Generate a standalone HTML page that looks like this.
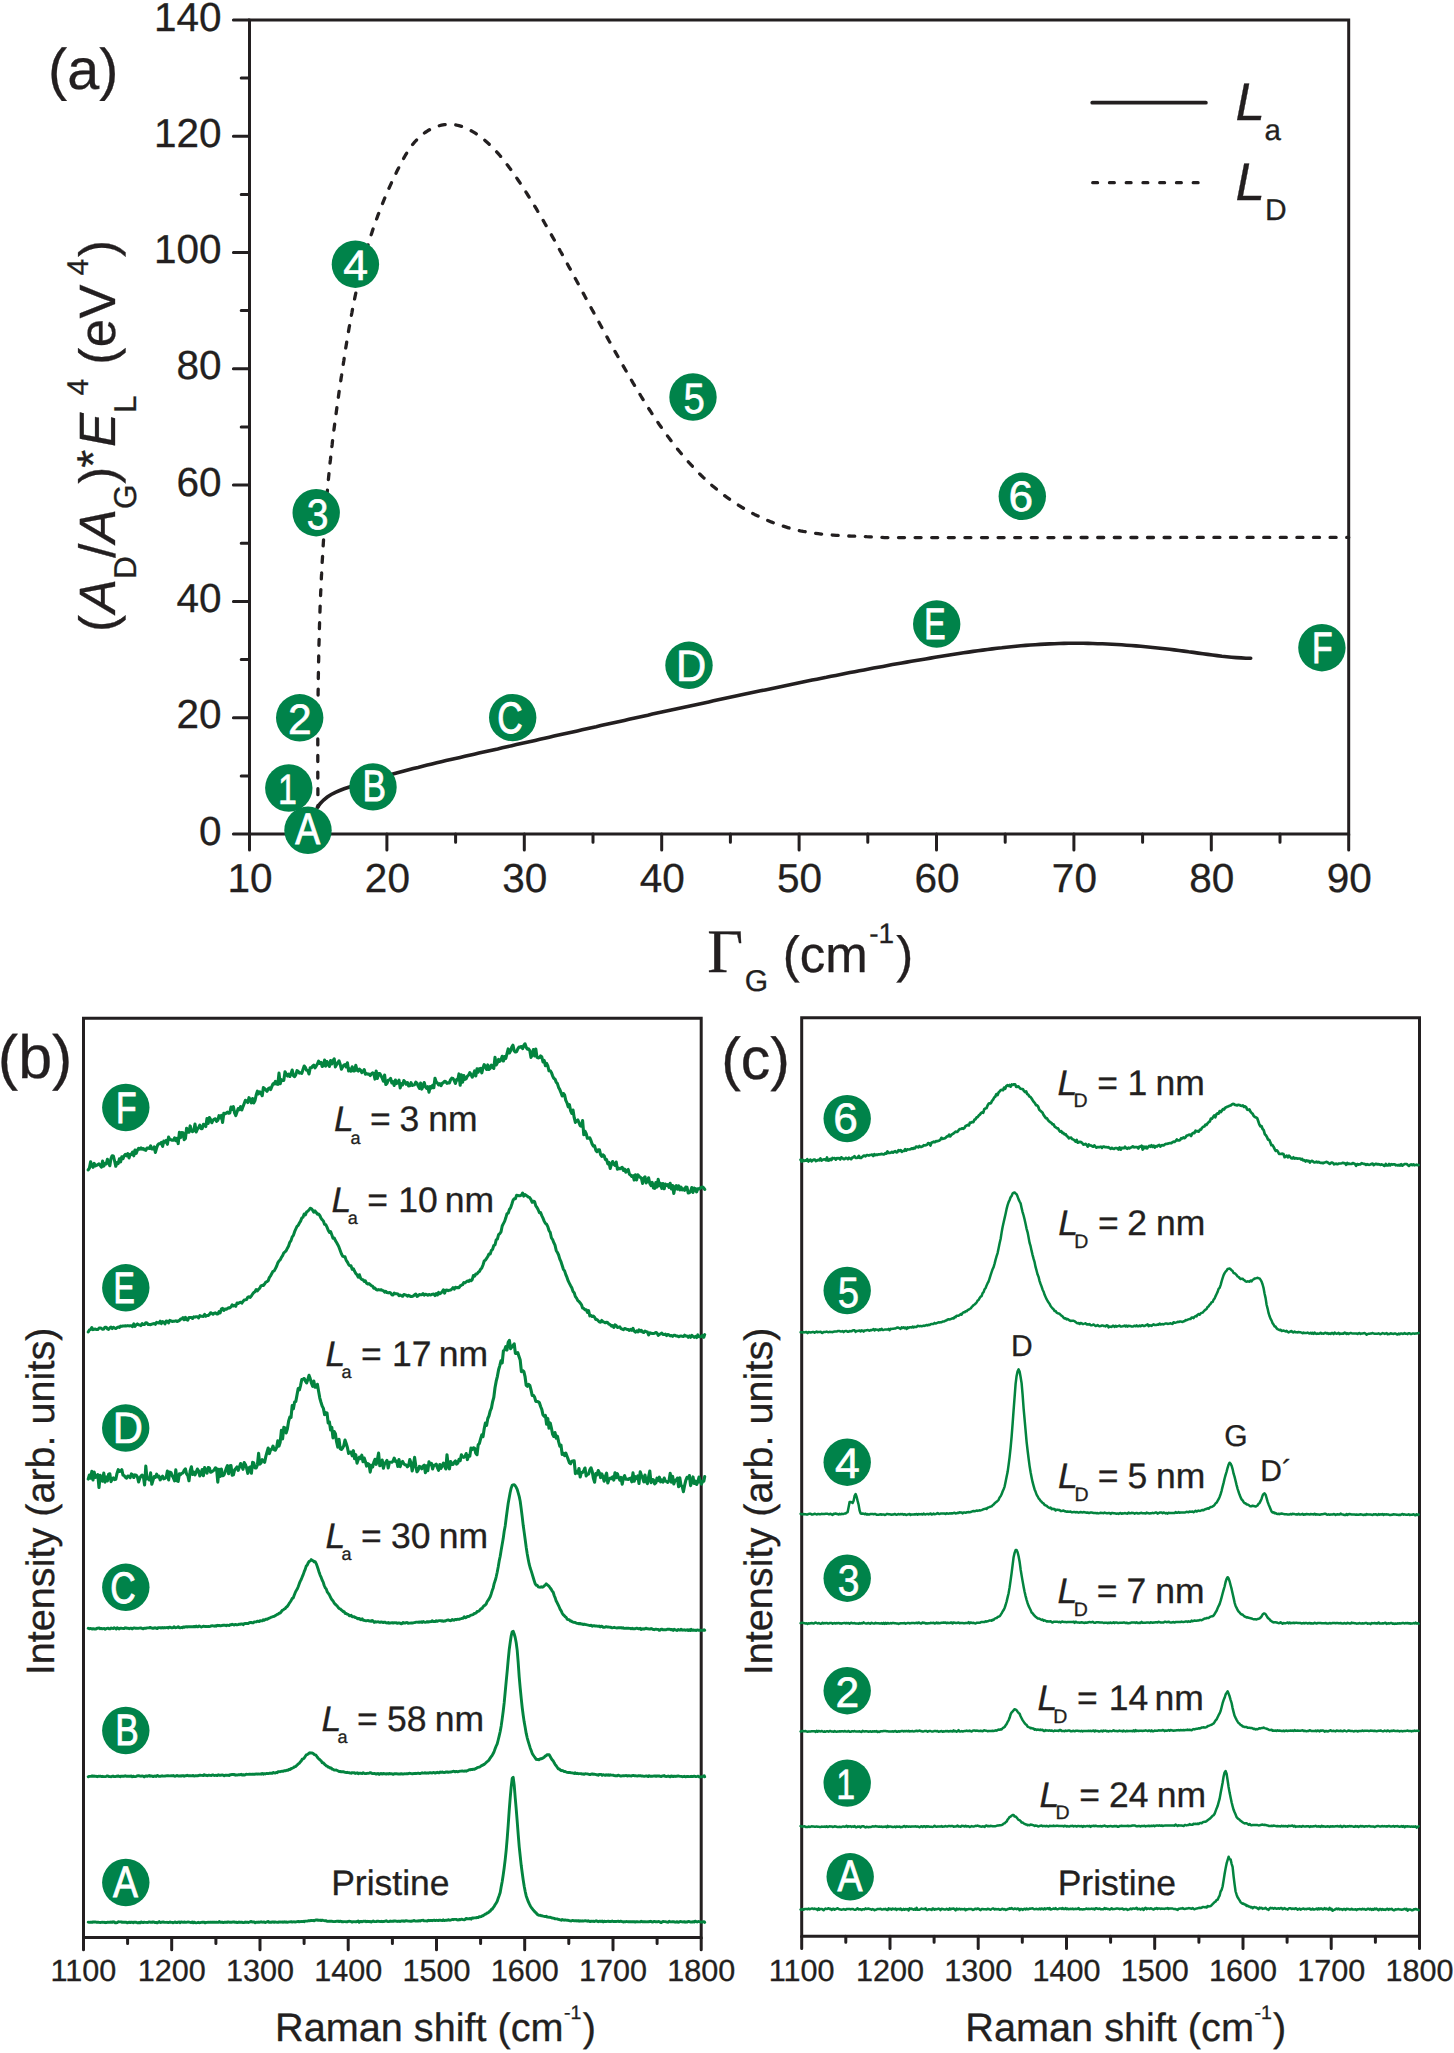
<!DOCTYPE html>
<html lang="en"><head><meta charset="utf-8"><title>Raman figure</title>
<style>html,body{margin:0;padding:0;background:#fff;width:1454px;height:2053px;overflow:hidden}svg{display:block}text{font-family:'Liberation Sans', Arial, sans-serif;fill:#231f20;text-rendering:geometricPrecision;stroke:#231f20;stroke-width:.3px}.ax{stroke:#231f20;stroke-width:3;fill:none;stroke-linecap:round}.sp{stroke:#03843f;fill:none;stroke-linejoin:round;stroke-linecap:round}.cl{fill:#fff;stroke:#fff;stroke-width:0.6px;vector-effect:non-scaling-stroke;stroke-linejoin:miter}.it{font-style:italic}</style></head><body>
<svg width="1454" height="2053" viewBox="0 0 1454 2053">
<rect width="1454" height="2053" fill="#fff"/>
<g id="panel-a">
<path class="ax" style="stroke-linecap:square" d="M249.5 19.9 H1348.7 V834 H249.5 Z"/>
<path class="ax" d="M249.5 834 h-16.1M249.5 775.9 h-8.3M249.5 717.7 h-16.1M249.5 659.5 h-8.3M249.5 601.4 h-16.1M249.5 543.2 h-8.3M249.5 485.1 h-16.1M249.5 426.9 h-8.3M249.5 368.8 h-16.1M249.5 310.6 h-8.3M249.5 252.5 h-16.1M249.5 194.4 h-8.3M249.5 136.2 h-16.1M249.5 78 h-8.3M249.5 19.9 h-16.1M249.5 834 v16M318.2 834 v8.3M386.9 834 v16M455.6 834 v8.3M524.3 834 v16M593 834 v8.3M661.7 834 v16M730.4 834 v8.3M799.1 834 v16M867.8 834 v8.3M936.5 834 v16M1005.2 834 v8.3M1073.9 834 v16M1142.6 834 v8.3M1211.3 834 v16M1280 834 v8.3M1348.7 834 v16"/>
<g font-size="40.5" text-anchor="end">
<text x="221.6" y="844.6">0</text>
<text x="221.6" y="728.3">20</text>
<text x="221.6" y="612">40</text>
<text x="221.6" y="495.7">60</text>
<text x="221.6" y="379.4">80</text>
<text x="221.6" y="263.1">100</text>
<text x="221.6" y="146.8">120</text>
<text x="221.6" y="30.5">140</text>
</g>
<g font-size="40.5" text-anchor="middle">
<text x="250" y="892.4">10</text>
<text x="387.4" y="892.4">20</text>
<text x="524.8" y="892.4">30</text>
<text x="662.2" y="892.4">40</text>
<text x="799.6" y="892.4">50</text>
<text x="937" y="892.4">60</text>
<text x="1074.4" y="892.4">70</text>
<text x="1211.8" y="892.4">80</text>
<text x="1349.2" y="892.4">90</text>
</g>
<path d="M1348.7 537.4 L884.6 537.6 L881.7 537.4 L878.7 537.3 L875.7 537.1 L872.6 536.9 L869.6 536.8 L866.6 536.7 L863.6 536.5 L860.6 536.4 L857.5 536.3 L854.5 536.2 L851.5 536.1 L848.4 536 L845.4 535.8 L842.4 535.7 L839.3 535.5 L836.3 535.3 L833.3 535.1 L830.2 534.9 L827.2 534.6 L824.2 534.4 L821.2 534.1 L818.2 533.7 L815.2 533.3 L812.2 532.9 L809.2 532.4 L806.2 531.9 L803.2 531.4 L800.3 530.8 L797.3 530.1 L794.3 529.4 L791.4 528.6 L788.5 527.8 L785.6 526.9 L782.7 526 L779.8 525.1 L776.9 524.1 L774.1 523 L771.2 521.9 L768.4 520.7 L765.6 519.6 L762.8 518.3 L760.1 517 L757.3 515.7 L754.6 514.4 L751.9 513 L749.2 511.5 L746.6 510 L744 508.5 L741.4 507 L738.8 505.4 L736.2 503.7 L733.7 502.1 L731.2 500.4 L728.8 498.7 L726.3 496.9 L723.9 495.1 L721.6 493.3 L719.2 491.4 L716.9 489.5 L714.6 487.6 L712.3 485.7 L710.1 483.7 L707.9 481.7 L705.7 479.6 L703.5 477.6 L701.3 475.5 L699.2 473.4 L697.1 471.3 L695 469.1 L693 466.9 L690.9 464.7 L688.9 462.5 L686.9 460.2 L684.9 458 L683 455.7 L681 453.3 L679.1 451 L677.2 448.7 L675.3 446.3 L673.5 443.9 L671.6 441.5 L669.8 439.1 L668 436.6 L666.2 434.2 L664.4 431.7 L662.6 429.2 L660.9 426.7 L659.1 424.2 L657.4 421.7 L655.7 419.2 L654 416.7 L652.3 414.1 L650.7 411.5 L649 409 L647.4 406.4 L645.7 403.8 L644.1 401.2 L642.5 398.6 L640.9 396 L639.3 393.4 L637.7 390.8 L636.2 388.1 L634.6 385.5 L633 382.9 L631.5 380.3 L630 377.6 L628.4 375 L626.9 372.4 L625.4 369.7 L623.9 367.1 L622.4 364.5 L620.9 361.8 L619.4 359.2 L617.9 356.5 L616.4 353.9 L614.9 351.3 L613.4 348.6 L612 346 L610.5 343.3 L609 340.7 L607.6 338.1 L606.1 335.4 L604.7 332.8 L603.2 330.1 L601.8 327.5 L600.3 324.8 L598.9 322.2 L597.5 319.5 L596 316.9 L594.6 314.3 L593.2 311.6 L591.7 309 L590.3 306.3 L588.9 303.7 L587.5 301 L586 298.4 L584.6 295.7 L583.2 293.1 L581.7 290.4 L580.3 287.8 L578.9 285.1 L577.5 282.5 L576 279.8 L574.6 277.2 L573.2 274.5 L571.7 271.9 L570.3 269.2 L568.8 266.6 L567.4 263.9 L566 261.3 L564.5 258.6 L563.1 256 L561.6 253.3 L560.1 250.7 L558.7 248 L557.2 245.3 L555.7 242.7 L554.3 240 L552.8 237.4 L551.3 234.7 L549.8 232.1 L548.3 229.4 L546.8 226.8 L545.3 224.2 L543.8 221.5 L542.3 218.9 L540.7 216.3 L539.2 213.6 L537.6 211 L536.1 208.4 L534.5 205.8 L532.9 203.2 L531.3 200.6 L529.7 198 L528.1 195.5 L526.5 192.9 L524.9 190.3 L523.2 187.8 L521.6 185.3 L519.9 182.7 L518.2 180.2 L516.5 177.7 L514.8 175.3 L513.1 172.8 L511.3 170.3 L509.6 167.9 L507.8 165.5 L505.9 163.1 L504.1 160.7 L502.2 158.4 L500.3 156 L498.3 153.7 L496.3 151.5 L494.2 149.3 L492.1 147.1 L489.9 144.9 L487.6 142.8 L485.3 140.7 L482.9 138.7 L480.4 136.8 L477.9 135 L475.3 133.2 L472.7 131.6 L470 130.1 L467.3 128.7 L464.6 127.5 L461.8 126.5 L458.9 125.7 L456.1 125 L453.2 124.6 L450.3 124.4 L447.3 124.4 L444.4 124.7 L441.5 125.2 L438.6 125.9 L435.8 126.8 L433 128 L430.3 129.3 L427.7 130.8 L425.1 132.5 L422.7 134.3 L420.4 136.2 L418.2 138.3 L416.1 140.5 L414.1 142.7 L412.2 145.1 L410.4 147.5 L408.7 150 L407 152.6 L405.4 155.2 L403.9 157.9 L402.4 160.6 L401 163.3 L399.5 166.1 L398.2 168.8 L396.8 171.6 L395.5 174.3 L394.1 177.1 L392.8 179.9 L391.5 182.7 L390.3 185.4 L389 188.2 L387.8 191 L386.6 193.8 L385.4 196.6 L384.2 199.3 L383.1 202.1 L382 204.9 L380.8 207.7 L379.8 210.6 L378.7 213.4 L377.6 216.2 L376.6 219 L375.6 221.8 L374.6 224.7 L373.6 227.5 L372.6 230.4 L371.7 233.2 L370.7 236.1 L369.8 238.9 L368.9 241.8 L368.1 244.7 L367.2 247.6 L366.4 250.5 L365.5 253.4 L364.7 256.3 L363.9 259.2 L363.2 262.1 L362.4 265 L361.6 267.9 L360.9 270.9 L360.2 273.8 L359.5 276.7 L358.8 279.7 L358.1 282.6 L357.5 285.6 L356.8 288.5 L356.2 291.5 L355.5 294.5 L354.9 297.4 L354.3 300.4 L353.7 303.4 L353.1 306.3 L352.5 309.3 L352 312.3 L351.4 315.3 L350.9 318.3 L350.3 321.3 L349.8 324.3 L349.2 327.3 L348.7 330.2 L348.2 333.2 L347.7 336.2 L347.2 339.2 L346.7 342.2 L346.2 345.2 L345.7 348.2 L345.3 351.2 L344.8 354.2 L344.3 357.3 L343.9 360.3 L343.4 363.3 L342.9 366.3 L342.5 369.3 L342 372.3 L341.6 375.3 L341.1 378.3 L340.7 381.3 L340.2 384.3 L339.8 387.3 L339.3 390.3 L338.9 393.2 L338.5 396.2 L338.1 399.2 L337.6 402.2 L337.2 405.2 L336.8 408.2 L336.4 411.2 L336 414.2 L335.6 417.2 L335.2 420.2 L334.8 423.2 L334.4 426.2 L334 429.2 L333.6 432.2 L333.3 435.2 L332.9 438.2 L332.5 441.2 L332.2 444.2 L331.8 447.2 L331.5 450.2 L331.1 453.2 L330.8 456.2 L330.5 459.2 L330.1 462.3 L329.8 465.3 L329.5 468.3 L329.2 471.3 L328.9 474.3 L328.6 477.3 L328.3 480.3 L328 483.3 L327.8 486.3 L327.5 489.3 L327.2 492.4 L326.9 495.4 L326.7 498.4 L326.4 501.4 L326.2 504.4 L325.9 507.4 L325.7 510.4 L325.4 513.5 L325.2 516.5 L325 519.5 L324.7 522.5 L324.5 525.5 L324.3 528.6 L324.1 531.6 L323.9 534.6 L323.7 537.6 L323.5 540.6 L323.3 543.7 L323.1 546.7 L322.9 549.7 L322.7 552.7 L322.6 555.7 L322.4 558.8 L322.2 561.8 L322.1 564.8 L321.9 567.8 L321.7 570.9 L321.6 573.9 L321.4 576.9 L321.3 579.9 L321.1 583 L321 586 L320.9 589 L320.7 592 L320.6 595.1 L320.5 598.1 L320.4 601.1 L320.2 604.1 L320.1 607.2 L320 610.2 L319.9 613.2 L319.8 616.3 L319.7 619.3 L319.6 622.3 L319.5 625.3 L319.4 628.4 L319.3 631.4 L319.2 634.4 L319.2 637.5 L319.1 640.5 L319 643.5 L318.9 646.5 L318.9 649.6 L318.8 652.6 L318.7 655.6 L318.7 658.7 L318.6 661.7 L318.5 664.7 L318.5 667.8 L318.4 670.8 L318.4 673.8 L318.3 676.8 L318.3 679.9 L318.2 682.9 L318.2 685.9 L318.2 689 L318.1 692 L318.1 695 L318.1 698 L318 701.1 L318 704.1 L318 707.1 L317.9 710.2 L317.9 713.2 L317.9 716.2 L317.9 719.2 L317.9 722.3 L317.9 725.3 L317.8 728.3 L317.8 731.4 L317.8 734.4 L317.8 737.4 L317.8 740.4 L317.8 743.5 L317.8 746.5 L317.8 749.5 L317.8 752.5 L317.8 755.6 L317.8 758.6 L317.8 761.6 L317.8 764.6 L317.8 767.7 L317.8 770.7 L317.8 773.7 L317.8 776.7 L317.8 779.8 L317.9 782.8 L317.9 785.8 L317.9 788.8 L317.9 791.8 L317.9 794.9 L317.9 797.9 L317.9 800.9 L318 803.9 L318 806.9" fill="none" stroke="#231f20" stroke-width="3.3" stroke-linecap="round" stroke-linejoin="round" stroke-dasharray="6 10.6" stroke-dashoffset="4.0"/>
<path d="M317.4 807.4 L320.3 803.4 L323.6 800 L327.3 797 L331.2 794.5 L335.4 792.3 L339.7 790.5 L344.1 788.8 L348.7 787.2 L353.2 785.7 L357.8 784.2 L362.4 782.8 L367 781.3 L371.6 780 L376.2 778.6 L380.8 777.3 L385.4 775.9 L390 774.7 L394.7 773.4 L399.3 772.2 L404 770.9 L408.6 769.7 L413.3 768.5 L418 767.4 L422.6 766.2 L427.3 765.1 L432 763.9 L436.7 762.8 L441.3 761.7 L446 760.6 L450.7 759.5 L455.4 758.5 L460.1 757.4 L464.8 756.3 L469.5 755.2 L474.2 754.2 L478.9 753.1 L483.6 752.1 L488.3 751 L493 749.9 L497.7 748.9 L502.3 747.8 L507 746.7 L511.7 745.7 L516.4 744.6 L521.1 743.5 L525.8 742.5 L530.5 741.4 L535.2 740.4 L539.9 739.3 L544.6 738.2 L549.3 737.2 L554 736.1 L558.6 735.1 L563.3 734 L568 733 L572.7 731.9 L577.4 730.9 L582.1 729.8 L586.8 728.8 L591.5 727.7 L596.2 726.7 L600.8 725.6 L605.5 724.6 L610.2 723.5 L614.9 722.5 L619.6 721.4 L624.3 720.4 L629 719.3 L633.7 718.3 L638.4 717.3 L643.1 716.2 L647.8 715.2 L652.4 714.1 L657.1 713.1 L661.8 712.1 L666.5 711.1 L671.2 710 L675.9 709 L680.6 708 L685.3 707 L690 705.9 L694.7 704.9 L699.4 703.9 L704.1 702.9 L708.8 701.9 L713.5 700.8 L718.2 699.8 L722.9 698.8 L727.6 697.8 L732.3 696.8 L737 695.8 L741.6 694.8 L746.3 693.8 L751.1 692.8 L755.8 691.8 L760.5 690.8 L765.2 689.9 L769.9 688.9 L774.6 687.9 L779.3 686.9 L784 685.9 L788.7 684.9 L793.4 684 L798.1 683 L802.8 682 L807.5 681.1 L812.2 680.1 L816.9 679.2 L821.6 678.2 L826.4 677.3 L831.1 676.3 L835.8 675.4 L840.5 674.5 L845.2 673.5 L849.9 672.6 L854.7 671.7 L859.4 670.8 L864.1 669.9 L868.8 669 L873.6 668.1 L878.3 667.2 L883 666.4 L887.7 665.5 L892.5 664.6 L897.2 663.8 L901.9 662.9 L906.7 662.1 L911.4 661.3 L916.1 660.5 L920.9 659.7 L925.6 658.9 L930.4 658.1 L935.1 657.3 L939.9 656.5 L944.6 655.8 L949.4 655 L954.1 654.3 L958.9 653.5 L963.6 652.8 L968.4 652.1 L973.1 651.4 L977.9 650.8 L982.7 650.1 L987.4 649.5 L992.2 648.9 L997 648.3 L1001.8 647.8 L1006.5 647.2 L1011.3 646.7 L1016.1 646.2 L1020.9 645.8 L1025.6 645.4 L1030.4 645 L1035.2 644.7 L1040 644.4 L1044.8 644.1 L1049.6 643.9 L1054.4 643.7 L1059.2 643.5 L1064 643.4 L1068.8 643.3 L1073.6 643.3 L1078.4 643.3 L1083.2 643.3 L1088 643.4 L1092.8 643.5 L1097.6 643.7 L1102.4 643.8 L1107.2 644 L1112 644.3 L1116.8 644.5 L1121.6 644.8 L1126.5 645.2 L1131.3 645.5 L1136 645.9 L1140.8 646.3 L1145.6 646.8 L1150.4 647.2 L1155.2 647.7 L1160 648.2 L1164.8 648.8 L1169.6 649.3 L1174.3 649.9 L1179.1 650.5 L1183.9 651.1 L1188.6 651.8 L1193.4 652.4 L1198.2 653.1 L1202.9 653.7 L1207.7 654.4 L1212.4 655 L1217.2 655.6 L1221.9 656.2 L1226.7 656.7 L1231.5 657.2 L1236.3 657.6 L1241.1 657.9 L1245.9 658.2 L1250.7 658.3" fill="none" stroke="#231f20" stroke-width="3.6" stroke-linecap="round"/>
<path d="M1092.2 102.7 H1205.9" stroke="#231f20" stroke-width="3.7" stroke-linecap="round"/>
<path d="M1092.7 182.7 H1199" stroke="#231f20" stroke-width="3.2" stroke-linecap="round" stroke-dasharray="4.9 11.85"/>
<text x="1235.6" y="119.9" font-size="53"><tspan class="it">L</tspan><tspan font-size="29.5" dy="20.3" dx="-0.5">a</tspan></text>
<text x="1235.6" y="200" font-size="53"><tspan class="it">L</tspan><tspan font-size="30" dy="19.7" dx="0">D</tspan></text>
<text x="48" y="89" font-size="57.5">(a)</text>
<text transform="translate(115.2 625) rotate(-90)"><tspan x="-7" y="0" font-size="51">(</tspan><tspan x="12" y="0" font-size="51" class="it">A</tspan><tspan x="46" y="20.5" font-size="31.5">D</tspan><tspan x="67.2" y="0" font-size="51">/</tspan><tspan x="81.9" y="0" font-size="51" class="it">A</tspan><tspan x="115.9" y="20.5" font-size="31.5">G</tspan><tspan x="141.2" y="0" font-size="51">)</tspan><tspan x="157.2" y="-6" font-size="46">*</tspan><tspan x="178" y="0" font-size="51" class="it">E</tspan><tspan x="212" y="20.5" font-size="31.5">L</tspan><tspan x="229.6" y="-27.6" font-size="30">4</tspan><tspan x="260.2" y="0" font-size="51">(</tspan><tspan x="277.8" y="0" font-size="51">e</tspan><tspan x="306.5" y="0" font-size="51">V</tspan><tspan x="349.5" y="-27.6" font-size="30">4</tspan><tspan x="368.1" y="0" font-size="51">)</tspan></text>
<text x="707.2" y="972.1" font-size="51"><tspan font-family="'Liberation Serif', 'Times New Roman', serif" font-size="62">Γ</tspan><tspan font-size="30" dy="18.8" dx="1.6">G</tspan><tspan dy="-18.8" dx="0.6"> (cm</tspan><tspan font-size="28" dy="-29.2" dx="1.5">-1</tspan><tspan dy="29.2" dx="2">)</tspan></text>
<circle cx="288.8" cy="788" r="23.7" fill="#00834a"/>
<text class="cl" transform="translate(277.89 803.62) scale(0.8 1)" font-size="42.5">1</text>
<circle cx="299.7" cy="717.8" r="23.7" fill="#00834a"/>
<text class="cl" transform="translate(287.88 733.93) scale(1.0 1)" font-size="42.5">2</text>
<circle cx="316.2" cy="512.7" r="23.7" fill="#00834a"/>
<text class="cl" transform="translate(306.65 529.02) scale(0.92 1)" font-size="42.5">3</text>
<circle cx="355.4" cy="264.2" r="23.7" fill="#00834a"/>
<text class="cl" transform="translate(343.13 280.02) scale(1.05 1)" font-size="42.5">4</text>
<circle cx="693" cy="397" r="23.7" fill="#00834a"/>
<text class="cl" transform="translate(683.50 413.01) scale(0.9 1)" font-size="42.5">5</text>
<circle cx="1022.3" cy="496.3" r="23.7" fill="#00834a"/>
<text class="cl" transform="translate(1008.46 510.62) scale(1.04 1)" font-size="42.5">6</text>
<circle cx="308" cy="830.3" r="23.7" fill="#00834a"/>
<text class="cl" transform="translate(295.28 844.34) scale(0.85 1)" font-size="44" style="stroke-width:0.84px">A</text>
<circle cx="373" cy="786.9" r="23.7" fill="#00834a"/>
<text class="cl" transform="translate(362.45 801.44) scale(0.8 1)" font-size="44" style="stroke-width:0.92px">B</text>
<circle cx="512.7" cy="717.6" r="23.7" fill="#00834a"/>
<text class="cl" transform="translate(497.16 732.94) scale(0.8 1)" font-size="44" style="stroke-width:0.92px">C</text>
<circle cx="689" cy="665.3" r="23.7" fill="#00834a"/>
<text class="cl" transform="translate(676.00 680.74) scale(0.95 1)" font-size="44" style="stroke-width:0.68px">D</text>
<circle cx="936.7" cy="624" r="23.7" fill="#00834a"/>
<text class="cl" transform="translate(924.34 639.24) scale(0.725 1)" font-size="44" style="stroke-width:1.04px">E</text>
<circle cx="1321.9" cy="647.7" r="23.7" fill="#00834a"/>
<text class="cl" transform="translate(1312.11 662.84) scale(0.765 1)" font-size="44" style="stroke-width:0.98px">F</text>
</g>
<g id="panel-b">
<path class="ax" style="stroke-linecap:square" d="M83.5 1018.2 H701.2 V1937.4 H83.5 Z"/>
<path class="sp" stroke-width="3.1" d="M88.2 1169.9 L89.4 1168.1 L90.6 1161.8 L91.8 1165.8 L93 1167.3 L94.2 1163.4 L95.4 1165.9 L96.6 1165.2 L97.8 1164.7 L99 1163.9 L100.2 1165.3 L101.4 1167.1 L102.6 1161 L103.8 1166.1 L105 1163.6 L106.2 1163.9 L107.4 1159.3 L108.6 1162.4 L109.8 1165.7 L111 1158.5 L112.2 1155.7 L113.4 1156 L114.6 1161 L115.8 1166.3 L117 1162.5 L118.2 1163.5 L119.4 1158.8 L120.6 1161.8 L121.8 1156.8 L123 1158.7 L124.2 1155.7 L125.4 1154.4 L126.6 1155.8 L127.8 1153.6 L129 1157.9 L130.2 1154.4 L131.4 1154.4 L132.6 1152 L133.8 1155.8 L135 1150 L136.2 1153.4 L137.4 1150.3 L138.6 1148.3 L139.8 1149.1 L141 1147.9 L142.2 1149.2 L143.4 1148.5 L144.6 1149.9 L145.8 1150.3 L147 1148 L148.2 1148 L149.4 1148.5 L150.6 1145.9 L151.8 1149 L153 1149 L154.2 1146.9 L155.4 1152.4 L156.6 1148 L157.8 1144.8 L159 1143.7 L160.2 1143.6 L161.4 1142.5 L162.6 1146.4 L163.8 1141 L165 1142.2 L166.2 1140.5 L167.4 1144.3 L168.6 1137.1 L169.8 1139.5 L171 1139.7 L172.2 1140.3 L173.4 1140.2 L174.6 1137.9 L175.8 1140.6 L177 1138.3 L178.2 1143.6 L179.4 1132.4 L180.6 1137.6 L181.8 1132.6 L183 1132.7 L184.2 1139.7 L185.4 1138.5 L186.6 1128.3 L187.8 1132.2 L189 1132.1 L190.2 1125.9 L191.4 1131 L192.6 1131.7 L193.8 1130.6 L195 1124.1 L196.2 1131.9 L197.4 1129.1 L198.6 1127.7 L199.8 1125.2 L201 1128.6 L202.2 1128.6 L203.4 1124.3 L204.6 1125.2 L205.8 1126.6 L207 1118.5 L208.2 1123.5 L209.4 1117.5 L210.6 1119.5 L211.8 1122.7 L213 1120.4 L214.2 1119.2 L215.4 1118.8 L216.6 1121.3 L217.8 1120.3 L219 1115.7 L220.2 1117.9 L221.4 1115.3 L222.6 1122.4 L223.8 1113.3 L225 1113.8 L226.2 1113.1 L227.4 1112.2 L228.6 1113.2 L229.8 1112.9 L231 1107.1 L232.2 1109.3 L233.4 1106.7 L234.6 1112.9 L235.8 1115.6 L237 1112 L238.2 1108.5 L239.4 1109.7 L240.6 1106.7 L241.8 1110 L243 1106.6 L244.2 1103.5 L245.4 1100.3 L246.6 1100.9 L247.8 1102.6 L249 1097.7 L250.2 1099.5 L251.4 1102.9 L252.6 1098.5 L253.8 1102.9 L255 1100.5 L256.2 1095 L257.4 1091.2 L258.6 1093.8 L259.8 1091.8 L261 1093.3 L262.2 1095.7 L263.4 1087.5 L264.6 1088.7 L265.8 1089.9 L267 1091.3 L268.2 1088.8 L269.4 1087.9 L270.6 1089.6 L271.8 1086.6 L273 1083.9 L274.2 1084 L275.4 1081.3 L276.6 1084 L277.8 1084.4 L279 1073.1 L280.2 1083.8 L281.4 1079.7 L282.6 1080.5 L283.8 1080.4 L285 1071.8 L286.2 1074.2 L287.4 1076 L288.6 1074.1 L289.8 1076.5 L291 1073.8 L292.2 1070 L293.4 1075.8 L294.6 1076.6 L295.8 1074.6 L297 1070.7 L298.2 1071.4 L299.4 1073.1 L300.6 1072.8 L301.8 1073.4 L303 1069.5 L304.2 1066 L305.4 1067.5 L306.6 1070.3 L307.8 1070.5 L309 1074 L310.2 1067.9 L311.4 1067.8 L312.6 1066.2 L313.8 1065.1 L315 1067.8 L316.2 1066.1 L317.4 1064 L318.6 1061.2 L319.8 1063.4 L321 1062.3 L322.2 1066.5 L323.4 1065.5 L324.6 1060.1 L325.8 1066.1 L327 1061.5 L328.2 1063.5 L329.4 1066.5 L330.6 1060.6 L331.8 1064 L333 1060.8 L334.2 1058.8 L335.4 1066.9 L336.6 1064.6 L337.8 1062.6 L339 1060.8 L340.2 1064.3 L341.4 1069.2 L342.6 1067 L343.8 1065.2 L345 1064.6 L346.2 1067 L347.4 1062.8 L348.6 1070.9 L349.8 1069 L351 1071.2 L352.2 1066.8 L353.4 1071 L354.6 1070.9 L355.8 1065.3 L357 1070.2 L358.2 1071.1 L359.4 1069.1 L360.6 1070.1 L361.8 1072.6 L363 1071.7 L364.2 1069.5 L365.4 1074.2 L366.6 1073.6 L367.8 1074.1 L369 1074.1 L370.2 1075.5 L371.4 1074 L372.6 1072.9 L373.8 1073.6 L375 1079.1 L376.2 1071.1 L377.4 1078.5 L378.6 1073.6 L379.8 1073.6 L381 1075.7 L382.2 1078.1 L383.4 1081.2 L384.6 1075 L385.8 1084.5 L387 1083.4 L388.2 1080.2 L389.4 1080 L390.6 1078.5 L391.8 1082.9 L393 1081.7 L394.2 1085.5 L395.4 1080.1 L396.6 1083.6 L397.8 1082.2 L399 1080.2 L400.2 1087.9 L401.4 1083.7 L402.6 1084.9 L403.8 1080.6 L405 1081.8 L406.2 1084.2 L407.4 1082.6 L408.6 1086 L409.8 1085.8 L411 1082.7 L412.2 1085.4 L413.4 1085.1 L414.6 1084.7 L415.8 1082.2 L417 1083.2 L418.2 1086.1 L419.4 1088.4 L420.6 1083.1 L421.8 1089.1 L423 1086.4 L424.2 1082.5 L425.4 1086.8 L426.6 1088.4 L427.8 1086.7 L429 1092.2 L430.2 1086.6 L431.4 1088 L432.6 1085.4 L433.8 1087.7 L435 1078.2 L436.2 1082 L437.4 1083 L438.6 1084.9 L439.8 1083.7 L441 1085.7 L442.2 1083.4 L443.4 1082.6 L444.6 1081.3 L445.8 1081.8 L447 1083.4 L448.2 1082.9 L449.4 1082.9 L450.6 1079.6 L451.8 1078.1 L453 1078.5 L454.2 1080.4 L455.4 1083.5 L456.6 1079.6 L457.8 1079.9 L459 1073.9 L460.2 1085.3 L461.4 1074.7 L462.6 1082.3 L463.8 1075.6 L465 1079.3 L466.2 1078.6 L467.4 1076.1 L468.6 1075.1 L469.8 1072.6 L471 1074.6 L472.2 1077.2 L473.4 1074.8 L474.6 1070.9 L475.8 1075.9 L477 1068.9 L478.2 1072.2 L479.4 1068.7 L480.6 1068.4 L481.8 1072.8 L483 1068.1 L484.2 1064.6 L485.4 1066.6 L486.6 1069.5 L487.8 1064.9 L489 1069.5 L490.2 1068.3 L491.4 1065.1 L492.6 1067.3 L493.8 1068.4 L495 1057.3 L496.2 1065 L497.4 1062.7 L498.6 1059.4 L499.8 1061.3 L501 1059.7 L502.2 1056.3 L503.4 1061 L504.6 1056.5 L505.8 1058.5 L507 1053.6 L508.2 1048.9 L509.4 1053 L510.6 1050.7 L511.8 1047.1 L513 1045.2 L514.2 1050.9 L515.4 1052 L516.6 1051.7 L517.8 1048.9 L519 1047 L520.2 1047.1 L521.4 1046.5 L522.6 1048.6 L523.8 1045.4 L525 1043.8 L526.2 1047.3 L527.4 1049.2 L528.6 1048.9 L529.8 1050.6 L531 1057.4 L532.2 1054.8 L533.4 1049.5 L534.6 1055.9 L535.8 1049 L537 1057.4 L538.2 1057.9 L539.4 1057.6 L540.6 1055.9 L541.8 1057 L543 1061.9 L544.2 1060.4 L545.4 1065.7 L546.6 1063.4 L547.8 1065.9 L549 1070.8 L550.2 1070.7 L551.4 1072.5 L552.6 1075.8 L553.8 1078.3 L555 1079.2 L556.2 1082.2 L557.4 1083.6 L558.6 1087.4 L559.8 1089.6 L561 1092.6 L562.2 1096 L563.4 1093.5 L564.6 1095 L565.8 1100.3 L567 1102.8 L568.2 1106.8 L569.4 1104.5 L570.6 1110.6 L571.8 1113.5 L573 1110 L574.2 1117.7 L575.4 1122.4 L576.6 1120.9 L577.8 1120 L579 1122.7 L580.2 1125.8 L581.4 1126.2 L582.6 1120.6 L583.8 1134.8 L585 1131.2 L586.2 1133.6 L587.4 1138.3 L588.6 1138.1 L589.8 1137.9 L591 1140.7 L592.2 1144.2 L593.4 1146.1 L594.6 1145.8 L595.8 1150.2 L597 1151.7 L598.2 1149.8 L599.4 1149.7 L600.6 1154.6 L601.8 1156.4 L603 1154.8 L604.2 1155.9 L605.4 1159.6 L606.6 1159.6 L607.8 1163.8 L609 1162.5 L610.2 1168.5 L611.4 1164.4 L612.6 1161.5 L613.8 1164.3 L615 1165.4 L616.2 1162 L617.4 1169.2 L618.6 1168.3 L619.8 1168.8 L621 1168.1 L622.2 1167.3 L623.4 1170.4 L624.6 1169.2 L625.8 1172.2 L627 1170.3 L628.2 1169.5 L629.4 1174.2 L630.6 1175 L631.8 1176.5 L633 1175.7 L634.2 1180 L635.4 1174.8 L636.6 1180 L637.8 1174.8 L639 1176.1 L640.2 1177.3 L641.4 1178.2 L642.6 1183.5 L643.8 1178.1 L645 1176.9 L646.2 1182.9 L647.4 1181.4 L648.6 1177.8 L649.8 1183.4 L651 1185.5 L652.2 1182.4 L653.4 1188 L654.6 1188.3 L655.8 1182.6 L657 1187.1 L658.2 1179.3 L659.4 1185.7 L660.6 1183.4 L661.8 1188.3 L663 1183.5 L664.2 1188.8 L665.4 1184.1 L666.6 1185.3 L667.8 1184.6 L669 1187.4 L670.2 1183.3 L671.4 1188.9 L672.6 1185.5 L673.8 1193.5 L675 1186.9 L676.2 1185.7 L677.4 1189.2 L678.6 1185.8 L679.8 1189.9 L681 1187.2 L682.2 1189.9 L683.4 1188.9 L684.6 1190.4 L685.8 1187.1 L687 1187.2 L688.2 1192.9 L689.4 1192.7 L690.6 1191.5 L691.8 1187.5 L693 1192.4 L694.2 1188.1 L695.4 1188.6 L696.6 1191.9 L697.8 1188.7 L699 1188.9 L700.2 1188.1 L701.4 1187.2 L702.6 1187.1 L703.8 1188 L704.7 1189.4"/>
<path class="sp" stroke-width="3.0" d="M88.2 1331.9 L89.4 1329.9 L90.6 1329.6 L91.8 1327.5 L93 1329.7 L94.2 1329.3 L95.4 1329 L96.6 1329.6 L97.8 1329.6 L99 1328.1 L100.2 1328.1 L101.4 1328.3 L102.6 1329.3 L103.8 1329 L105 1327.2 L106.2 1327.2 L107.4 1328.8 L108.6 1329.4 L109.8 1327.8 L111 1327.1 L112.2 1328.6 L113.4 1327.2 L114.6 1328 L115.8 1328.6 L117 1327.6 L118.2 1327 L119.4 1327.4 L120.6 1326.1 L121.8 1326.4 L123 1325.9 L124.2 1326.1 L125.4 1325.7 L126.6 1325.9 L127.8 1325.6 L129 1325.9 L130.2 1325.7 L131.4 1325.8 L132.6 1326.7 L133.8 1323.9 L135 1326.4 L136.2 1324.9 L137.4 1323.9 L138.6 1324.7 L139.8 1324.9 L141 1325.6 L142.2 1323.6 L143.4 1324.6 L144.6 1324.4 L145.8 1322.7 L147 1323 L148.2 1324.5 L149.4 1324.5 L150.6 1324.7 L151.8 1324.1 L153 1323.8 L154.2 1323.4 L155.4 1324.3 L156.6 1322.3 L157.8 1322.8 L159 1323.1 L160.2 1321.2 L161.4 1323.6 L162.6 1321.6 L163.8 1322.1 L165 1323.9 L166.2 1321.1 L167.4 1321.2 L168.6 1322.9 L169.8 1320.4 L171 1320.8 L172.2 1321.5 L173.4 1321.2 L174.6 1321.2 L175.8 1320.8 L177 1321.5 L178.2 1321 L179.4 1320.5 L180.6 1319.1 L181.8 1318.9 L183 1317.6 L184.2 1319.8 L185.4 1317.3 L186.6 1319.6 L187.8 1320.2 L189 1317.4 L190.2 1317.5 L191.4 1317.5 L192.6 1318.5 L193.8 1316.8 L195 1317.2 L196.2 1316.7 L197.4 1316.7 L198.6 1317.9 L199.8 1315.6 L201 1316.3 L202.2 1316.3 L203.4 1316.6 L204.6 1314.4 L205.8 1316.3 L207 1315.4 L208.2 1315.5 L209.4 1314.5 L210.6 1312.7 L211.8 1313.3 L213 1314.3 L214.2 1313.2 L215.4 1312.8 L216.6 1314 L217.8 1314 L219 1311.6 L220.2 1312.9 L221.4 1308.9 L222.6 1308.4 L223.8 1310.5 L225 1309 L226.2 1309.3 L227.4 1308.7 L228.6 1307.7 L229.8 1307.9 L231 1306.9 L232.2 1304.8 L233.4 1305.9 L234.6 1305.3 L235.8 1306.3 L237 1303 L238.2 1303.5 L239.4 1302.6 L240.6 1302.2 L241.8 1303.2 L243 1301.4 L244.2 1300 L245.4 1299.8 L246.6 1299.5 L247.8 1297.1 L249 1296.8 L250.2 1297.5 L251.4 1295.8 L252.6 1294 L253.8 1292.6 L255 1291.8 L256.2 1289.5 L257.4 1290.8 L258.6 1289.3 L259.8 1288.1 L261 1285.8 L262.2 1285.3 L263.4 1285.4 L264.6 1284 L265.8 1282.1 L267 1281.7 L268.2 1280.6 L269.4 1277.4 L270.6 1275.8 L271.8 1273.5 L273 1271.3 L274.2 1270.9 L275.4 1268.6 L276.6 1266.3 L277.8 1262.9 L279 1261 L280.2 1259.8 L281.4 1257.3 L282.6 1255.7 L283.8 1252.8 L285 1251.8 L286.2 1250.7 L287.4 1248.2 L288.6 1246 L289.8 1242.3 L291 1240.6 L292.2 1236.9 L293.4 1235.4 L294.6 1231.7 L295.8 1229 L297 1226.4 L298.2 1225.4 L299.4 1223 L300.6 1221.1 L301.8 1218 L303 1217.3 L304.2 1214 L305.4 1214.9 L306.6 1212 L307.8 1211.1 L309 1210 L310.2 1208.3 L311.4 1208.6 L312.6 1210.2 L313.8 1212.3 L315 1210.9 L316.2 1212.4 L317.4 1214.3 L318.6 1214.1 L319.8 1215.5 L321 1218.1 L322.2 1219.8 L323.4 1221 L324.6 1224.4 L325.8 1224.7 L327 1227.1 L328.2 1230.2 L329.4 1232.4 L330.6 1231.6 L331.8 1234.8 L333 1238.2 L334.2 1238 L335.4 1240.6 L336.6 1242.5 L337.8 1244.7 L339 1247.2 L340.2 1250.6 L341.4 1253.8 L342.6 1256.1 L343.8 1256.7 L345 1256.8 L346.2 1260.4 L347.4 1262 L348.6 1264.4 L349.8 1265.7 L351 1265.8 L352.2 1269.4 L353.4 1268.7 L354.6 1271.3 L355.8 1273.5 L357 1274.8 L358.2 1277.1 L359.4 1274.7 L360.6 1278.3 L361.8 1279.6 L363 1279.7 L364.2 1281.5 L365.4 1280.9 L366.6 1283.3 L367.8 1284.1 L369 1283.5 L370.2 1284.6 L371.4 1285.8 L372.6 1286.1 L373.8 1288.3 L375 1288.1 L376.2 1289.7 L377.4 1290.1 L378.6 1289.6 L379.8 1289.9 L381 1289.7 L382.2 1290.3 L383.4 1290.7 L384.6 1292.1 L385.8 1291.4 L387 1292.6 L388.2 1292.9 L389.4 1292.5 L390.6 1293 L391.8 1294.7 L393 1295 L394.2 1293 L395.4 1293.7 L396.6 1293.7 L397.8 1293.9 L399 1295.7 L400.2 1295 L401.4 1295.7 L402.6 1296.3 L403.8 1294.5 L405 1294.8 L406.2 1295.2 L407.4 1296.2 L408.6 1295.3 L409.8 1296 L411 1296.5 L412.2 1296.5 L413.4 1295.9 L414.6 1294.8 L415.8 1294 L417 1296.4 L418.2 1295.8 L419.4 1294.4 L420.6 1294.8 L421.8 1294.7 L423 1293.5 L424.2 1295.2 L425.4 1294.2 L426.6 1294.5 L427.8 1295.3 L429 1294.4 L430.2 1294.9 L431.4 1294.7 L432.6 1294.2 L433.8 1294.1 L435 1295.6 L436.2 1293.6 L437.4 1295 L438.6 1292.4 L439.8 1293.7 L441 1292.9 L442.2 1291.8 L443.4 1289.7 L444.6 1293.2 L445.8 1290.3 L447 1290.1 L448.2 1290.7 L449.4 1290.2 L450.6 1290 L451.8 1289.1 L453 1287.6 L454.2 1289.2 L455.4 1287.2 L456.6 1287.8 L457.8 1287.6 L459 1287.7 L460.2 1285.9 L461.4 1285.2 L462.6 1284.7 L463.8 1282.6 L465 1282.9 L466.2 1281.9 L467.4 1281 L468.6 1281.4 L469.8 1280 L471 1280.8 L472.2 1279.7 L473.4 1275.5 L474.6 1276.2 L475.8 1273.9 L477 1274 L478.2 1272.3 L479.4 1271.5 L480.6 1269.3 L481.8 1267.9 L483 1265 L484.2 1261 L485.4 1260.1 L486.6 1258.3 L487.8 1256.5 L489 1253.9 L490.2 1254.1 L491.4 1250.3 L492.6 1249.3 L493.8 1245.5 L495 1244.9 L496.2 1239.9 L497.4 1239 L498.6 1234.7 L499.8 1233.6 L501 1231.9 L502.2 1226 L503.4 1223.6 L504.6 1221.4 L505.8 1217.8 L507 1213.7 L508.2 1213.2 L509.4 1209.5 L510.6 1207.9 L511.8 1204.3 L513 1200.4 L514.2 1198.7 L515.4 1198.7 L516.6 1195.2 L517.8 1195.4 L519 1195.8 L520.2 1195.7 L521.4 1195.2 L522.6 1193 L523.8 1196.2 L525 1194.6 L526.2 1195.4 L527.4 1196.3 L528.6 1197.2 L529.8 1197.7 L531 1199.6 L532.2 1202.3 L533.4 1201.2 L534.6 1201.7 L535.8 1205.9 L537 1207.5 L538.2 1209.8 L539.4 1212.7 L540.6 1212.6 L541.8 1215.6 L543 1218.1 L544.2 1221.1 L545.4 1223.4 L546.6 1224.3 L547.8 1226.6 L549 1230.5 L550.2 1232.3 L551.4 1237.8 L552.6 1239.5 L553.8 1242.7 L555 1245.2 L556.2 1250.4 L557.4 1252.4 L558.6 1255 L559.8 1259.1 L561 1261.7 L562.2 1265.5 L563.4 1269.3 L564.6 1270.9 L565.8 1274.6 L567 1277.4 L568.2 1280.9 L569.4 1283.3 L570.6 1285.7 L571.8 1287.8 L573 1291.4 L574.2 1292.7 L575.4 1296.6 L576.6 1298.2 L577.8 1300.6 L579 1301.5 L580.2 1303 L581.4 1304.6 L582.6 1308.1 L583.8 1308.4 L585 1309.8 L586.2 1309.7 L587.4 1312.5 L588.6 1310.5 L589.8 1315.9 L591 1315.4 L592.2 1316.6 L593.4 1316.1 L594.6 1317.3 L595.8 1319.5 L597 1319.5 L598.2 1320.8 L599.4 1322.1 L600.6 1322.2 L601.8 1320.4 L603 1321.8 L604.2 1322.2 L605.4 1322.8 L606.6 1322.2 L607.8 1322.7 L609 1324.2 L610.2 1324.7 L611.4 1326.1 L612.6 1325.6 L613.8 1327.5 L615 1324.9 L616.2 1325.6 L617.4 1327.4 L618.6 1327.2 L619.8 1326.8 L621 1328.7 L622.2 1329.2 L623.4 1329.7 L624.6 1328.4 L625.8 1328.9 L627 1329.4 L628.2 1329.5 L629.4 1330.5 L630.6 1329.4 L631.8 1330.4 L633 1328.3 L634.2 1331.2 L635.4 1332.2 L636.6 1330.9 L637.8 1332 L639 1329.8 L640.2 1331.2 L641.4 1330.3 L642.6 1332.1 L643.8 1332.5 L645 1331 L646.2 1331.6 L647.4 1332 L648.6 1334.9 L649.8 1332.8 L651 1333.1 L652.2 1333.5 L653.4 1333.6 L654.6 1333.3 L655.8 1332.4 L657 1333.1 L658.2 1335.4 L659.4 1334.3 L660.6 1333.8 L661.8 1333.1 L663 1334.4 L664.2 1334.6 L665.4 1334.1 L666.6 1335.6 L667.8 1334.4 L669 1334.9 L670.2 1335.9 L671.4 1335.5 L672.6 1336.4 L673.8 1335.3 L675 1335.2 L676.2 1336 L677.4 1335.9 L678.6 1336.8 L679.8 1336.2 L681 1335.9 L682.2 1336.3 L683.4 1336.6 L684.6 1335.1 L685.8 1336 L687 1335.9 L688.2 1337.3 L689.4 1335.9 L690.6 1337.3 L691.8 1335.3 L693 1336.4 L694.2 1337.4 L695.4 1336.3 L696.6 1337.6 L697.8 1334.8 L699 1336.7 L700.2 1336.8 L701.4 1336.6 L702.6 1335.3 L703.8 1337.3 L704.7 1334.6"/>
<path class="sp" stroke-width="3.1" d="M88.2 1479.1 L89.4 1475 L90.6 1478.2 L91.8 1471.4 L93 1480 L94.2 1472 L95.4 1477.4 L96.6 1477 L97.8 1474.6 L99 1487.5 L100.2 1475.3 L101.4 1479.1 L102.6 1481.2 L103.8 1473.1 L105 1482.1 L106.2 1477 L107.4 1480.9 L108.6 1474.2 L109.8 1473.8 L111 1481.6 L112.2 1479.2 L113.4 1477.9 L114.6 1479.6 L115.8 1479.2 L117 1473.4 L118.2 1469.7 L119.4 1471.5 L120.6 1471.1 L121.8 1469.6 L123 1475.1 L124.2 1475.6 L125.4 1477.3 L126.6 1478.1 L127.8 1476 L129 1476.5 L130.2 1477.6 L131.4 1473.9 L132.6 1474.8 L133.8 1477.5 L135 1474.9 L136.2 1475.3 L137.4 1476.9 L138.6 1481.9 L139.8 1478.3 L141 1476 L142.2 1475.1 L143.4 1476.7 L144.6 1485 L145.8 1466.1 L147 1478.9 L148.2 1477.8 L149.4 1480 L150.6 1472.9 L151.8 1484.3 L153 1480.4 L154.2 1476.6 L155.4 1477.3 L156.6 1474.2 L157.8 1476.9 L159 1476.2 L160.2 1479.9 L161.4 1477.8 L162.6 1476.2 L163.8 1478.8 L165 1478.4 L166.2 1477.2 L167.4 1471 L168.6 1479.9 L169.8 1472.1 L171 1472.6 L172.2 1475.7 L173.4 1477.8 L174.6 1480.8 L175.8 1469.9 L177 1480.8 L178.2 1481.3 L179.4 1473.8 L180.6 1474.6 L181.8 1473.2 L183 1473 L184.2 1470.2 L185.4 1468.9 L186.6 1474 L187.8 1475.4 L189 1480.8 L190.2 1470.7 L191.4 1466.8 L192.6 1474.4 L193.8 1472.2 L195 1474.9 L196.2 1472.1 L197.4 1469 L198.6 1470.8 L199.8 1475.9 L201 1474 L202.2 1469.5 L203.4 1475.8 L204.6 1467.6 L205.8 1470.7 L207 1473.1 L208.2 1467.5 L209.4 1468 L210.6 1472.2 L211.8 1471.7 L213 1471 L214.2 1469.8 L215.4 1467.8 L216.6 1468.8 L217.8 1482.1 L219 1469.2 L220.2 1476.5 L221.4 1469.1 L222.6 1475.8 L223.8 1475.2 L225 1472.3 L226.2 1468.4 L227.4 1465.7 L228.6 1473.7 L229.8 1465.7 L231 1465.6 L232.2 1475.3 L233.4 1474.9 L234.6 1469.8 L235.8 1468.6 L237 1467 L238.2 1470.4 L239.4 1467.3 L240.6 1463.5 L241.8 1465.9 L243 1469.3 L244.2 1462.6 L245.4 1464.5 L246.6 1468.1 L247.8 1473.3 L249 1467.8 L250.2 1466.9 L251.4 1473.3 L252.6 1462.4 L253.8 1463 L255 1467.9 L256.2 1468 L257.4 1465 L258.6 1453.4 L259.8 1464.2 L261 1462.9 L262.2 1459.7 L263.4 1460.9 L264.6 1462.4 L265.8 1456.6 L267 1452.1 L268.2 1448 L269.4 1453.6 L270.6 1449.8 L271.8 1449.3 L273 1446.1 L274.2 1449.8 L275.4 1450.2 L276.6 1447.7 L277.8 1440.7 L279 1446.1 L280.2 1442.2 L281.4 1430.4 L282.6 1438.9 L283.8 1427.3 L285 1427.9 L286.2 1432.9 L287.4 1428.7 L288.6 1421.2 L289.8 1417.1 L291 1417.5 L292.2 1405.6 L293.4 1408.8 L294.6 1401.9 L295.8 1401.5 L297 1395 L298.2 1388.5 L299.4 1389.9 L300.6 1385.3 L301.8 1379.5 L303 1379.1 L304.2 1378.5 L305.4 1381.2 L306.6 1382.9 L307.8 1379.6 L309 1375.3 L310.2 1378.6 L311.4 1383 L312.6 1386.3 L313.8 1381.1 L315 1387.3 L316.2 1387.2 L317.4 1384.3 L318.6 1391.3 L319.8 1398.1 L321 1402.3 L322.2 1406.1 L323.4 1408.4 L324.6 1414.6 L325.8 1412.6 L327 1413 L328.2 1423 L329.4 1421.9 L330.6 1429.9 L331.8 1427.4 L333 1437.9 L334.2 1431.6 L335.4 1433.7 L336.6 1442 L337.8 1447.1 L339 1439.3 L340.2 1448.7 L341.4 1449.5 L342.6 1448 L343.8 1445.6 L345 1440 L346.2 1443.5 L347.4 1447.5 L348.6 1453.4 L349.8 1452.3 L351 1452 L352.2 1455.8 L353.4 1450.7 L354.6 1458.7 L355.8 1454.7 L357 1463.1 L358.2 1459.8 L359.4 1457.2 L360.6 1458.5 L361.8 1455.2 L363 1461.8 L364.2 1458 L365.4 1461.5 L366.6 1466.1 L367.8 1463.6 L369 1464.3 L370.2 1472.1 L371.4 1465.4 L372.6 1467.1 L373.8 1462.4 L375 1459.3 L376.2 1464.3 L377.4 1459.5 L378.6 1453.1 L379.8 1465.8 L381 1464.9 L382.2 1460 L383.4 1468.3 L384.6 1463.5 L385.8 1462.2 L387 1460.5 L388.2 1467.9 L389.4 1462.4 L390.6 1462.2 L391.8 1462.3 L393 1461.2 L394.2 1458.1 L395.4 1461.5 L396.6 1461 L397.8 1466.5 L399 1459.5 L400.2 1466.6 L401.4 1462.4 L402.6 1461.5 L403.8 1463.8 L405 1464.7 L406.2 1465 L407.4 1466.8 L408.6 1465.7 L409.8 1459.6 L411 1462.8 L412.2 1471 L413.4 1465 L414.6 1457.4 L415.8 1466.3 L417 1471.8 L418.2 1470.1 L419.4 1466.4 L420.6 1467.1 L421.8 1468.8 L423 1466.1 L424.2 1465.1 L425.4 1472.7 L426.6 1465.7 L427.8 1470.7 L429 1461.8 L430.2 1464.6 L431.4 1463.4 L432.6 1468.9 L433.8 1465.3 L435 1465.2 L436.2 1464.1 L437.4 1467.7 L438.6 1470.3 L439.8 1464.5 L441 1468.4 L442.2 1465.7 L443.4 1463.2 L444.6 1466.1 L445.8 1469 L447 1454.7 L448.2 1465.7 L449.4 1468.9 L450.6 1461.5 L451.8 1464.2 L453 1464.5 L454.2 1462.3 L455.4 1460.9 L456.6 1464.1 L457.8 1463.1 L459 1459.4 L460.2 1460.6 L461.4 1454.7 L462.6 1456.9 L463.8 1457.4 L465 1456.3 L466.2 1453.5 L467.4 1459.6 L468.6 1455.6 L469.8 1456.1 L471 1448 L472.2 1449.6 L473.4 1447.8 L474.6 1448.2 L475.8 1453.3 L477 1454.7 L478.2 1444.8 L479.4 1443.4 L480.6 1438.9 L481.8 1434.9 L483 1436.7 L484.2 1428.8 L485.4 1423.1 L486.6 1425.3 L487.8 1418.5 L489 1415.8 L490.2 1411 L491.4 1408.2 L492.6 1401.8 L493.8 1397.4 L495 1387.8 L496.2 1381.2 L497.4 1376.3 L498.6 1369.8 L499.8 1365.6 L501 1360.8 L502.2 1362.9 L503.4 1350.8 L504.6 1350 L505.8 1346.6 L507 1350.1 L508.2 1342.3 L509.4 1340.4 L510.6 1348.7 L511.8 1347 L513 1345.5 L514.2 1343.8 L515.4 1353.4 L516.6 1353.4 L517.8 1352.7 L519 1356.5 L520.2 1360.1 L521.4 1371.7 L522.6 1370.6 L523.8 1371.5 L525 1376.3 L526.2 1385.3 L527.4 1386.3 L528.6 1384.4 L529.8 1385.4 L531 1389.9 L532.2 1395.4 L533.4 1395.4 L534.6 1397.1 L535.8 1401.4 L537 1401.5 L538.2 1401.8 L539.4 1402.8 L540.6 1406.5 L541.8 1409.4 L543 1414.9 L544.2 1416.4 L545.4 1415.4 L546.6 1424.3 L547.8 1418.4 L549 1428.2 L550.2 1422.9 L551.4 1428 L552.6 1434.2 L553.8 1436.5 L555 1432.6 L556.2 1438.1 L557.4 1436.2 L558.6 1441.7 L559.8 1446.2 L561 1445.1 L562.2 1454.5 L563.4 1453.1 L564.6 1455.7 L565.8 1453.1 L567 1456.3 L568.2 1459.4 L569.4 1462.8 L570.6 1463.7 L571.8 1461.2 L573 1460.9 L574.2 1460.9 L575.4 1473.7 L576.6 1471.2 L577.8 1473.2 L579 1468.5 L580.2 1477 L581.4 1472.6 L582.6 1472.4 L583.8 1470.5 L585 1468 L586.2 1475.9 L587.4 1474.2 L588.6 1474.2 L589.8 1469.8 L591 1467.8 L592.2 1471.2 L593.4 1478.4 L594.6 1482.2 L595.8 1473.5 L597 1474.8 L598.2 1470.6 L599.4 1472.8 L600.6 1477.6 L601.8 1473.9 L603 1477.1 L604.2 1481.2 L605.4 1476.4 L606.6 1473.1 L607.8 1483 L609 1479.4 L610.2 1478.1 L611.4 1478.6 L612.6 1476.8 L613.8 1480.1 L615 1472.8 L616.2 1477.7 L617.4 1473.7 L618.6 1477.6 L619.8 1480.2 L621 1477.4 L622.2 1484.2 L623.4 1478 L624.6 1475.7 L625.8 1479.3 L627 1479.1 L628.2 1479.5 L629.4 1478.6 L630.6 1478.1 L631.8 1481.8 L633 1472.9 L634.2 1481.3 L635.4 1476.7 L636.6 1478.5 L637.8 1475.9 L639 1483.5 L640.2 1471.9 L641.4 1475 L642.6 1477.9 L643.8 1481.9 L645 1475 L646.2 1481.5 L647.4 1483.6 L648.6 1476.7 L649.8 1471 L651 1482.6 L652.2 1479.4 L653.4 1479.8 L654.6 1483.9 L655.8 1482.8 L657 1478.2 L658.2 1480.7 L659.4 1477.1 L660.6 1481.8 L661.8 1480 L663 1482.1 L664.2 1478.1 L665.4 1481.1 L666.6 1481.5 L667.8 1482.4 L669 1480.7 L670.2 1473.3 L671.4 1482.2 L672.6 1476.3 L673.8 1484 L675 1480.4 L676.2 1480.5 L677.4 1478.2 L678.6 1486.7 L679.8 1477.8 L681 1485.4 L682.2 1486.3 L683.4 1491.7 L684.6 1485.4 L685.8 1480.3 L687 1477.4 L688.2 1478.1 L689.4 1475.5 L690.6 1485.6 L691.8 1482 L693 1476.9 L694.2 1483.5 L695.4 1481.2 L696.6 1484.5 L697.8 1482.1 L699 1477.1 L700.2 1481.5 L701.4 1484.1 L702.6 1481.3 L703.8 1481.3 L704.7 1476.6"/>
<path class="sp" stroke-width="2.9" d="M88.2 1628.3 L89.2 1628.8 L90.2 1628.5 L91.2 1628.7 L92.2 1629 L93.2 1628.7 L94.2 1629 L95.2 1628.8 L96.2 1629 L97.2 1628.1 L98.2 1628.2 L99.2 1628 L100.2 1628.7 L101.2 1628.4 L102.2 1628.8 L103.2 1628.6 L104.2 1628.5 L105.2 1629.2 L106.2 1628.7 L107.2 1628.4 L108.2 1628.1 L109.2 1628.9 L110.2 1628.8 L111.2 1628 L112.2 1628.4 L113.2 1628.5 L114.2 1627.8 L115.2 1628.3 L116.2 1628.9 L117.2 1627.8 L118.2 1628.5 L119.2 1629 L120.2 1628.1 L121.2 1628.2 L122.2 1628.4 L123.2 1628.5 L124.2 1628.5 L125.2 1627.8 L126.2 1628 L127.2 1628.3 L128.2 1628.2 L129.2 1628.7 L130.2 1628.2 L131.2 1628.1 L132.2 1628.9 L133.2 1628.2 L134.2 1627.9 L135.2 1628.2 L136.2 1628.1 L137.2 1628.4 L138.2 1628.3 L139.2 1628.1 L140.2 1628 L141.2 1628 L142.2 1628.6 L143.2 1628.8 L144.2 1628.1 L145.2 1628.3 L146.2 1628.2 L147.2 1627.9 L148.2 1627.9 L149.2 1627.9 L150.2 1627.4 L151.2 1627.8 L152.2 1628.2 L153.2 1628.3 L154.2 1627.9 L155.2 1627.8 L156.2 1628.2 L157.2 1628.6 L158.2 1627.6 L159.2 1627.6 L160.2 1627.7 L161.2 1628 L162.2 1627.5 L163.2 1628 L164.2 1627.5 L165.2 1627.9 L166.2 1627.6 L167.2 1627.5 L168.2 1628 L169.2 1627.2 L170.2 1627.3 L171.2 1627.8 L172.2 1627.8 L173.2 1627.6 L174.2 1626.7 L175.2 1627.7 L176.2 1627.6 L177.2 1627.3 L178.2 1626.7 L179.2 1627.6 L180.2 1627.9 L181.2 1627.5 L182.2 1627.7 L183.2 1627 L184.2 1627.3 L185.2 1626.9 L186.2 1626.7 L187.2 1627 L188.2 1626.7 L189.2 1626.8 L190.2 1626.7 L191.2 1626.8 L192.2 1626.8 L193.2 1626.9 L194.2 1626.4 L195.2 1626.9 L196.2 1626.1 L197.2 1626.8 L198.2 1626.7 L199.2 1625.9 L200.2 1626.5 L201.2 1627 L202.2 1626.7 L203.2 1626.3 L204.2 1626.3 L205.2 1626.5 L206.2 1626.5 L207.2 1626.6 L208.2 1626.4 L209.2 1626.6 L210.2 1626.4 L211.2 1625.9 L212.2 1625.8 L213.2 1625.9 L214.2 1626.2 L215.2 1625.7 L216.2 1626.2 L217.2 1625.3 L218.2 1625.7 L219.2 1625.4 L220.2 1625.8 L221.2 1625.7 L222.2 1625.5 L223.2 1625.1 L224.2 1625.2 L225.2 1625.2 L226.2 1625.7 L227.2 1625.1 L228.2 1625.4 L229.2 1625.5 L230.2 1624.8 L231.2 1624.8 L232.2 1624.2 L233.2 1624.7 L234.2 1625 L235.2 1624.4 L236.2 1624.7 L237.2 1624.8 L238.2 1624.6 L239.2 1624.2 L240.2 1624.3 L241.2 1623.9 L242.2 1623.9 L243.2 1624.7 L244.2 1623.6 L245.2 1623.4 L246.2 1623.5 L247.2 1623.5 L248.2 1623.5 L249.2 1622.8 L250.2 1622.5 L251.2 1622.4 L252.2 1622.8 L253.2 1622.8 L254.2 1622 L255.2 1621.9 L256.2 1621.9 L257.2 1621.3 L258.2 1621.3 L259.2 1621.6 L260.2 1620.6 L261.2 1620.9 L262.2 1620.9 L263.2 1619.8 L264.2 1620.3 L265.2 1619.6 L266.2 1619.1 L267.2 1619.3 L268.2 1618.6 L269.2 1618.2 L270.2 1617.7 L271.2 1617.2 L272.2 1616.9 L273.2 1616.5 L274.2 1616.4 L275.2 1615.6 L276.2 1615.2 L277.2 1614.4 L278.2 1614.1 L279.2 1613.2 L280.2 1613 L281.2 1611.8 L282.2 1610.4 L283.2 1610 L284.2 1609 L285.2 1608.6 L286.2 1607.2 L287.2 1606.5 L288.2 1605.2 L289.2 1603.4 L290.2 1602 L291.2 1600.5 L292.2 1598.4 L293.2 1598.1 L294.2 1595.3 L295.2 1592.7 L296.2 1590.7 L297.2 1589.1 L298.2 1586.7 L299.2 1583.9 L300.2 1581.4 L301.2 1579.5 L302.2 1576.9 L303.2 1574.6 L304.2 1571.7 L305.2 1569.4 L306.2 1566.1 L307.2 1565.2 L308.2 1562.9 L309.2 1561.4 L310.2 1561 L311.2 1559.6 L312.2 1560.4 L313.2 1560.8 L314.2 1561.9 L315.2 1561.7 L316.2 1563.6 L317.2 1566.2 L318.2 1569.3 L319.2 1572.6 L320.2 1575.3 L321.2 1577.4 L322.2 1580.2 L323.2 1582.1 L324.2 1585.5 L325.2 1587.7 L326.2 1588.9 L327.2 1591.8 L328.2 1593.2 L329.2 1594.5 L330.2 1596.6 L331.2 1598.7 L332.2 1600.1 L333.2 1601.2 L334.2 1603.2 L335.2 1604.1 L336.2 1605.1 L337.2 1605.9 L338.2 1607.5 L339.2 1608.6 L340.2 1608.8 L341.2 1609.9 L342.2 1610.7 L343.2 1611.5 L344.2 1611.7 L345.2 1613.5 L346.2 1613.5 L347.2 1614.2 L348.2 1614.4 L349.2 1615.7 L350.2 1615.7 L351.2 1615.3 L352.2 1616.8 L353.2 1616.8 L354.2 1616.8 L355.2 1617.5 L356.2 1617.6 L357.2 1618.5 L358.2 1618.8 L359.2 1618.4 L360.2 1619.4 L361.2 1619.8 L362.2 1618.8 L363.2 1620.3 L364.2 1620.3 L365.2 1620.6 L366.2 1620.9 L367.2 1620.6 L368.2 1620.4 L369.2 1621 L370.2 1620.9 L371.2 1621.3 L372.2 1620.4 L373.2 1621.2 L374.2 1622.4 L375.2 1621.7 L376.2 1622.1 L377.2 1621.9 L378.2 1621.8 L379.2 1622.3 L380.2 1622.3 L381.2 1622 L382.2 1622.2 L383.2 1622.6 L384.2 1622.1 L385.2 1622.2 L386.2 1622.9 L387.2 1623 L388.2 1622.5 L389.2 1623.2 L390.2 1623 L391.2 1622.9 L392.2 1622.6 L393.2 1623.1 L394.2 1622.7 L395.2 1622.9 L396.2 1622.7 L397.2 1623.4 L398.2 1623 L399.2 1623 L400.2 1623.2 L401.2 1623.9 L402.2 1623.4 L403.2 1622.4 L404.2 1623 L405.2 1623 L406.2 1622.7 L407.2 1622.5 L408.2 1623.4 L409.2 1623.1 L410.2 1623.1 L411.2 1622.9 L412.2 1623 L413.2 1622.8 L414.2 1622.6 L415.2 1622.5 L416.2 1622.1 L417.2 1622.1 L418.2 1622.3 L419.2 1622 L420.2 1622.3 L421.2 1621.8 L422.2 1622.4 L423.2 1621.5 L424.2 1622.1 L425.2 1622.3 L426.2 1622.1 L427.2 1621.6 L428.2 1622.1 L429.2 1621.6 L430.2 1621.7 L431.2 1621.5 L432.2 1620.8 L433.2 1621.5 L434.2 1621.4 L435.2 1621.5 L436.2 1620.8 L437.2 1621.4 L438.2 1620.8 L439.2 1620.6 L440.2 1620.6 L441.2 1621 L442.2 1620.7 L443.2 1621.3 L444.2 1621 L445.2 1621.1 L446.2 1620.5 L447.2 1620.1 L448.2 1619.9 L449.2 1620.3 L450.2 1620.7 L451.2 1620.6 L452.2 1619.5 L453.2 1620.1 L454.2 1620.2 L455.2 1619.4 L456.2 1619.7 L457.2 1619.3 L458.2 1619.4 L459.2 1619.3 L460.2 1618.9 L461.2 1618.7 L462.2 1618.3 L463.2 1618.3 L464.2 1616.8 L465.2 1617.8 L466.2 1617.6 L467.2 1616.5 L468.2 1616.5 L469.2 1616.4 L470.2 1615.5 L471.2 1615.1 L472.2 1614.9 L473.2 1614.7 L474.2 1613.4 L475.2 1613.4 L476.2 1612.8 L477.2 1611.5 L478.2 1611.3 L479.2 1610.9 L480.2 1609.6 L481.2 1608.6 L482.2 1608.3 L483.2 1606.6 L484.2 1605.7 L485.2 1605 L486.2 1603.9 L487.2 1601.5 L488.2 1600.1 L489.2 1598.6 L490.2 1596.7 L491.2 1593.9 L492.2 1590.6 L493.2 1587.9 L494.2 1583.4 L495.2 1580.6 L496.2 1576.8 L497.2 1572.3 L498.2 1567 L499.2 1560.9 L500.2 1556.2 L501.2 1550.1 L502.2 1544.2 L503.2 1538.6 L504.2 1531.2 L505.2 1525.9 L506.2 1518 L507.2 1510.5 L508.2 1503.3 L509.2 1497.8 L510.2 1492.3 L511.2 1487.9 L512.2 1485.3 L513.2 1484.8 L514.2 1484.6 L515.2 1485.8 L516.2 1487.3 L517.2 1489.4 L518.2 1492.8 L519.2 1496.4 L520.2 1501.3 L521.2 1508.7 L522.2 1516.6 L523.2 1525.3 L524.2 1532.4 L525.2 1539.7 L526.2 1547.3 L527.2 1553.7 L528.2 1559.2 L529.2 1564.2 L530.2 1568 L531.2 1570.9 L532.2 1574.2 L533.2 1577.5 L534.2 1580.7 L535.2 1583.7 L536.2 1585.3 L537.2 1585.2 L538.2 1586.8 L539.2 1587.1 L540.2 1587.2 L541.2 1586.7 L542.2 1587.2 L543.2 1586.8 L544.2 1585.9 L545.2 1585.1 L546.2 1583.8 L547.2 1584.8 L548.2 1585.4 L549.2 1586.5 L550.2 1588 L551.2 1589.2 L552.2 1591.1 L553.2 1592.3 L554.2 1595.5 L555.2 1597.9 L556.2 1601.1 L557.2 1602.8 L558.2 1604.9 L559.2 1607 L560.2 1609.4 L561.2 1610.9 L562.2 1613.2 L563.2 1614.7 L564.2 1615.6 L565.2 1616.7 L566.2 1617.4 L567.2 1619.2 L568.2 1619.6 L569.2 1619.6 L570.2 1621 L571.2 1620.9 L572.2 1621.8 L573.2 1622.3 L574.2 1622.3 L575.2 1622.5 L576.2 1623.1 L577.2 1623.4 L578.2 1623.5 L579.2 1623.8 L580.2 1623.4 L581.2 1624.1 L582.2 1623.9 L583.2 1624.5 L584.2 1624.2 L585.2 1624.5 L586.2 1624.6 L587.2 1624.9 L588.2 1625.1 L589.2 1625.3 L590.2 1625.6 L591.2 1625.2 L592.2 1626.2 L593.2 1625.7 L594.2 1625.7 L595.2 1626.1 L596.2 1626 L597.2 1626.1 L598.2 1626.4 L599.2 1626 L600.2 1626.9 L601.2 1626.2 L602.2 1626.5 L603.2 1627.2 L604.2 1627.3 L605.2 1627.1 L606.2 1626.6 L607.2 1627 L608.2 1627 L609.2 1627.1 L610.2 1627.2 L611.2 1627.5 L612.2 1627.8 L613.2 1627.6 L614.2 1627.3 L615.2 1627.6 L616.2 1627.8 L617.2 1628 L618.2 1627.6 L619.2 1627.7 L620.2 1627.7 L621.2 1627.6 L622.2 1628.1 L623.2 1627.8 L624.2 1628.4 L625.2 1628.4 L626.2 1628.2 L627.2 1628.3 L628.2 1628.1 L629.2 1628.4 L630.2 1628.4 L631.2 1628.8 L632.2 1628.3 L633.2 1628.9 L634.2 1628.7 L635.2 1628.7 L636.2 1628.2 L637.2 1628.3 L638.2 1628.7 L639.2 1628.7 L640.2 1628.3 L641.2 1629.4 L642.2 1628.9 L643.2 1628.8 L644.2 1629.1 L645.2 1628.6 L646.2 1628.2 L647.2 1628.9 L648.2 1628.8 L649.2 1629 L650.2 1629.1 L651.2 1628.5 L652.2 1628.9 L653.2 1629.5 L654.2 1629.7 L655.2 1629.2 L656.2 1629.3 L657.2 1629.4 L658.2 1629.4 L659.2 1630.3 L660.2 1630 L661.2 1629.2 L662.2 1629.3 L663.2 1629.9 L664.2 1629.7 L665.2 1629.8 L666.2 1629.8 L667.2 1629.3 L668.2 1629.2 L669.2 1629.1 L670.2 1629.4 L671.2 1629.8 L672.2 1629.5 L673.2 1630.4 L674.2 1629.2 L675.2 1629.7 L676.2 1630.2 L677.2 1630.5 L678.2 1629.5 L679.2 1630 L680.2 1630.1 L681.2 1629.2 L682.2 1630.2 L683.2 1630 L684.2 1629.8 L685.2 1630.3 L686.2 1630 L687.2 1629.8 L688.2 1630.5 L689.2 1629.8 L690.2 1630.5 L691.2 1629.3 L692.2 1630.4 L693.2 1630 L694.2 1630.3 L695.2 1630.2 L696.2 1630.5 L697.2 1629.9 L698.2 1630.2 L699.2 1630.1 L700.2 1630.4 L701.2 1630.3 L702.2 1630.4 L703.2 1630.4 L704.2 1629.7 L704.7 1630.2"/>
<path class="sp" stroke-width="2.9" d="M88.2 1776.8 L89.2 1776.4 L90.2 1776.4 L91.2 1776.4 L92.2 1775.9 L93.2 1776.4 L94.2 1776 L95.2 1776.4 L96.2 1776.3 L97.2 1776.7 L98.2 1776.3 L99.2 1776.4 L100.2 1776.1 L101.2 1776.5 L102.2 1776.3 L103.2 1776.5 L104.2 1776.6 L105.2 1776.6 L106.2 1776.3 L107.2 1775.9 L108.2 1776.1 L109.2 1776.6 L110.2 1776.6 L111.2 1776.7 L112.2 1776.2 L113.2 1776.1 L114.2 1776.6 L115.2 1776.6 L116.2 1776.3 L117.2 1776.3 L118.2 1776 L119.2 1776.3 L120.2 1776.7 L121.2 1776.1 L122.2 1776.2 L123.2 1776.3 L124.2 1776.2 L125.2 1775.8 L126.2 1776.2 L127.2 1776.1 L128.2 1776.2 L129.2 1776.2 L130.2 1776.3 L131.2 1776 L132.2 1776.7 L133.2 1776.2 L134.2 1776.6 L135.2 1776.6 L136.2 1776.3 L137.2 1775.9 L138.2 1775.7 L139.2 1775.8 L140.2 1776.1 L141.2 1776.2 L142.2 1776 L143.2 1776.1 L144.2 1776.9 L145.2 1776.2 L146.2 1775.9 L147.2 1776.3 L148.2 1775.9 L149.2 1775.5 L150.2 1776.2 L151.2 1775.9 L152.2 1776.1 L153.2 1776.6 L154.2 1776.1 L155.2 1775.9 L156.2 1776.5 L157.2 1775.5 L158.2 1775.8 L159.2 1776.4 L160.2 1776.4 L161.2 1776 L162.2 1775.8 L163.2 1776.1 L164.2 1776.1 L165.2 1776 L166.2 1775.9 L167.2 1775.7 L168.2 1775.8 L169.2 1775.9 L170.2 1775.9 L171.2 1775.8 L172.2 1775.9 L173.2 1775.5 L174.2 1776.1 L175.2 1776.3 L176.2 1775.8 L177.2 1775.5 L178.2 1776 L179.2 1776 L180.2 1775.8 L181.2 1776.1 L182.2 1775.7 L183.2 1775.6 L184.2 1776.2 L185.2 1775.7 L186.2 1775.7 L187.2 1775.2 L188.2 1775.7 L189.2 1775.6 L190.2 1775.7 L191.2 1775.9 L192.2 1775.8 L193.2 1775.4 L194.2 1776 L195.2 1775.8 L196.2 1775.8 L197.2 1775.6 L198.2 1775.7 L199.2 1775.3 L200.2 1775.2 L201.2 1775.4 L202.2 1775.4 L203.2 1775.6 L204.2 1774.7 L205.2 1775.4 L206.2 1775.3 L207.2 1775.7 L208.2 1775.3 L209.2 1775.3 L210.2 1775.4 L211.2 1775.5 L212.2 1774.9 L213.2 1775 L214.2 1775.5 L215.2 1775.4 L216.2 1775.3 L217.2 1775.6 L218.2 1774.8 L219.2 1775.2 L220.2 1775.1 L221.2 1775.2 L222.2 1775 L223.2 1775.2 L224.2 1775.8 L225.2 1775.2 L226.2 1775.1 L227.2 1775.4 L228.2 1775.2 L229.2 1775.5 L230.2 1774.8 L231.2 1774.7 L232.2 1774.4 L233.2 1774.7 L234.2 1774.4 L235.2 1775.2 L236.2 1774.9 L237.2 1775 L238.2 1774.8 L239.2 1774.8 L240.2 1774.7 L241.2 1774.3 L242.2 1775.1 L243.2 1774.6 L244.2 1775.1 L245.2 1774.8 L246.2 1774.2 L247.2 1774.4 L248.2 1774.4 L249.2 1774.3 L250.2 1774.3 L251.2 1774.4 L252.2 1774.2 L253.2 1774.1 L254.2 1774.3 L255.2 1774.2 L256.2 1774 L257.2 1774.2 L258.2 1774 L259.2 1774.1 L260.2 1774 L261.2 1774.2 L262.2 1773.4 L263.2 1774.2 L264.2 1773.6 L265.2 1774 L266.2 1773.5 L267.2 1773.5 L268.2 1773.6 L269.2 1773.3 L270.2 1773.2 L271.2 1773.1 L272.2 1773.4 L273.2 1772.5 L274.2 1772.8 L275.2 1773 L276.2 1772.4 L277.2 1772.7 L278.2 1771.6 L279.2 1771.6 L280.2 1771.7 L281.2 1771.4 L282.2 1771.2 L283.2 1771.3 L284.2 1770.7 L285.2 1770.8 L286.2 1770.5 L287.2 1770.1 L288.2 1770.3 L289.2 1769.3 L290.2 1769.6 L291.2 1768.5 L292.2 1768.3 L293.2 1767.8 L294.2 1767 L295.2 1766.7 L296.2 1766 L297.2 1765 L298.2 1763.9 L299.2 1763.3 L300.2 1762.1 L301.2 1761 L302.2 1759.2 L303.2 1758.9 L304.2 1758.1 L305.2 1756.5 L306.2 1754.9 L307.2 1754.6 L308.2 1754 L309.2 1752.9 L310.2 1752.8 L311.2 1753 L312.2 1752.9 L313.2 1753.5 L314.2 1754.6 L315.2 1754.8 L316.2 1755.5 L317.2 1757 L318.2 1758.2 L319.2 1759.2 L320.2 1760.1 L321.2 1760.9 L322.2 1762.7 L323.2 1762.7 L324.2 1763.9 L325.2 1764.8 L326.2 1765.8 L327.2 1766.2 L328.2 1767 L329.2 1767.3 L330.2 1768 L331.2 1768 L332.2 1769.2 L333.2 1769.4 L334.2 1770 L335.2 1770.1 L336.2 1770 L337.2 1770.5 L338.2 1771 L339.2 1771.6 L340.2 1771.4 L341.2 1771.9 L342.2 1771.8 L343.2 1771.7 L344.2 1772 L345.2 1772.4 L346.2 1772.5 L347.2 1772.3 L348.2 1772.6 L349.2 1772.7 L350.2 1773 L351.2 1773.2 L352.2 1772.6 L353.2 1772.8 L354.2 1772.6 L355.2 1773.5 L356.2 1773.1 L357.2 1772.8 L358.2 1773.7 L359.2 1773.1 L360.2 1773.3 L361.2 1773.3 L362.2 1773.5 L363.2 1772.8 L364.2 1773.3 L365.2 1773.6 L366.2 1773.5 L367.2 1773.4 L368.2 1773.3 L369.2 1773.1 L370.2 1772.7 L371.2 1773 L372.2 1773.6 L373.2 1773.6 L374.2 1773.4 L375.2 1773.6 L376.2 1774.1 L377.2 1773.6 L378.2 1773.5 L379.2 1774.4 L380.2 1773.7 L381.2 1773.5 L382.2 1774.1 L383.2 1773.5 L384.2 1773.8 L385.2 1773.8 L386.2 1774.1 L387.2 1773.6 L388.2 1774 L389.2 1773.4 L390.2 1773.8 L391.2 1773.8 L392.2 1773.9 L393.2 1774.4 L394.2 1773.8 L395.2 1773.8 L396.2 1773.7 L397.2 1773.8 L398.2 1774 L399.2 1773.9 L400.2 1774.1 L401.2 1773.7 L402.2 1774 L403.2 1774 L404.2 1773.8 L405.2 1773.9 L406.2 1773.8 L407.2 1773.7 L408.2 1773.7 L409.2 1773.3 L410.2 1773.4 L411.2 1773.6 L412.2 1773.7 L413.2 1773.7 L414.2 1773.5 L415.2 1773.3 L416.2 1773.5 L417.2 1773.4 L418.2 1773.1 L419.2 1773.5 L420.2 1773.5 L421.2 1773.2 L422.2 1772.8 L423.2 1773.1 L424.2 1773.1 L425.2 1772.7 L426.2 1773.2 L427.2 1773 L428.2 1773.2 L429.2 1772.8 L430.2 1772.8 L431.2 1772.8 L432.2 1773 L433.2 1772.5 L434.2 1772.7 L435.2 1773.1 L436.2 1772.6 L437.2 1772.3 L438.2 1772.8 L439.2 1772.7 L440.2 1772 L441.2 1772.4 L442.2 1772 L443.2 1772.3 L444.2 1772.5 L445.2 1772.4 L446.2 1771.9 L447.2 1771.9 L448.2 1772.4 L449.2 1772.1 L450.2 1771.9 L451.2 1772 L452.2 1771.6 L453.2 1771.3 L454.2 1771.4 L455.2 1771.8 L456.2 1771.4 L457.2 1771.7 L458.2 1771.7 L459.2 1771.4 L460.2 1771.1 L461.2 1771.1 L462.2 1770.9 L463.2 1771.1 L464.2 1771.2 L465.2 1770.9 L466.2 1771.2 L467.2 1770.7 L468.2 1770.3 L469.2 1769.8 L470.2 1769.8 L471.2 1769.4 L472.2 1769.6 L473.2 1769.2 L474.2 1769.4 L475.2 1768.8 L476.2 1768.4 L477.2 1767.7 L478.2 1767.4 L479.2 1767.2 L480.2 1766.7 L481.2 1765.9 L482.2 1765.4 L483.2 1764.9 L484.2 1764.4 L485.2 1763.5 L486.2 1762.5 L487.2 1761.6 L488.2 1760.9 L489.2 1759.7 L490.2 1758.1 L491.2 1756.7 L492.2 1755.3 L493.2 1753.6 L494.2 1751.3 L495.2 1748.6 L496.2 1746 L497.2 1743.9 L498.2 1740 L499.2 1735.9 L500.2 1731.5 L501.2 1725.9 L502.2 1718.9 L503.2 1711.2 L504.2 1702.7 L505.2 1692 L506.2 1681.4 L507.2 1671.2 L508.2 1660 L509.2 1649.8 L510.2 1642.5 L511.2 1635.8 L512.2 1631.7 L513.2 1631.2 L514.2 1634 L515.2 1637.5 L516.2 1642.8 L517.2 1650.4 L518.2 1662.7 L519.2 1676.9 L520.2 1688 L521.2 1698.2 L522.2 1707.5 L523.2 1715.3 L524.2 1722.1 L525.2 1727.5 L526.2 1733.4 L527.2 1737.8 L528.2 1741.3 L529.2 1744.7 L530.2 1747.9 L531.2 1750.5 L532.2 1753.4 L533.2 1755 L534.2 1756.5 L535.2 1757.9 L536.2 1759.3 L537.2 1759.5 L538.2 1759.5 L539.2 1759.8 L540.2 1758.8 L541.2 1758.9 L542.2 1758.4 L543.2 1757.9 L544.2 1757.2 L545.2 1756.1 L546.2 1755.6 L547.2 1754.7 L548.2 1754.7 L549.2 1754.8 L550.2 1756.5 L551.2 1758.4 L552.2 1759.9 L553.2 1760.8 L554.2 1762.8 L555.2 1764.6 L556.2 1765.8 L557.2 1767.3 L558.2 1768.8 L559.2 1769 L560.2 1769.8 L561.2 1770.7 L562.2 1770.5 L563.2 1770.9 L564.2 1771.6 L565.2 1771.5 L566.2 1772 L567.2 1772.4 L568.2 1772.5 L569.2 1772.4 L570.2 1772.5 L571.2 1772.9 L572.2 1772.9 L573.2 1773.1 L574.2 1773.5 L575.2 1772.8 L576.2 1773.6 L577.2 1773.3 L578.2 1773.7 L579.2 1773.6 L580.2 1773.6 L581.2 1773.7 L582.2 1774.1 L583.2 1774 L584.2 1774.3 L585.2 1773.7 L586.2 1773.9 L587.2 1773.9 L588.2 1774.1 L589.2 1774.5 L590.2 1774.6 L591.2 1774.2 L592.2 1773.9 L593.2 1774.4 L594.2 1774.2 L595.2 1774.4 L596.2 1774.7 L597.2 1774.8 L598.2 1775.2 L599.2 1774.5 L600.2 1774.4 L601.2 1774.4 L602.2 1775.3 L603.2 1774.6 L604.2 1775 L605.2 1775.4 L606.2 1774.8 L607.2 1775.2 L608.2 1774.8 L609.2 1775.4 L610.2 1774.8 L611.2 1775.1 L612.2 1775.1 L613.2 1775.2 L614.2 1775.6 L615.2 1775.7 L616.2 1775.7 L617.2 1775.8 L618.2 1775.1 L619.2 1775.5 L620.2 1776 L621.2 1776 L622.2 1775.9 L623.2 1775.6 L624.2 1775.9 L625.2 1775.6 L626.2 1775.5 L627.2 1776 L628.2 1775.7 L629.2 1775.7 L630.2 1775.9 L631.2 1776 L632.2 1775.7 L633.2 1775.5 L634.2 1775.7 L635.2 1775.7 L636.2 1775.9 L637.2 1776 L638.2 1775.8 L639.2 1775.8 L640.2 1775.6 L641.2 1776 L642.2 1775.9 L643.2 1776.1 L644.2 1776.3 L645.2 1776.1 L646.2 1775.9 L647.2 1776.2 L648.2 1776.5 L649.2 1775.7 L650.2 1776.2 L651.2 1776.2 L652.2 1776.2 L653.2 1776.1 L654.2 1775.9 L655.2 1776 L656.2 1776.3 L657.2 1775.9 L658.2 1776 L659.2 1775.9 L660.2 1776.3 L661.2 1776.5 L662.2 1775.9 L663.2 1776 L664.2 1775.5 L665.2 1776.4 L666.2 1776.5 L667.2 1776.4 L668.2 1776 L669.2 1776.4 L670.2 1776.8 L671.2 1776 L672.2 1776.1 L673.2 1776.6 L674.2 1776.1 L675.2 1776.5 L676.2 1776.1 L677.2 1776.2 L678.2 1775.9 L679.2 1776.2 L680.2 1776.4 L681.2 1776.4 L682.2 1776.7 L683.2 1776.6 L684.2 1776.3 L685.2 1776.7 L686.2 1776.7 L687.2 1776.4 L688.2 1776.5 L689.2 1776.6 L690.2 1776.5 L691.2 1776.3 L692.2 1776.5 L693.2 1776.5 L694.2 1776.1 L695.2 1776.5 L696.2 1776.6 L697.2 1776.4 L698.2 1776.1 L699.2 1777 L700.2 1776.9 L701.2 1776.9 L702.2 1776.6 L703.2 1776.4 L704.2 1775.7 L704.7 1776.8"/>
<path class="sp" stroke-width="2.9" d="M88.2 1922.2 L89.2 1922.4 L90.2 1922.3 L91.2 1922.2 L92.2 1922.4 L93.2 1921.9 L94.2 1922 L95.2 1922 L96.2 1922.2 L97.2 1922.2 L98.2 1922.2 L99.2 1922.4 L100.2 1922.5 L101.2 1922.4 L102.2 1922.2 L103.2 1922.4 L104.2 1922.3 L105.2 1922.7 L106.2 1922.5 L107.2 1922.3 L108.2 1922.3 L109.2 1922.1 L110.2 1922.3 L111.2 1922 L112.2 1922.4 L113.2 1921.8 L114.2 1922 L115.2 1922.7 L116.2 1922.7 L117.2 1922.6 L118.2 1921.8 L119.2 1921.9 L120.2 1921.9 L121.2 1921.9 L122.2 1922.4 L123.2 1922.2 L124.2 1922.3 L125.2 1922.2 L126.2 1922.1 L127.2 1922.8 L128.2 1922.5 L129.2 1922.1 L130.2 1922.6 L131.2 1922.1 L132.2 1922.2 L133.2 1922.7 L134.2 1922.1 L135.2 1922.2 L136.2 1922.2 L137.2 1922.7 L138.2 1922.8 L139.2 1922.4 L140.2 1922.8 L141.2 1922 L142.2 1922.3 L143.2 1922.6 L144.2 1922.2 L145.2 1922.4 L146.2 1922.4 L147.2 1922.5 L148.2 1922.4 L149.2 1921.9 L150.2 1922.2 L151.2 1922.1 L152.2 1922.4 L153.2 1921.9 L154.2 1922.1 L155.2 1922.6 L156.2 1922.4 L157.2 1922.9 L158.2 1922.3 L159.2 1921.6 L160.2 1922.5 L161.2 1922.3 L162.2 1922.2 L163.2 1922 L164.2 1922.3 L165.2 1922.4 L166.2 1922.4 L167.2 1922.3 L168.2 1922.5 L169.2 1922.3 L170.2 1922 L171.2 1922.4 L172.2 1922.4 L173.2 1922.8 L174.2 1922.3 L175.2 1922 L176.2 1922.6 L177.2 1922.5 L178.2 1922.2 L179.2 1922 L180.2 1922.7 L181.2 1921.9 L182.2 1922.1 L183.2 1922.4 L184.2 1922 L185.2 1922.3 L186.2 1922.4 L187.2 1922.2 L188.2 1922 L189.2 1922.1 L190.2 1922.3 L191.2 1922.6 L192.2 1922 L193.2 1922.7 L194.2 1922.1 L195.2 1922.6 L196.2 1922.8 L197.2 1922.6 L198.2 1922.3 L199.2 1922.7 L200.2 1922.6 L201.2 1922.4 L202.2 1922.3 L203.2 1922.2 L204.2 1922.3 L205.2 1922.9 L206.2 1922.4 L207.2 1922.4 L208.2 1922.2 L209.2 1922.4 L210.2 1922.2 L211.2 1922.1 L212.2 1922.3 L213.2 1922.2 L214.2 1922.3 L215.2 1922.3 L216.2 1922.1 L217.2 1922.4 L218.2 1922.4 L219.2 1921.6 L220.2 1922.2 L221.2 1922.2 L222.2 1922.2 L223.2 1922.6 L224.2 1922.3 L225.2 1922.2 L226.2 1922.1 L227.2 1922.4 L228.2 1921.9 L229.2 1922.2 L230.2 1922.1 L231.2 1922.2 L232.2 1922.2 L233.2 1922 L234.2 1922 L235.2 1922.3 L236.2 1922.1 L237.2 1922.6 L238.2 1922.3 L239.2 1922 L240.2 1922.4 L241.2 1922.2 L242.2 1922.3 L243.2 1922.6 L244.2 1922.5 L245.2 1922 L246.2 1922.4 L247.2 1922.1 L248.2 1922.5 L249.2 1922.2 L250.2 1921.8 L251.2 1921.4 L252.2 1922 L253.2 1922 L254.2 1922 L255.2 1922.7 L256.2 1922.2 L257.2 1922.4 L258.2 1922 L259.2 1922.4 L260.2 1922 L261.2 1921.8 L262.2 1922.1 L263.2 1922.2 L264.2 1921.9 L265.2 1922.5 L266.2 1922.2 L267.2 1921.8 L268.2 1921.5 L269.2 1922.3 L270.2 1922.3 L271.2 1922.3 L272.2 1921.9 L273.2 1921.9 L274.2 1922.3 L275.2 1922 L276.2 1922.1 L277.2 1922.3 L278.2 1922.4 L279.2 1921.9 L280.2 1922 L281.2 1922.1 L282.2 1921.9 L283.2 1922.3 L284.2 1921.8 L285.2 1922.2 L286.2 1921.9 L287.2 1922.3 L288.2 1922.1 L289.2 1921.9 L290.2 1921.9 L291.2 1921.7 L292.2 1922.1 L293.2 1921.9 L294.2 1921.8 L295.2 1922 L296.2 1921.9 L297.2 1921.6 L298.2 1921.4 L299.2 1921.9 L300.2 1921.6 L301.2 1921.5 L302.2 1921.6 L303.2 1921.3 L304.2 1921.7 L305.2 1921.1 L306.2 1921.1 L307.2 1921.1 L308.2 1920.8 L309.2 1920.8 L310.2 1920.7 L311.2 1920.4 L312.2 1920.6 L313.2 1920.4 L314.2 1920.8 L315.2 1920.2 L316.2 1920 L317.2 1920 L318.2 1920.3 L319.2 1920.3 L320.2 1920.1 L321.2 1920.6 L322.2 1920.1 L323.2 1920.4 L324.2 1920.6 L325.2 1920.8 L326.2 1920.7 L327.2 1921.4 L328.2 1921.4 L329.2 1921.2 L330.2 1921.2 L331.2 1921.3 L332.2 1921.3 L333.2 1921.5 L334.2 1921.6 L335.2 1921.5 L336.2 1921.4 L337.2 1921.1 L338.2 1921.1 L339.2 1921.6 L340.2 1921.2 L341.2 1921.4 L342.2 1921.9 L343.2 1921.7 L344.2 1921.6 L345.2 1921.6 L346.2 1921.8 L347.2 1921.8 L348.2 1921.4 L349.2 1921.3 L350.2 1921.4 L351.2 1921.6 L352.2 1922.1 L353.2 1921.6 L354.2 1921.6 L355.2 1921.8 L356.2 1921.8 L357.2 1921.4 L358.2 1921 L359.2 1922.2 L360.2 1921.5 L361.2 1921.4 L362.2 1921.8 L363.2 1921.3 L364.2 1921.4 L365.2 1921.1 L366.2 1921.7 L367.2 1921.3 L368.2 1921.5 L369.2 1921.7 L370.2 1921.4 L371.2 1922 L372.2 1921.4 L373.2 1921 L374.2 1921.6 L375.2 1921.6 L376.2 1921.6 L377.2 1921.2 L378.2 1921.3 L379.2 1921.4 L380.2 1921.6 L381.2 1921.3 L382.2 1921.7 L383.2 1921.5 L384.2 1921.5 L385.2 1921.1 L386.2 1920.8 L387.2 1921.3 L388.2 1921.6 L389.2 1921.5 L390.2 1921 L391.2 1921.4 L392.2 1921.3 L393.2 1921.4 L394.2 1920.9 L395.2 1921 L396.2 1921.1 L397.2 1921.5 L398.2 1921.1 L399.2 1921.2 L400.2 1921.5 L401.2 1921 L402.2 1921 L403.2 1920.9 L404.2 1921.4 L405.2 1921 L406.2 1920.7 L407.2 1920.9 L408.2 1921.1 L409.2 1921.1 L410.2 1921.2 L411.2 1921.3 L412.2 1921 L413.2 1920.8 L414.2 1920.5 L415.2 1921 L416.2 1921.1 L417.2 1921 L418.2 1921 L419.2 1920.7 L420.2 1921 L421.2 1920.4 L422.2 1920.4 L423.2 1920.3 L424.2 1920.9 L425.2 1920.9 L426.2 1920.9 L427.2 1921.1 L428.2 1920.3 L429.2 1920.7 L430.2 1920.5 L431.2 1920.4 L432.2 1920.7 L433.2 1920.4 L434.2 1920.2 L435.2 1920.6 L436.2 1920.3 L437.2 1920.4 L438.2 1920.6 L439.2 1920.2 L440.2 1920.2 L441.2 1920.4 L442.2 1920.6 L443.2 1919.8 L444.2 1920.6 L445.2 1920.4 L446.2 1920.2 L447.2 1920.2 L448.2 1919.7 L449.2 1920.1 L450.2 1920.2 L451.2 1919.9 L452.2 1919.5 L453.2 1919.7 L454.2 1919.4 L455.2 1919.4 L456.2 1919.4 L457.2 1919.8 L458.2 1920 L459.2 1919.5 L460.2 1919.8 L461.2 1919.3 L462.2 1919.3 L463.2 1919.6 L464.2 1919.8 L465.2 1919.4 L466.2 1918.4 L467.2 1918.8 L468.2 1918.9 L469.2 1918.8 L470.2 1918.4 L471.2 1919.2 L472.2 1917.9 L473.2 1918.2 L474.2 1917.9 L475.2 1917.9 L476.2 1917.8 L477.2 1917.4 L478.2 1917.5 L479.2 1916.8 L480.2 1916.7 L481.2 1916.6 L482.2 1915.8 L483.2 1915.7 L484.2 1914.9 L485.2 1914.2 L486.2 1913.8 L487.2 1912.9 L488.2 1912.8 L489.2 1911.6 L490.2 1911.1 L491.2 1909.6 L492.2 1909.1 L493.2 1907.6 L494.2 1906.4 L495.2 1904.5 L496.2 1903.1 L497.2 1901.3 L498.2 1898.2 L499.2 1895.5 L500.2 1892.5 L501.2 1886.8 L502.2 1881.4 L503.2 1875.1 L504.2 1867.8 L505.2 1859.6 L506.2 1850.1 L507.2 1838.3 L508.2 1825.1 L509.2 1810.6 L510.2 1797.9 L511.2 1786.6 L512.2 1778.4 L513.2 1777.4 L514.2 1785.2 L515.2 1797.5 L516.2 1809 L517.2 1821.4 L518.2 1834.4 L519.2 1846.6 L520.2 1856 L521.2 1865.3 L522.2 1872.8 L523.2 1880 L524.2 1886.2 L525.2 1891.5 L526.2 1895.9 L527.2 1898.7 L528.2 1901.4 L529.2 1903.7 L530.2 1905.7 L531.2 1907.3 L532.2 1908.6 L533.2 1910 L534.2 1911 L535.2 1912.2 L536.2 1913 L537.2 1914.3 L538.2 1915 L539.2 1915.4 L540.2 1915.2 L541.2 1915.8 L542.2 1915.8 L543.2 1916.1 L544.2 1916.3 L545.2 1916.6 L546.2 1916.3 L547.2 1917 L548.2 1917.2 L549.2 1917.4 L550.2 1917.2 L551.2 1917.7 L552.2 1918 L553.2 1918.1 L554.2 1918.4 L555.2 1918.9 L556.2 1918.9 L557.2 1918.9 L558.2 1919.3 L559.2 1919.5 L560.2 1919.9 L561.2 1920.2 L562.2 1919.5 L563.2 1920 L564.2 1920.2 L565.2 1919.9 L566.2 1920.1 L567.2 1920.3 L568.2 1920.3 L569.2 1920.6 L570.2 1920.9 L571.2 1921 L572.2 1920.5 L573.2 1920.5 L574.2 1920.9 L575.2 1920.7 L576.2 1920.7 L577.2 1921 L578.2 1920.6 L579.2 1921.2 L580.2 1920.8 L581.2 1921 L582.2 1920.8 L583.2 1921.1 L584.2 1920.8 L585.2 1920.6 L586.2 1920.9 L587.2 1921.2 L588.2 1920.7 L589.2 1921.3 L590.2 1921.6 L591.2 1921.1 L592.2 1921.4 L593.2 1921.2 L594.2 1921.5 L595.2 1921.2 L596.2 1920.8 L597.2 1921.2 L598.2 1921.7 L599.2 1921.3 L600.2 1921.2 L601.2 1921.5 L602.2 1921 L603.2 1921.9 L604.2 1921.2 L605.2 1921.6 L606.2 1921.5 L607.2 1921.4 L608.2 1921.2 L609.2 1921.5 L610.2 1921.5 L611.2 1921.5 L612.2 1921 L613.2 1921.5 L614.2 1921.5 L615.2 1921.5 L616.2 1921.5 L617.2 1921.4 L618.2 1921.2 L619.2 1921.6 L620.2 1921.3 L621.2 1921.3 L622.2 1921.6 L623.2 1922 L624.2 1921.7 L625.2 1921.9 L626.2 1921.5 L627.2 1921.6 L628.2 1921.7 L629.2 1921.7 L630.2 1921.7 L631.2 1921.8 L632.2 1921.6 L633.2 1921.7 L634.2 1921.7 L635.2 1922.1 L636.2 1921.7 L637.2 1921.7 L638.2 1921.9 L639.2 1921.9 L640.2 1921.9 L641.2 1921.3 L642.2 1921.7 L643.2 1921.7 L644.2 1921.7 L645.2 1921.8 L646.2 1921.9 L647.2 1921.8 L648.2 1921.6 L649.2 1921.7 L650.2 1921.3 L651.2 1921.5 L652.2 1922.1 L653.2 1921.8 L654.2 1921.4 L655.2 1921.7 L656.2 1921.8 L657.2 1921.9 L658.2 1921.5 L659.2 1921.7 L660.2 1922.1 L661.2 1922.6 L662.2 1921.8 L663.2 1921.5 L664.2 1921.6 L665.2 1921.6 L666.2 1921.8 L667.2 1922.1 L668.2 1922.3 L669.2 1921.3 L670.2 1921.8 L671.2 1921.9 L672.2 1921.8 L673.2 1921.8 L674.2 1921.8 L675.2 1922.2 L676.2 1922 L677.2 1921.7 L678.2 1922.3 L679.2 1922.1 L680.2 1921.5 L681.2 1921.6 L682.2 1921.9 L683.2 1922 L684.2 1921.6 L685.2 1922.2 L686.2 1922 L687.2 1922.1 L688.2 1921.5 L689.2 1921.5 L690.2 1922 L691.2 1921.9 L692.2 1922.1 L693.2 1921.7 L694.2 1922 L695.2 1921.2 L696.2 1921.6 L697.2 1922 L698.2 1921.5 L699.2 1921.6 L700.2 1921.8 L701.2 1922 L702.2 1922.2 L703.2 1921.7 L704.2 1921.7 L704.7 1922.4"/>
<path class="ax" d="M83.5 1937.4 v12.3M127.6 1937.4 v6M171.7 1937.4 v12.3M215.9 1937.4 v6M260 1937.4 v12.3M304.1 1937.4 v6M348.2 1937.4 v12.3M392.4 1937.4 v6M436.5 1937.4 v12.3M480.6 1937.4 v6M524.7 1937.4 v12.3M568.8 1937.4 v6M613 1937.4 v12.3M657.1 1937.4 v6M701.2 1937.4 v12.3"/>
<g font-size="30.6" text-anchor="middle">
<text x="83.5" y="1981.1">1100</text>
<text x="171.7" y="1981.1">1200</text>
<text x="260" y="1981.1">1300</text>
<text x="348.2" y="1981.1">1400</text>
<text x="436.5" y="1981.1">1500</text>
<text x="524.7" y="1981.1">1600</text>
<text x="613" y="1981.1">1700</text>
<text x="701.2" y="1981.1">1800</text>
</g>
<circle cx="125.8" cy="1107.5" r="23.7" fill="#00834a"/>
<text class="cl" transform="translate(115.96 1122.64) scale(0.765 1)" font-size="44" style="stroke-width:0.98px">F</text>
<circle cx="125.8" cy="1287.8" r="23.7" fill="#00834a"/>
<text class="cl" transform="translate(113.39 1303.04) scale(0.725 1)" font-size="44" style="stroke-width:1.04px">E</text>
<circle cx="125.7" cy="1428" r="23.7" fill="#00834a"/>
<text class="cl" transform="translate(112.65 1443.44) scale(0.95 1)" font-size="44" style="stroke-width:0.68px">D</text>
<circle cx="125.8" cy="1587.3" r="23.7" fill="#00834a"/>
<text class="cl" transform="translate(110.21 1602.64) scale(0.8 1)" font-size="44" style="stroke-width:0.92px">C</text>
<circle cx="125.8" cy="1730.5" r="23.7" fill="#00834a"/>
<text class="cl" transform="translate(115.20 1745.04) scale(0.8 1)" font-size="44" style="stroke-width:0.92px">B</text>
<circle cx="125.8" cy="1882.5" r="23.7" fill="#00834a"/>
<text class="cl" transform="translate(113.03 1896.54) scale(0.85 1)" font-size="44" style="stroke-width:0.84px">A</text>
</g>
<g id="panel-c">
<path class="ax" style="stroke-linecap:square" d="M801.7 1017.8 H1419.5 V1936.3 H801.7 Z"/>
<path class="sp" stroke-width="2.7" d="M800.6 1159.7 L801.7 1161.6 L802.8 1159.9 L803.9 1160.9 L805 1160.4 L806.1 1160.7 L807.2 1159.2 L808.3 1161.5 L809.4 1160.5 L810.5 1159.6 L811.6 1161.4 L812.7 1160.3 L813.8 1159.7 L814.9 1159.6 L816 1161.1 L817.1 1160.6 L818.2 1159.8 L819.3 1160.3 L820.4 1158.4 L821.5 1160.5 L822.6 1159.8 L823.7 1159.4 L824.8 1159.4 L825.9 1160.3 L827 1157.5 L828.1 1160.6 L829.2 1160.4 L830.3 1158.9 L831.4 1160 L832.5 1158 L833.6 1158.4 L834.7 1158.2 L835.8 1159.6 L836.9 1158.2 L838 1158.4 L839.1 1158.2 L840.2 1159.5 L841.3 1157.3 L842.4 1158.1 L843.5 1159.1 L844.6 1159.1 L845.7 1157.9 L846.8 1158.2 L847.9 1159.1 L849 1157.7 L850.1 1158.6 L851.2 1159.2 L852.3 1157.5 L853.4 1157.3 L854.5 1156.2 L855.6 1157.8 L856.7 1157.9 L857.8 1157.7 L858.9 1155.8 L860 1157.8 L861.1 1158 L862.2 1156.9 L863.3 1155.9 L864.4 1155.6 L865.5 1156.3 L866.6 1155.1 L867.7 1155.2 L868.8 1155.6 L869.9 1155 L871 1154.9 L872.1 1154.6 L873.2 1156 L874.3 1154.2 L875.4 1155.1 L876.5 1154.6 L877.6 1154.9 L878.7 1154.3 L879.8 1154.3 L880.9 1154.1 L882 1153.9 L883.1 1154.3 L884.2 1154.5 L885.3 1153.2 L886.4 1153.7 L887.5 1151.4 L888.6 1153 L889.7 1152.8 L890.8 1152.6 L891.9 1151.9 L893 1152.7 L894.1 1151.7 L895.2 1151.1 L896.3 1152.3 L897.4 1152.1 L898.5 1150.2 L899.6 1150.9 L900.7 1150.1 L901.8 1151.8 L902.9 1151 L904 1150.9 L905.1 1149.2 L906.2 1150.6 L907.3 1149.3 L908.4 1149.5 L909.5 1149.4 L910.6 1149.1 L911.7 1148.3 L912.8 1148.9 L913.9 1147.9 L915 1148.4 L916.1 1146.5 L917.2 1146.8 L918.3 1147.4 L919.4 1146 L920.5 1147 L921.6 1146.8 L922.7 1146.3 L923.8 1145.2 L924.9 1145.5 L926 1145.1 L927.1 1144.8 L928.2 1143.1 L929.3 1143.3 L930.4 1145.5 L931.5 1142.8 L932.6 1142.2 L933.7 1141.7 L934.8 1142.2 L935.9 1141.1 L937 1141.3 L938.1 1140.9 L939.2 1140.6 L940.3 1139.9 L941.4 1137.8 L942.5 1138.9 L943.6 1138.5 L944.7 1138.3 L945.8 1137.6 L946.9 1136.3 L948 1136.3 L949.1 1134.7 L950.2 1136.4 L951.3 1134.9 L952.4 1134.1 L953.5 1133.5 L954.6 1132.5 L955.7 1131.7 L956.8 1132 L957.9 1131.3 L959 1129.7 L960.1 1129 L961.2 1128.8 L962.3 1128.3 L963.4 1128.8 L964.5 1127.9 L965.6 1126 L966.7 1125.5 L967.8 1124.9 L968.9 1125.4 L970 1122.6 L971.1 1122.7 L972.2 1122 L973.3 1122.2 L974.4 1119.8 L975.5 1119.2 L976.6 1117.4 L977.7 1117.1 L978.8 1115.4 L979.9 1114.6 L981 1113.1 L982.1 1112.3 L983.2 1112.8 L984.3 1109.1 L985.4 1108.5 L986.5 1108.1 L987.6 1105.5 L988.7 1103.6 L989.8 1103.3 L990.9 1103.3 L992 1100.9 L993.1 1099.7 L994.2 1097.5 L995.3 1096.6 L996.4 1094.1 L997.5 1095.1 L998.6 1092.5 L999.7 1091.4 L1000.8 1090 L1001.9 1089.8 L1003 1090.2 L1004.1 1087.6 L1005.2 1088.8 L1006.3 1086.1 L1007.4 1085.2 L1008.5 1085.9 L1009.6 1085 L1010.7 1086.7 L1011.8 1084.5 L1012.9 1084.9 L1014 1084.3 L1015.1 1084.3 L1016.2 1086.9 L1017.3 1086.8 L1018.4 1086.3 L1019.5 1087.6 L1020.6 1088.7 L1021.7 1089 L1022.8 1089 L1023.9 1090.9 L1025 1092 L1026.1 1091.3 L1027.2 1094 L1028.3 1094.6 L1029.4 1096.5 L1030.5 1096.9 L1031.6 1098.5 L1032.7 1100.3 L1033.8 1101.9 L1034.9 1103.1 L1036 1105.2 L1037.1 1105.4 L1038.2 1106.7 L1039.3 1109.8 L1040.4 1110.7 L1041.5 1111.7 L1042.6 1112.7 L1043.7 1115.2 L1044.8 1116.6 L1045.9 1118.1 L1047 1118.4 L1048.1 1120.3 L1049.2 1121.4 L1050.3 1122.3 L1051.4 1122.9 L1052.5 1124.3 L1053.6 1124.4 L1054.7 1126.6 L1055.8 1127.3 L1056.9 1128.2 L1058 1128.4 L1059.1 1130.3 L1060.2 1131.7 L1061.3 1131.2 L1062.4 1133.1 L1063.5 1132.9 L1064.6 1134.5 L1065.7 1134.2 L1066.8 1136 L1067.9 1136.9 L1069 1138.3 L1070.1 1137.8 L1071.2 1137.7 L1072.3 1139.2 L1073.4 1139.5 L1074.5 1140.3 L1075.6 1141.6 L1076.7 1139.9 L1077.8 1142.7 L1078.9 1142.1 L1080 1141.9 L1081.1 1142.1 L1082.2 1143 L1083.3 1144.6 L1084.4 1144.5 L1085.5 1143.8 L1086.6 1144.7 L1087.7 1146.7 L1088.8 1144.5 L1089.9 1145.4 L1091 1145.5 L1092.1 1146.2 L1093.2 1146.7 L1094.3 1145.4 L1095.4 1146.7 L1096.5 1147.7 L1097.6 1147 L1098.7 1147.2 L1099.8 1147.1 L1100.9 1146.7 L1102 1147.9 L1103.1 1146.5 L1104.2 1146.7 L1105.3 1147.2 L1106.4 1147.2 L1107.5 1147.3 L1108.6 1147.2 L1109.7 1148.1 L1110.8 1148.8 L1111.9 1147.8 L1113 1148.6 L1114.1 1148.8 L1115.2 1148 L1116.3 1148.2 L1117.4 1148.4 L1118.5 1149.5 L1119.6 1147.4 L1120.7 1149.7 L1121.8 1147.9 L1122.9 1148.1 L1124 1148.1 L1125.1 1146.7 L1126.2 1148.3 L1127.3 1148.8 L1128.4 1147.7 L1129.5 1148.3 L1130.6 1147.5 L1131.7 1147.3 L1132.8 1146.3 L1133.9 1147.4 L1135 1147 L1136.1 1147.2 L1137.2 1147.2 L1138.3 1148.5 L1139.4 1146.5 L1140.5 1146.7 L1141.6 1145.6 L1142.7 1149.6 L1143.8 1146.6 L1144.9 1148.2 L1146 1146.7 L1147.1 1148.4 L1148.2 1146.7 L1149.3 1145.8 L1150.4 1146.7 L1151.5 1145.3 L1152.6 1146.9 L1153.7 1145.6 L1154.8 1147.5 L1155.9 1146.1 L1157 1146.6 L1158.1 1145.5 L1159.2 1145 L1160.3 1146.6 L1161.4 1145.3 L1162.5 1145.2 L1163.6 1145.5 L1164.7 1144.5 L1165.8 1143.9 L1166.9 1144 L1168 1143.6 L1169.1 1143.3 L1170.2 1143 L1171.3 1143.2 L1172.4 1142.2 L1173.5 1141.7 L1174.6 1141.8 L1175.7 1141 L1176.8 1139.4 L1177.9 1140.4 L1179 1140.4 L1180.1 1139.9 L1181.2 1138.2 L1182.3 1138.5 L1183.4 1137.4 L1184.5 1138.2 L1185.6 1137.3 L1186.7 1135.5 L1187.8 1135.4 L1188.9 1134.8 L1190 1134.6 L1191.1 1136 L1192.2 1133.6 L1193.3 1132.9 L1194.4 1133.1 L1195.5 1130.7 L1196.6 1131.4 L1197.7 1131.2 L1198.8 1131.7 L1199.9 1129.7 L1201 1129.7 L1202.1 1127.7 L1203.2 1126.8 L1204.3 1126.5 L1205.4 1124.7 L1206.5 1125 L1207.6 1123.3 L1208.7 1122.1 L1209.8 1121.6 L1210.9 1118.5 L1212 1118.7 L1213.1 1117.1 L1214.2 1115.4 L1215.3 1117.3 L1216.4 1114.2 L1217.5 1113.3 L1218.6 1113.6 L1219.7 1111.1 L1220.8 1112.1 L1221.9 1110.6 L1223 1109.1 L1224.1 1109.4 L1225.2 1107.8 L1226.3 1107.3 L1227.4 1106.5 L1228.5 1106.4 L1229.6 1105.7 L1230.7 1105.4 L1231.8 1104.4 L1232.9 1103.9 L1234 1104 L1235.1 1105 L1236.2 1105.1 L1237.3 1105.4 L1238.4 1104.8 L1239.5 1105 L1240.6 1105.7 L1241.7 1105.8 L1242.8 1105.4 L1243.9 1106.9 L1245 1106.4 L1246.1 1107.1 L1247.2 1109.6 L1248.3 1110 L1249.4 1109.4 L1250.5 1111.6 L1251.6 1113 L1252.7 1113.9 L1253.8 1116.1 L1254.9 1116.9 L1256 1117.4 L1257.1 1118.1 L1258.2 1121 L1259.3 1124.4 L1260.4 1126.4 L1261.5 1126.1 L1262.6 1129 L1263.7 1130.2 L1264.8 1134.2 L1265.9 1135.2 L1267 1137.1 L1268.1 1139.7 L1269.2 1139.8 L1270.3 1142.3 L1271.4 1145.2 L1272.5 1145.1 L1273.6 1146.9 L1274.7 1149.2 L1275.8 1150.9 L1276.9 1150.3 L1278 1151.8 L1279.1 1153.8 L1280.2 1154 L1281.3 1153.8 L1282.4 1153.7 L1283.5 1154.1 L1284.6 1157.2 L1285.7 1156.6 L1286.8 1155.6 L1287.9 1157.4 L1289 1155.6 L1290.1 1156.7 L1291.2 1158.2 L1292.3 1158.5 L1293.4 1157.3 L1294.5 1158.6 L1295.6 1158.2 L1296.7 1158.4 L1297.8 1158.6 L1298.9 1158.5 L1300 1158.5 L1301.1 1159.5 L1302.2 1158.9 L1303.3 1160.5 L1304.4 1160.2 L1305.5 1161.5 L1306.6 1160.4 L1307.7 1161.1 L1308.8 1160.8 L1309.9 1162.5 L1311 1161.2 L1312.1 1160.8 L1313.2 1161.6 L1314.3 1162.5 L1315.4 1162.2 L1316.5 1161.7 L1317.6 1162.5 L1318.7 1161.9 L1319.8 1162.6 L1320.9 1162.8 L1322 1162.9 L1323.1 1163.2 L1324.2 1162.6 L1325.3 1162.3 L1326.4 1161.9 L1327.5 1162.2 L1328.6 1163.1 L1329.7 1163.9 L1330.8 1163.1 L1331.9 1162.6 L1333 1163 L1334.1 1164.3 L1335.2 1163.8 L1336.3 1163.7 L1337.4 1164.2 L1338.5 1163.7 L1339.6 1163.5 L1340.7 1163.5 L1341.8 1163.2 L1342.9 1162.8 L1344 1163.2 L1345.1 1163.4 L1346.2 1164.8 L1347.3 1163 L1348.4 1163.9 L1349.5 1163.7 L1350.6 1164 L1351.7 1163.9 L1352.8 1163 L1353.9 1163.5 L1355 1164 L1356.1 1165.8 L1357.2 1164.1 L1358.3 1164.6 L1359.4 1164.3 L1360.5 1164.3 L1361.6 1163.2 L1362.7 1163.6 L1363.8 1163.8 L1364.9 1164.1 L1366 1164.9 L1367.1 1164.2 L1368.2 1164.7 L1369.3 1164.8 L1370.4 1164.5 L1371.5 1163.8 L1372.6 1163.7 L1373.7 1165.1 L1374.8 1164.4 L1375.9 1163.8 L1377 1164.3 L1378.1 1164.2 L1379.2 1164.3 L1380.3 1164.9 L1381.4 1164.4 L1382.5 1164.7 L1383.6 1165.4 L1384.7 1165.9 L1385.8 1163.9 L1386.9 1165.5 L1388 1165.5 L1389.1 1164 L1390.2 1165.4 L1391.3 1164.2 L1392.4 1164.6 L1393.5 1164.3 L1394.6 1164.3 L1395.7 1165.3 L1396.8 1165 L1397.9 1165.5 L1399 1164.8 L1400.1 1165.5 L1401.2 1164.2 L1402.3 1165.6 L1403.4 1164.8 L1404.5 1164.1 L1405.6 1164 L1406.7 1164 L1407.8 1165 L1408.9 1165.9 L1410 1165 L1411.1 1164.4 L1412.2 1165.1 L1413.3 1164.3 L1414.4 1165.3 L1415.5 1165 L1416.6 1164.7 L1417.7 1165.2 L1418.6 1165"/>
<path class="sp" stroke-width="2.5" d="M800.6 1332.3 L801.6 1332.3 L802.6 1332.5 L803.6 1332.1 L804.6 1332.4 L805.6 1332.1 L806.6 1332.1 L807.6 1333.2 L808.6 1332.1 L809.6 1332.3 L810.6 1332.5 L811.6 1332.3 L812.6 1331.9 L813.6 1331.9 L814.6 1332.8 L815.6 1332.1 L816.6 1331.5 L817.6 1332.2 L818.6 1331.9 L819.6 1331.9 L820.6 1331.7 L821.6 1332.7 L822.6 1332.9 L823.6 1331.9 L824.6 1332 L825.6 1331.9 L826.6 1331.6 L827.6 1332 L828.6 1332.2 L829.6 1331.8 L830.6 1332.1 L831.6 1332.1 L832.6 1332.2 L833.6 1331.7 L834.6 1331.5 L835.6 1331.6 L836.6 1331.6 L837.6 1331.1 L838.6 1331.1 L839.6 1331.1 L840.6 1331.5 L841.6 1331.4 L842.6 1331.1 L843.6 1332.1 L844.6 1331.2 L845.6 1331.1 L846.6 1331 L847.6 1331.8 L848.6 1331.8 L849.6 1330.9 L850.6 1331.3 L851.6 1331.3 L852.6 1330.4 L853.6 1330.2 L854.6 1330.3 L855.6 1331.9 L856.6 1331 L857.6 1330.9 L858.6 1330.7 L859.6 1330.5 L860.6 1331.5 L861.6 1330.3 L862.6 1330.7 L863.6 1331.6 L864.6 1330.4 L865.6 1330.4 L866.6 1330.3 L867.6 1329.9 L868.6 1330.3 L869.6 1330.8 L870.6 1330.1 L871.6 1330.2 L872.6 1329.6 L873.6 1329.1 L874.6 1330.5 L875.6 1329.3 L876.6 1329.7 L877.6 1329.7 L878.6 1330.4 L879.6 1329.2 L880.6 1330 L881.6 1328.8 L882.6 1329.9 L883.6 1330 L884.6 1329.5 L885.6 1329.5 L886.6 1329.4 L887.6 1329.6 L888.6 1328.9 L889.6 1330.2 L890.6 1328.8 L891.6 1328.9 L892.6 1328.8 L893.6 1328.8 L894.6 1328.4 L895.6 1328.5 L896.6 1327.8 L897.6 1327.5 L898.6 1327.8 L899.6 1328.4 L900.6 1328.9 L901.6 1327.4 L902.6 1328 L903.6 1327.3 L904.6 1328.2 L905.6 1327.6 L906.6 1329 L907.6 1327.3 L908.6 1328 L909.6 1327.3 L910.6 1327.2 L911.6 1327.5 L912.6 1326.6 L913.6 1327.4 L914.6 1326.7 L915.6 1327.1 L916.6 1327 L917.6 1325.7 L918.6 1326.1 L919.6 1326.3 L920.6 1325.9 L921.6 1326.2 L922.6 1326 L923.6 1325.6 L924.6 1325.9 L925.6 1325.4 L926.6 1325 L927.6 1325.4 L928.6 1324.8 L929.6 1325.1 L930.6 1324.3 L931.6 1324.1 L932.6 1323.9 L933.6 1323.9 L934.6 1322.9 L935.6 1323.6 L936.6 1323.1 L937.6 1322.8 L938.6 1322.2 L939.6 1322.5 L940.6 1322.3 L941.6 1322.3 L942.6 1321.6 L943.6 1321.6 L944.6 1321.3 L945.6 1320.6 L946.6 1320.5 L947.6 1319.4 L948.6 1319.3 L949.6 1319.6 L950.6 1319.2 L951.6 1318.6 L952.6 1318.3 L953.6 1318.5 L954.6 1317 L955.6 1317.2 L956.6 1315.8 L957.6 1315.8 L958.6 1315.8 L959.6 1315.1 L960.6 1314.1 L961.6 1314.7 L962.6 1312.9 L963.6 1312.2 L964.6 1312.3 L965.6 1311.2 L966.6 1311.3 L967.6 1310.2 L968.6 1309.7 L969.6 1309 L970.6 1308.5 L971.6 1307.2 L972.6 1306.2 L973.6 1305.1 L974.6 1304.4 L975.6 1303.6 L976.6 1302.5 L977.6 1300.6 L978.6 1300 L979.6 1298.1 L980.6 1296.7 L981.6 1296.2 L982.6 1293.1 L983.6 1292.1 L984.6 1289.2 L985.6 1288 L986.6 1285.4 L987.6 1283.2 L988.6 1281.5 L989.6 1278.3 L990.6 1275.2 L991.6 1272.2 L992.6 1269.2 L993.6 1267.1 L994.6 1263.6 L995.6 1259.6 L996.6 1256.2 L997.6 1253.1 L998.6 1248.2 L999.6 1243.3 L1000.6 1239 L1001.6 1232.6 L1002.6 1227 L1003.6 1222.5 L1004.6 1218.1 L1005.6 1213.7 L1006.6 1208.9 L1007.6 1205.2 L1008.6 1202.1 L1009.6 1200 L1010.6 1197.3 L1011.6 1195.9 L1012.6 1193.5 L1013.6 1192.7 L1014.6 1192.5 L1015.6 1193.5 L1016.6 1194.2 L1017.6 1196.6 L1018.6 1199.4 L1019.6 1201.5 L1020.6 1203.3 L1021.6 1207.9 L1022.6 1212.1 L1023.6 1215.5 L1024.6 1219.5 L1025.6 1224 L1026.6 1228.8 L1027.6 1232.3 L1028.6 1237.6 L1029.6 1242.9 L1030.6 1246.2 L1031.6 1250.9 L1032.6 1255.1 L1033.6 1258.9 L1034.6 1262.2 L1035.6 1267.2 L1036.6 1270.7 L1037.6 1274.6 L1038.6 1277 L1039.6 1281.1 L1040.6 1284 L1041.6 1286.6 L1042.6 1289.7 L1043.6 1291.7 L1044.6 1294.8 L1045.6 1297 L1046.6 1299.2 L1047.6 1301 L1048.6 1302.6 L1049.6 1303.9 L1050.6 1306 L1051.6 1307.3 L1052.6 1308.5 L1053.6 1309.3 L1054.6 1311 L1055.6 1310.9 L1056.6 1312.6 L1057.6 1313.1 L1058.6 1313.6 L1059.6 1313.8 L1060.6 1314.8 L1061.6 1315.8 L1062.6 1316.4 L1063.6 1317.7 L1064.6 1318.6 L1065.6 1318.2 L1066.6 1319.4 L1067.6 1318.9 L1068.6 1319.7 L1069.6 1320.5 L1070.6 1320.9 L1071.6 1320.7 L1072.6 1320.7 L1073.6 1320.8 L1074.6 1321.2 L1075.6 1322 L1076.6 1322.8 L1077.6 1323.3 L1078.6 1323.1 L1079.6 1324 L1080.6 1323 L1081.6 1323.3 L1082.6 1324.1 L1083.6 1323.9 L1084.6 1323.6 L1085.6 1323.2 L1086.6 1324.4 L1087.6 1324.3 L1088.6 1324.6 L1089.6 1324.1 L1090.6 1325.3 L1091.6 1325.2 L1092.6 1325 L1093.6 1324.4 L1094.6 1325.2 L1095.6 1326 L1096.6 1325.8 L1097.6 1325.1 L1098.6 1325.8 L1099.6 1326.3 L1100.6 1326.1 L1101.6 1325.6 L1102.6 1325.4 L1103.6 1326 L1104.6 1325.9 L1105.6 1326.5 L1106.6 1325.3 L1107.6 1325.4 L1108.6 1327.4 L1109.6 1326.5 L1110.6 1326.8 L1111.6 1326.9 L1112.6 1325.8 L1113.6 1325.7 L1114.6 1326.9 L1115.6 1325.7 L1116.6 1326.7 L1117.6 1326.2 L1118.6 1325.9 L1119.6 1325.5 L1120.6 1326.6 L1121.6 1326.4 L1122.6 1326.3 L1123.6 1326 L1124.6 1325.5 L1125.6 1326.5 L1126.6 1325.6 L1127.6 1326.6 L1128.6 1325.7 L1129.6 1326 L1130.6 1326.1 L1131.6 1326.5 L1132.6 1326.5 L1133.6 1326.2 L1134.6 1325.7 L1135.6 1326.3 L1136.6 1325.4 L1137.6 1326.3 L1138.6 1326.3 L1139.6 1325.5 L1140.6 1326.3 L1141.6 1325.5 L1142.6 1325.2 L1143.6 1326 L1144.6 1326.1 L1145.6 1325.3 L1146.6 1324.8 L1147.6 1324.4 L1148.6 1326.2 L1149.6 1325.3 L1150.6 1325.5 L1151.6 1325.9 L1152.6 1324.8 L1153.6 1324.3 L1154.6 1325 L1155.6 1324.9 L1156.6 1324.9 L1157.6 1324.5 L1158.6 1324.7 L1159.6 1323.6 L1160.6 1324.4 L1161.6 1324.2 L1162.6 1324.1 L1163.6 1324.4 L1164.6 1323.8 L1165.6 1323.4 L1166.6 1323.5 L1167.6 1323.9 L1168.6 1323.7 L1169.6 1323.5 L1170.6 1323.2 L1171.6 1323.8 L1172.6 1323.9 L1173.6 1322.2 L1174.6 1322.7 L1175.6 1322.7 L1176.6 1322.3 L1177.6 1321.8 L1178.6 1322.1 L1179.6 1321.6 L1180.6 1321.4 L1181.6 1321.8 L1182.6 1321.9 L1183.6 1321.2 L1184.6 1321.2 L1185.6 1320.1 L1186.6 1320.3 L1187.6 1319.7 L1188.6 1319.3 L1189.6 1318.9 L1190.6 1319 L1191.6 1317.6 L1192.6 1317.6 L1193.6 1318.1 L1194.6 1316.7 L1195.6 1316 L1196.6 1316.4 L1197.6 1314.7 L1198.6 1314.1 L1199.6 1314.7 L1200.6 1313.4 L1201.6 1312.9 L1202.6 1312.6 L1203.6 1311.5 L1204.6 1310.4 L1205.6 1309.6 L1206.6 1309 L1207.6 1306.9 L1208.6 1306.5 L1209.6 1304.7 L1210.6 1303.9 L1211.6 1302.2 L1212.6 1302.1 L1213.6 1299.6 L1214.6 1298.5 L1215.6 1296.1 L1216.6 1294 L1217.6 1291.9 L1218.6 1288.9 L1219.6 1287.9 L1220.6 1285.1 L1221.6 1281.4 L1222.6 1278.1 L1223.6 1275.1 L1224.6 1273.2 L1225.6 1271.6 L1226.6 1270.6 L1227.6 1269 L1228.6 1268.8 L1229.6 1268.4 L1230.6 1269.3 L1231.6 1270.2 L1232.6 1271 L1233.6 1273 L1234.6 1273.2 L1235.6 1274 L1236.6 1275.1 L1237.6 1276.5 L1238.6 1277 L1239.6 1278 L1240.6 1279.1 L1241.6 1278.7 L1242.6 1278.7 L1243.6 1279.8 L1244.6 1280.4 L1245.6 1281.4 L1246.6 1281.7 L1247.6 1281.3 L1248.6 1281.4 L1249.6 1281.7 L1250.6 1280.5 L1251.6 1281.4 L1252.6 1279.8 L1253.6 1279.4 L1254.6 1278.5 L1255.6 1278.4 L1256.6 1278.1 L1257.6 1277.8 L1258.6 1278.2 L1259.6 1278.4 L1260.6 1279.9 L1261.6 1281.6 L1262.6 1284.5 L1263.6 1288.2 L1264.6 1293.7 L1265.6 1298.1 L1266.6 1304.7 L1267.6 1308.6 L1268.6 1313.2 L1269.6 1316.3 L1270.6 1318.9 L1271.6 1320.6 L1272.6 1323.2 L1273.6 1324.6 L1274.6 1326.5 L1275.6 1326.6 L1276.6 1328.3 L1277.6 1329.2 L1278.6 1329.7 L1279.6 1330.2 L1280.6 1329.7 L1281.6 1331.1 L1282.6 1330.8 L1283.6 1330.6 L1284.6 1331 L1285.6 1331.5 L1286.6 1330.8 L1287.6 1331.9 L1288.6 1332.4 L1289.6 1331.8 L1290.6 1331.3 L1291.6 1331.1 L1292.6 1332.3 L1293.6 1332.4 L1294.6 1331.5 L1295.6 1332.2 L1296.6 1332.3 L1297.6 1332.4 L1298.6 1331.9 L1299.6 1332.3 L1300.6 1332.3 L1301.6 1332.7 L1302.6 1333.3 L1303.6 1332.5 L1304.6 1333.1 L1305.6 1332.9 L1306.6 1333 L1307.6 1332.5 L1308.6 1333.2 L1309.6 1333.4 L1310.6 1332.7 L1311.6 1333.7 L1312.6 1332.8 L1313.6 1333.9 L1314.6 1332.6 L1315.6 1333.5 L1316.6 1333.9 L1317.6 1333.4 L1318.6 1333.8 L1319.6 1333.5 L1320.6 1332.7 L1321.6 1333.7 L1322.6 1333.4 L1323.6 1333.8 L1324.6 1333 L1325.6 1332.8 L1326.6 1333.6 L1327.6 1333.1 L1328.6 1333.9 L1329.6 1333.4 L1330.6 1333.9 L1331.6 1333.1 L1332.6 1333.1 L1333.6 1334.1 L1334.6 1332.6 L1335.6 1333.4 L1336.6 1333.8 L1337.6 1333.4 L1338.6 1332.9 L1339.6 1334.1 L1340.6 1333.6 L1341.6 1333.7 L1342.6 1333.5 L1343.6 1333.8 L1344.6 1332.6 L1345.6 1333 L1346.6 1334 L1347.6 1333.2 L1348.6 1334 L1349.6 1333.3 L1350.6 1332.9 L1351.6 1333.2 L1352.6 1333.4 L1353.6 1333.6 L1354.6 1333.5 L1355.6 1333.4 L1356.6 1333.6 L1357.6 1334 L1358.6 1333.2 L1359.6 1333.1 L1360.6 1334 L1361.6 1333.5 L1362.6 1333.6 L1363.6 1333.2 L1364.6 1333.1 L1365.6 1333.6 L1366.6 1334.8 L1367.6 1334.1 L1368.6 1333.7 L1369.6 1333.8 L1370.6 1333.6 L1371.6 1333.4 L1372.6 1333 L1373.6 1333.5 L1374.6 1333.7 L1375.6 1333.7 L1376.6 1333.7 L1377.6 1333.7 L1378.6 1333.3 L1379.6 1334 L1380.6 1334.2 L1381.6 1333.7 L1382.6 1333.1 L1383.6 1333.4 L1384.6 1333.9 L1385.6 1333.5 L1386.6 1333 L1387.6 1334.3 L1388.6 1333.9 L1389.6 1333.9 L1390.6 1333.2 L1391.6 1333.7 L1392.6 1333.7 L1393.6 1333.9 L1394.6 1333.5 L1395.6 1333.5 L1396.6 1334.2 L1397.6 1334.5 L1398.6 1333.6 L1399.6 1334.3 L1400.6 1333.4 L1401.6 1333.5 L1402.6 1333.9 L1403.6 1333.8 L1404.6 1333 L1405.6 1333.7 L1406.6 1333.7 L1407.6 1334.2 L1408.6 1333.2 L1409.6 1333.3 L1410.6 1334.1 L1411.6 1333.9 L1412.6 1333.5 L1413.6 1333.4 L1414.6 1333.7 L1415.6 1333.5 L1416.6 1333.6 L1417.6 1333.3 L1418.6 1333.1"/>
<path class="sp" stroke-width="2.5" d="M800.6 1513.9 L801.6 1514.3 L802.6 1514.2 L803.6 1514 L804.6 1514.2 L805.6 1514.2 L806.6 1514.4 L807.6 1514.5 L808.6 1513.9 L809.6 1513.8 L810.6 1513.8 L811.6 1514.6 L812.6 1514.5 L813.6 1514.1 L814.6 1513.8 L815.6 1514 L816.6 1514.5 L817.6 1514.1 L818.6 1514 L819.6 1514.3 L820.6 1514.2 L821.6 1513.8 L822.6 1514.1 L823.6 1513.9 L824.6 1514 L825.6 1513.8 L826.6 1513.8 L827.6 1513.7 L828.6 1514.3 L829.6 1514.2 L830.6 1513.7 L831.6 1514.4 L832.6 1515 L833.6 1513.8 L834.6 1513.9 L835.6 1513.4 L836.6 1514 L837.6 1514.1 L838.6 1514.5 L839.6 1513.8 L840.6 1514.3 L841.6 1513.8 L842.6 1513.9 L843.6 1514 L844.6 1513.5 L845.6 1513.5 L846.6 1512.6 L847.6 1512.3 L848.6 1507.3 L849.6 1501.9 L850.6 1502.1 L851.6 1502.3 L852.6 1503 L853.6 1500.8 L854.6 1495.9 L855.6 1494 L856.6 1496.7 L857.6 1500.9 L858.6 1504.7 L859.6 1510.5 L860.6 1513.3 L861.6 1513.8 L862.6 1513.5 L863.6 1513.7 L864.6 1514.2 L865.6 1513.6 L866.6 1514.6 L867.6 1514.1 L868.6 1514.5 L869.6 1514.4 L870.6 1513.9 L871.6 1514 L872.6 1513.9 L873.6 1514.3 L874.6 1514.1 L875.6 1514.1 L876.6 1514.7 L877.6 1514.7 L878.6 1514.8 L879.6 1514.4 L880.6 1514.2 L881.6 1514.7 L882.6 1514.4 L883.6 1514.4 L884.6 1514.9 L885.6 1514.7 L886.6 1514.1 L887.6 1513.9 L888.6 1514.3 L889.6 1514.3 L890.6 1514.5 L891.6 1514.8 L892.6 1514.5 L893.6 1514.4 L894.6 1514 L895.6 1514.3 L896.6 1514.8 L897.6 1514.4 L898.6 1514 L899.6 1514.5 L900.6 1514 L901.6 1514.2 L902.6 1514.1 L903.6 1514.7 L904.6 1514.2 L905.6 1514.7 L906.6 1514.9 L907.6 1514.4 L908.6 1514.3 L909.6 1514 L910.6 1515 L911.6 1514.4 L912.6 1514.5 L913.6 1514.4 L914.6 1514.2 L915.6 1514.4 L916.6 1513.9 L917.6 1514.8 L918.6 1514.1 L919.6 1514.2 L920.6 1514.2 L921.6 1514.1 L922.6 1514.6 L923.6 1513.6 L924.6 1514.2 L925.6 1514.5 L926.6 1514 L927.6 1513.9 L928.6 1514.4 L929.6 1513.9 L930.6 1513.5 L931.6 1514.5 L932.6 1514.3 L933.6 1513.6 L934.6 1514.2 L935.6 1514 L936.6 1513.6 L937.6 1513 L938.6 1513.8 L939.6 1514.1 L940.6 1513.4 L941.6 1513.4 L942.6 1513.5 L943.6 1513.4 L944.6 1513.6 L945.6 1514 L946.6 1513.2 L947.6 1513.5 L948.6 1513.7 L949.6 1513.3 L950.6 1513.6 L951.6 1513.2 L952.6 1513.4 L953.6 1513 L954.6 1512.8 L955.6 1513.4 L956.6 1513.3 L957.6 1512.8 L958.6 1513 L959.6 1512.2 L960.6 1512.6 L961.6 1512.5 L962.6 1513.4 L963.6 1512.4 L964.6 1512.6 L965.6 1512.8 L966.6 1512.3 L967.6 1512.2 L968.6 1512.1 L969.6 1512.2 L970.6 1512 L971.6 1511.6 L972.6 1511.3 L973.6 1511.1 L974.6 1511.2 L975.6 1511 L976.6 1510.5 L977.6 1510.9 L978.6 1510.6 L979.6 1510.3 L980.6 1510.4 L981.6 1510.1 L982.6 1509.7 L983.6 1509.2 L984.6 1508.9 L985.6 1508.6 L986.6 1509 L987.6 1507.7 L988.6 1507.5 L989.6 1507 L990.6 1506.6 L991.6 1506.3 L992.6 1505.3 L993.6 1504.6 L994.6 1503.4 L995.6 1502.5 L996.6 1501.8 L997.6 1500.8 L998.6 1499.8 L999.6 1497.5 L1000.6 1496.3 L1001.6 1494.3 L1002.6 1491.5 L1003.6 1489.2 L1004.6 1486.6 L1005.6 1481.8 L1006.6 1476.8 L1007.6 1472.1 L1008.6 1464.8 L1009.6 1457.1 L1010.6 1447.8 L1011.6 1436.8 L1012.6 1423.8 L1013.6 1410.2 L1014.6 1397.1 L1015.6 1383.9 L1016.6 1375.9 L1017.6 1371.3 L1018.6 1369.4 L1019.6 1371.6 L1020.6 1377 L1021.6 1383.1 L1022.6 1394.6 L1023.6 1408.4 L1024.6 1419.4 L1025.6 1430.6 L1026.6 1441.8 L1027.6 1450.5 L1028.6 1458.5 L1029.6 1466.1 L1030.6 1472.3 L1031.6 1477.5 L1032.6 1482.2 L1033.6 1485.9 L1034.6 1489.4 L1035.6 1491.8 L1036.6 1494.6 L1037.6 1496.3 L1038.6 1498.3 L1039.6 1499.3 L1040.6 1500.9 L1041.6 1501.7 L1042.6 1503 L1043.6 1503.4 L1044.6 1505 L1045.6 1505.3 L1046.6 1505.8 L1047.6 1506.7 L1048.6 1507.4 L1049.6 1508.1 L1050.6 1507.6 L1051.6 1509.2 L1052.6 1508.7 L1053.6 1509.2 L1054.6 1509.1 L1055.6 1510.5 L1056.6 1509.8 L1057.6 1509.8 L1058.6 1510 L1059.6 1510.1 L1060.6 1510.9 L1061.6 1511.1 L1062.6 1510.7 L1063.6 1510.5 L1064.6 1511.2 L1065.6 1511.3 L1066.6 1511.8 L1067.6 1511.5 L1068.6 1511.7 L1069.6 1511.8 L1070.6 1511.6 L1071.6 1512.2 L1072.6 1512.2 L1073.6 1512.1 L1074.6 1512 L1075.6 1512.4 L1076.6 1512.1 L1077.6 1512.3 L1078.6 1512.7 L1079.6 1512.3 L1080.6 1512.1 L1081.6 1512.3 L1082.6 1512.5 L1083.6 1512 L1084.6 1512.2 L1085.6 1512.4 L1086.6 1512.7 L1087.6 1512.4 L1088.6 1513 L1089.6 1512.9 L1090.6 1512.4 L1091.6 1512.6 L1092.6 1512.8 L1093.6 1513 L1094.6 1513 L1095.6 1513.1 L1096.6 1513.3 L1097.6 1513.1 L1098.6 1513.4 L1099.6 1513.1 L1100.6 1512.7 L1101.6 1513 L1102.6 1513.1 L1103.6 1513.2 L1104.6 1512.5 L1105.6 1513 L1106.6 1513.2 L1107.6 1513.2 L1108.6 1513 L1109.6 1513 L1110.6 1513.9 L1111.6 1513.1 L1112.6 1513.1 L1113.6 1513.3 L1114.6 1513.3 L1115.6 1513.5 L1116.6 1513.7 L1117.6 1513.4 L1118.6 1513.9 L1119.6 1513.3 L1120.6 1513.1 L1121.6 1513.8 L1122.6 1513.3 L1123.6 1513.4 L1124.6 1513.1 L1125.6 1513.3 L1126.6 1513.6 L1127.6 1513.7 L1128.6 1512.6 L1129.6 1513.3 L1130.6 1513.3 L1131.6 1512.8 L1132.6 1513.1 L1133.6 1513 L1134.6 1513.7 L1135.6 1513.2 L1136.6 1512.9 L1137.6 1513.4 L1138.6 1513.5 L1139.6 1513.2 L1140.6 1513 L1141.6 1512.8 L1142.6 1513.3 L1143.6 1513.3 L1144.6 1513.3 L1145.6 1513.6 L1146.6 1512.6 L1147.6 1513.1 L1148.6 1513.3 L1149.6 1513.6 L1150.6 1513.3 L1151.6 1513.2 L1152.6 1512.8 L1153.6 1513.2 L1154.6 1512.9 L1155.6 1512.5 L1156.6 1512.5 L1157.6 1513.6 L1158.6 1513.1 L1159.6 1512.6 L1160.6 1512.5 L1161.6 1512.5 L1162.6 1513.2 L1163.6 1512.5 L1164.6 1512.9 L1165.6 1513.4 L1166.6 1513 L1167.6 1513.6 L1168.6 1512.7 L1169.6 1513.1 L1170.6 1513 L1171.6 1513 L1172.6 1512.9 L1173.6 1513.1 L1174.6 1513 L1175.6 1512.1 L1176.6 1512.8 L1177.6 1512.7 L1178.6 1512.1 L1179.6 1512.7 L1180.6 1512.5 L1181.6 1512.5 L1182.6 1512.5 L1183.6 1512.4 L1184.6 1512.5 L1185.6 1512.2 L1186.6 1511.8 L1187.6 1512.1 L1188.6 1512.3 L1189.6 1511.6 L1190.6 1511.7 L1191.6 1511.8 L1192.6 1511.5 L1193.6 1512.2 L1194.6 1511.5 L1195.6 1510.8 L1196.6 1511.6 L1197.6 1511 L1198.6 1510.6 L1199.6 1510.9 L1200.6 1510.7 L1201.6 1510.3 L1202.6 1510 L1203.6 1510.2 L1204.6 1509.5 L1205.6 1509.1 L1206.6 1508.9 L1207.6 1508.3 L1208.6 1508.7 L1209.6 1507.8 L1210.6 1507 L1211.6 1507.1 L1212.6 1506.4 L1213.6 1505.9 L1214.6 1504.9 L1215.6 1503.3 L1216.6 1502.7 L1217.6 1500.9 L1218.6 1499.2 L1219.6 1496.9 L1220.6 1494.2 L1221.6 1490.8 L1222.6 1486.6 L1223.6 1482.9 L1224.6 1478.5 L1225.6 1474.8 L1226.6 1471.6 L1227.6 1467.8 L1228.6 1464.5 L1229.6 1462.7 L1230.6 1463.6 L1231.6 1465.7 L1232.6 1469.1 L1233.6 1473.7 L1234.6 1476.9 L1235.6 1481 L1236.6 1485.1 L1237.6 1488.8 L1238.6 1492 L1239.6 1494.8 L1240.6 1497.4 L1241.6 1499.3 L1242.6 1500.4 L1243.6 1502 L1244.6 1503.3 L1245.6 1503.3 L1246.6 1504.4 L1247.6 1504.4 L1248.6 1505.1 L1249.6 1505.8 L1250.6 1506.3 L1251.6 1506.2 L1252.6 1505.7 L1253.6 1505.9 L1254.6 1506.2 L1255.6 1506.6 L1256.6 1506 L1257.6 1505.4 L1258.6 1503.7 L1259.6 1502.9 L1260.6 1500.9 L1261.6 1498.7 L1262.6 1495.5 L1263.6 1493.9 L1264.6 1493.4 L1265.6 1494.7 L1266.6 1498.1 L1267.6 1501.7 L1268.6 1504.4 L1269.6 1506.8 L1270.6 1509.2 L1271.6 1511.6 L1272.6 1512.4 L1273.6 1512.3 L1274.6 1513.2 L1275.6 1512.9 L1276.6 1513.7 L1277.6 1513.9 L1278.6 1513.7 L1279.6 1514.2 L1280.6 1513.7 L1281.6 1513.5 L1282.6 1513.8 L1283.6 1513.9 L1284.6 1514.3 L1285.6 1514.3 L1286.6 1514.3 L1287.6 1514.4 L1288.6 1514.4 L1289.6 1514.4 L1290.6 1514 L1291.6 1514.4 L1292.6 1513.8 L1293.6 1514.1 L1294.6 1514.1 L1295.6 1514.4 L1296.6 1514.3 L1297.6 1514.4 L1298.6 1513.7 L1299.6 1514.4 L1300.6 1514.4 L1301.6 1514.3 L1302.6 1513.8 L1303.6 1514.8 L1304.6 1514.3 L1305.6 1514.5 L1306.6 1513.9 L1307.6 1514.2 L1308.6 1514.3 L1309.6 1514.6 L1310.6 1514 L1311.6 1514.3 L1312.6 1514.3 L1313.6 1514.5 L1314.6 1513.7 L1315.6 1514.7 L1316.6 1514.2 L1317.6 1514.4 L1318.6 1514.4 L1319.6 1514.8 L1320.6 1514.5 L1321.6 1514.2 L1322.6 1514.2 L1323.6 1514.1 L1324.6 1513.8 L1325.6 1513.7 L1326.6 1514.5 L1327.6 1514.7 L1328.6 1514.3 L1329.6 1514.8 L1330.6 1514.5 L1331.6 1514.6 L1332.6 1514.5 L1333.6 1514.1 L1334.6 1514.2 L1335.6 1515 L1336.6 1514.4 L1337.6 1514.2 L1338.6 1514.4 L1339.6 1514.5 L1340.6 1513.6 L1341.6 1514.3 L1342.6 1514.4 L1343.6 1514.7 L1344.6 1515 L1345.6 1514.9 L1346.6 1514.1 L1347.6 1514.9 L1348.6 1514.3 L1349.6 1514 L1350.6 1514.2 L1351.6 1514.4 L1352.6 1514.4 L1353.6 1514.6 L1354.6 1514.5 L1355.6 1514.7 L1356.6 1514.5 L1357.6 1514.7 L1358.6 1514.8 L1359.6 1514.5 L1360.6 1514.3 L1361.6 1514.4 L1362.6 1514.8 L1363.6 1515.1 L1364.6 1514.6 L1365.6 1514.9 L1366.6 1514.1 L1367.6 1514.5 L1368.6 1514.6 L1369.6 1514.4 L1370.6 1514.5 L1371.6 1514.8 L1372.6 1514.9 L1373.6 1514.2 L1374.6 1514.4 L1375.6 1514.2 L1376.6 1514.7 L1377.6 1515 L1378.6 1514.1 L1379.6 1514.7 L1380.6 1514.3 L1381.6 1514.6 L1382.6 1514.1 L1383.6 1514.9 L1384.6 1514.3 L1385.6 1514.4 L1386.6 1514.3 L1387.6 1514.4 L1388.6 1514.6 L1389.6 1515 L1390.6 1515 L1391.6 1514.7 L1392.6 1514.7 L1393.6 1514.2 L1394.6 1514.5 L1395.6 1514.4 L1396.6 1514.8 L1397.6 1514.8 L1398.6 1515 L1399.6 1514.7 L1400.6 1514.9 L1401.6 1514.4 L1402.6 1513.9 L1403.6 1514.7 L1404.6 1514.3 L1405.6 1514.7 L1406.6 1514.8 L1407.6 1514.8 L1408.6 1514.2 L1409.6 1515 L1410.6 1514.7 L1411.6 1514.7 L1412.6 1514.7 L1413.6 1514.2 L1414.6 1515 L1415.6 1515.3 L1416.6 1514.2 L1417.6 1514.9 L1418.6 1514.5"/>
<path class="sp" stroke-width="2.5" d="M800.6 1623.2 L801.6 1622.8 L802.6 1622.8 L803.6 1623.1 L804.6 1623.2 L805.6 1623.4 L806.6 1623.3 L807.6 1623.9 L808.6 1623.3 L809.6 1623.4 L810.6 1623.2 L811.6 1623.1 L812.6 1623.3 L813.6 1623.6 L814.6 1623 L815.6 1622.6 L816.6 1623 L817.6 1623.5 L818.6 1623 L819.6 1623.4 L820.6 1623.8 L821.6 1623.5 L822.6 1622.7 L823.6 1623.4 L824.6 1623.1 L825.6 1623.2 L826.6 1622.9 L827.6 1623.4 L828.6 1623.5 L829.6 1623.1 L830.6 1622.9 L831.6 1622.9 L832.6 1623.8 L833.6 1623.2 L834.6 1623.1 L835.6 1623.5 L836.6 1623.1 L837.6 1623.2 L838.6 1622.9 L839.6 1623.4 L840.6 1623.3 L841.6 1623.7 L842.6 1623.2 L843.6 1623.1 L844.6 1622.9 L845.6 1623.4 L846.6 1623 L847.6 1623.2 L848.6 1623.1 L849.6 1623.7 L850.6 1623 L851.6 1622.8 L852.6 1623.3 L853.6 1623.2 L854.6 1623.1 L855.6 1623.5 L856.6 1623.5 L857.6 1623.4 L858.6 1623.8 L859.6 1623.1 L860.6 1623.6 L861.6 1623.1 L862.6 1623.4 L863.6 1622.4 L864.6 1623.1 L865.6 1623.4 L866.6 1623.5 L867.6 1623.2 L868.6 1622.9 L869.6 1623.6 L870.6 1623.7 L871.6 1622.7 L872.6 1623.3 L873.6 1623.4 L874.6 1623.4 L875.6 1622.8 L876.6 1623.3 L877.6 1623.3 L878.6 1623.2 L879.6 1623.5 L880.6 1623.5 L881.6 1623.1 L882.6 1623.7 L883.6 1622.9 L884.6 1623.9 L885.6 1622.9 L886.6 1623.7 L887.6 1622.9 L888.6 1623.4 L889.6 1623.5 L890.6 1623 L891.6 1623.5 L892.6 1622.9 L893.6 1623.1 L894.6 1623.3 L895.6 1623.3 L896.6 1623.4 L897.6 1623.4 L898.6 1624 L899.6 1623.5 L900.6 1623.2 L901.6 1623.2 L902.6 1623.2 L903.6 1623.3 L904.6 1623 L905.6 1623.7 L906.6 1623.3 L907.6 1622.9 L908.6 1622.9 L909.6 1623.4 L910.6 1623.3 L911.6 1623 L912.6 1622.9 L913.6 1622.9 L914.6 1623.3 L915.6 1623.1 L916.6 1622.7 L917.6 1623.3 L918.6 1622.4 L919.6 1622.9 L920.6 1623.6 L921.6 1623.4 L922.6 1622.5 L923.6 1622.9 L924.6 1622.8 L925.6 1623.4 L926.6 1623.2 L927.6 1623.5 L928.6 1623.3 L929.6 1623.3 L930.6 1622.8 L931.6 1622.9 L932.6 1622.9 L933.6 1622.7 L934.6 1623.5 L935.6 1623.2 L936.6 1622.5 L937.6 1623.3 L938.6 1622.8 L939.6 1623.3 L940.6 1622.9 L941.6 1622.7 L942.6 1622.7 L943.6 1622.5 L944.6 1622.8 L945.6 1622.5 L946.6 1623.2 L947.6 1622.7 L948.6 1622.9 L949.6 1623.1 L950.6 1622.6 L951.6 1622.5 L952.6 1623.5 L953.6 1622.4 L954.6 1622.7 L955.6 1623.1 L956.6 1623.1 L957.6 1622.8 L958.6 1622.6 L959.6 1623.3 L960.6 1623.1 L961.6 1622.9 L962.6 1622.9 L963.6 1623.2 L964.6 1623.3 L965.6 1623 L966.6 1622.9 L967.6 1623.1 L968.6 1622.2 L969.6 1623.4 L970.6 1622.5 L971.6 1622.8 L972.6 1623.1 L973.6 1622.8 L974.6 1623.2 L975.6 1623.4 L976.6 1622.7 L977.6 1622.8 L978.6 1622.7 L979.6 1622.8 L980.6 1622.3 L981.6 1622.1 L982.6 1622 L983.6 1621.9 L984.6 1622.1 L985.6 1621.3 L986.6 1621.7 L987.6 1621.2 L988.6 1621 L989.6 1620.4 L990.6 1620.4 L991.6 1620.7 L992.6 1619.8 L993.6 1620 L994.6 1618.8 L995.6 1618.2 L996.6 1618.1 L997.6 1617 L998.6 1616.8 L999.6 1616.2 L1000.6 1614.9 L1001.6 1613.4 L1002.6 1611.5 L1003.6 1610.1 L1004.6 1608 L1005.6 1605 L1006.6 1601.6 L1007.6 1597.4 L1008.6 1593.2 L1009.6 1587.4 L1010.6 1580.3 L1011.6 1573.2 L1012.6 1565.2 L1013.6 1557.2 L1014.6 1552.9 L1015.6 1550.1 L1016.6 1550.1 L1017.6 1552.3 L1018.6 1556.2 L1019.6 1561.7 L1020.6 1569.2 L1021.6 1575.4 L1022.6 1581.1 L1023.6 1586.7 L1024.6 1591.8 L1025.6 1596.1 L1026.6 1599.8 L1027.6 1603.2 L1028.6 1605.9 L1029.6 1608 L1030.6 1610 L1031.6 1612.4 L1032.6 1613.2 L1033.6 1614.7 L1034.6 1615.8 L1035.6 1616.7 L1036.6 1617.5 L1037.6 1618.4 L1038.6 1618.5 L1039.6 1618.8 L1040.6 1619.4 L1041.6 1619.9 L1042.6 1619.5 L1043.6 1620.8 L1044.6 1620.2 L1045.6 1620.8 L1046.6 1621.4 L1047.6 1621.3 L1048.6 1621.5 L1049.6 1621.5 L1050.6 1621.2 L1051.6 1622.1 L1052.6 1622.6 L1053.6 1621.8 L1054.6 1621.8 L1055.6 1621.8 L1056.6 1621.8 L1057.6 1621.8 L1058.6 1622.2 L1059.6 1621.8 L1060.6 1622.5 L1061.6 1621.8 L1062.6 1621.6 L1063.6 1621.9 L1064.6 1622.1 L1065.6 1622 L1066.6 1622.2 L1067.6 1622 L1068.6 1622 L1069.6 1622.1 L1070.6 1621.9 L1071.6 1622 L1072.6 1622.1 L1073.6 1621.7 L1074.6 1622.8 L1075.6 1621.7 L1076.6 1622.2 L1077.6 1622.5 L1078.6 1622.4 L1079.6 1622.7 L1080.6 1622.5 L1081.6 1622.3 L1082.6 1622.5 L1083.6 1622.7 L1084.6 1622.9 L1085.6 1622.4 L1086.6 1622.8 L1087.6 1622.5 L1088.6 1622.2 L1089.6 1621.9 L1090.6 1622.3 L1091.6 1622.2 L1092.6 1621.8 L1093.6 1622.6 L1094.6 1622.8 L1095.6 1622.7 L1096.6 1622.2 L1097.6 1622.3 L1098.6 1622.2 L1099.6 1622.5 L1100.6 1622.5 L1101.6 1622.6 L1102.6 1622.5 L1103.6 1623 L1104.6 1622.7 L1105.6 1622.7 L1106.6 1622.7 L1107.6 1623.2 L1108.6 1622.7 L1109.6 1622.9 L1110.6 1622.5 L1111.6 1623.1 L1112.6 1622.8 L1113.6 1622.3 L1114.6 1623.1 L1115.6 1622.4 L1116.6 1622.5 L1117.6 1622.9 L1118.6 1623 L1119.6 1622.8 L1120.6 1622.8 L1121.6 1622.7 L1122.6 1622.8 L1123.6 1622.6 L1124.6 1622.5 L1125.6 1623.1 L1126.6 1622.7 L1127.6 1623.2 L1128.6 1623.3 L1129.6 1623 L1130.6 1622.9 L1131.6 1622.4 L1132.6 1622.5 L1133.6 1622.5 L1134.6 1622.5 L1135.6 1622.9 L1136.6 1622.3 L1137.6 1622.9 L1138.6 1623 L1139.6 1622.8 L1140.6 1623 L1141.6 1621.9 L1142.6 1622.7 L1143.6 1622.8 L1144.6 1622.7 L1145.6 1622.7 L1146.6 1622.6 L1147.6 1622.5 L1148.6 1622.6 L1149.6 1622.9 L1150.6 1622.2 L1151.6 1622.4 L1152.6 1622.8 L1153.6 1622.5 L1154.6 1622.5 L1155.6 1622.2 L1156.6 1622.2 L1157.6 1622.5 L1158.6 1621.8 L1159.6 1622.1 L1160.6 1622.5 L1161.6 1622.5 L1162.6 1622.5 L1163.6 1622.5 L1164.6 1621.8 L1165.6 1621.8 L1166.6 1622.2 L1167.6 1621.9 L1168.6 1621.7 L1169.6 1622.2 L1170.6 1622.4 L1171.6 1622.4 L1172.6 1622.2 L1173.6 1622 L1174.6 1622.6 L1175.6 1622 L1176.6 1621.9 L1177.6 1621.9 L1178.6 1621.9 L1179.6 1621.9 L1180.6 1622 L1181.6 1621.6 L1182.6 1621.9 L1183.6 1621.9 L1184.6 1621.8 L1185.6 1621.6 L1186.6 1621.4 L1187.6 1621.9 L1188.6 1621.3 L1189.6 1621.7 L1190.6 1621.7 L1191.6 1620.5 L1192.6 1621.2 L1193.6 1620.9 L1194.6 1620.4 L1195.6 1620.8 L1196.6 1620.7 L1197.6 1620.5 L1198.6 1620.5 L1199.6 1620.1 L1200.6 1619.9 L1201.6 1620.3 L1202.6 1619.7 L1203.6 1619.1 L1204.6 1618.5 L1205.6 1618.6 L1206.6 1618.1 L1207.6 1617.9 L1208.6 1617.9 L1209.6 1617.2 L1210.6 1616.7 L1211.6 1616.3 L1212.6 1616.3 L1213.6 1615.5 L1214.6 1614 L1215.6 1612.3 L1216.6 1610.8 L1217.6 1608.3 L1218.6 1606.1 L1219.6 1604.1 L1220.6 1600.9 L1221.6 1597.3 L1222.6 1593.5 L1223.6 1589.9 L1224.6 1586.5 L1225.6 1582 L1226.6 1578.9 L1227.6 1577.2 L1228.6 1578.3 L1229.6 1581.3 L1230.6 1585.2 L1231.6 1588.9 L1232.6 1593.6 L1233.6 1597.9 L1234.6 1602.6 L1235.6 1606 L1236.6 1607.9 L1237.6 1610 L1238.6 1611.6 L1239.6 1612.4 L1240.6 1613.7 L1241.6 1614.5 L1242.6 1614.6 L1243.6 1615.6 L1244.6 1616.5 L1245.6 1616.9 L1246.6 1617.5 L1247.6 1617.3 L1248.6 1617.8 L1249.6 1617.9 L1250.6 1618.3 L1251.6 1618.5 L1252.6 1618.9 L1253.6 1619.2 L1254.6 1619.3 L1255.6 1619.2 L1256.6 1619.5 L1257.6 1619 L1258.6 1618.8 L1259.6 1618.4 L1260.6 1617.6 L1261.6 1616.4 L1262.6 1614.5 L1263.6 1613.6 L1264.6 1613.5 L1265.6 1614.2 L1266.6 1615.8 L1267.6 1617.5 L1268.6 1618.5 L1269.6 1619.4 L1270.6 1620.6 L1271.6 1621.2 L1272.6 1622 L1273.6 1622.4 L1274.6 1622.3 L1275.6 1622.3 L1276.6 1622.5 L1277.6 1622.8 L1278.6 1623.2 L1279.6 1623.1 L1280.6 1622.3 L1281.6 1622.9 L1282.6 1623.7 L1283.6 1623.1 L1284.6 1623.2 L1285.6 1623.2 L1286.6 1622.9 L1287.6 1622.5 L1288.6 1623.4 L1289.6 1622.5 L1290.6 1623.3 L1291.6 1623.1 L1292.6 1623.1 L1293.6 1622.7 L1294.6 1623.2 L1295.6 1622.8 L1296.6 1622.8 L1297.6 1622.9 L1298.6 1623 L1299.6 1622.9 L1300.6 1623.1 L1301.6 1623.5 L1302.6 1623.3 L1303.6 1622.9 L1304.6 1623.4 L1305.6 1623 L1306.6 1622.9 L1307.6 1623.6 L1308.6 1623.2 L1309.6 1622.9 L1310.6 1623.5 L1311.6 1623.3 L1312.6 1623.4 L1313.6 1623.4 L1314.6 1622.8 L1315.6 1623.1 L1316.6 1623.6 L1317.6 1623 L1318.6 1623.1 L1319.6 1623 L1320.6 1623 L1321.6 1623.3 L1322.6 1623.3 L1323.6 1623.2 L1324.6 1623.2 L1325.6 1623 L1326.6 1623.4 L1327.6 1623.6 L1328.6 1623.5 L1329.6 1623 L1330.6 1623.4 L1331.6 1623.3 L1332.6 1623.1 L1333.6 1622.9 L1334.6 1623.1 L1335.6 1623.3 L1336.6 1623.1 L1337.6 1623 L1338.6 1623.2 L1339.6 1623.2 L1340.6 1623 L1341.6 1623.4 L1342.6 1623.4 L1343.6 1623.4 L1344.6 1622.9 L1345.6 1623.6 L1346.6 1623.6 L1347.6 1622.8 L1348.6 1623.2 L1349.6 1623.6 L1350.6 1623.6 L1351.6 1622.6 L1352.6 1623.1 L1353.6 1623 L1354.6 1623.2 L1355.6 1623.3 L1356.6 1623.7 L1357.6 1623.4 L1358.6 1623.4 L1359.6 1623 L1360.6 1623.5 L1361.6 1623.4 L1362.6 1623.2 L1363.6 1623.4 L1364.6 1623.2 L1365.6 1622.9 L1366.6 1623 L1367.6 1623.7 L1368.6 1623.4 L1369.6 1623.4 L1370.6 1624.1 L1371.6 1623.1 L1372.6 1623.2 L1373.6 1623.2 L1374.6 1623 L1375.6 1623.4 L1376.6 1623.2 L1377.6 1623.4 L1378.6 1622.5 L1379.6 1623.5 L1380.6 1623.5 L1381.6 1623.6 L1382.6 1623.2 L1383.6 1623.4 L1384.6 1623 L1385.6 1622.7 L1386.6 1623.9 L1387.6 1623.4 L1388.6 1623.3 L1389.6 1623.6 L1390.6 1622.9 L1391.6 1623.1 L1392.6 1623.8 L1393.6 1623.5 L1394.6 1623.9 L1395.6 1623.4 L1396.6 1623.8 L1397.6 1623.3 L1398.6 1623.4 L1399.6 1623.2 L1400.6 1623.5 L1401.6 1623.3 L1402.6 1623 L1403.6 1623.1 L1404.6 1623.5 L1405.6 1623 L1406.6 1623.2 L1407.6 1623 L1408.6 1623.4 L1409.6 1623.2 L1410.6 1623.7 L1411.6 1623.4 L1412.6 1623.5 L1413.6 1623 L1414.6 1623.5 L1415.6 1622.6 L1416.6 1623.6 L1417.6 1623.3 L1418.6 1623.6"/>
<path class="sp" stroke-width="2.5" d="M800.6 1731.5 L801.6 1731.2 L802.6 1730.9 L803.6 1731.3 L804.6 1731.3 L805.6 1731 L806.6 1731.5 L807.6 1731.7 L808.6 1731.5 L809.6 1731.5 L810.6 1731.6 L811.6 1731.2 L812.6 1731.2 L813.6 1731.3 L814.6 1731.3 L815.6 1731.9 L816.6 1730.8 L817.6 1731.7 L818.6 1731 L819.6 1731.3 L820.6 1731.4 L821.6 1731 L822.6 1731.4 L823.6 1731.8 L824.6 1731.3 L825.6 1731.8 L826.6 1731.2 L827.6 1731.3 L828.6 1731.7 L829.6 1731.1 L830.6 1731 L831.6 1731.6 L832.6 1731.4 L833.6 1731.8 L834.6 1731.1 L835.6 1731.5 L836.6 1731.7 L837.6 1731.5 L838.6 1731.6 L839.6 1731.2 L840.6 1731.5 L841.6 1731.2 L842.6 1731.2 L843.6 1731.6 L844.6 1731 L845.6 1731.4 L846.6 1731.4 L847.6 1731.5 L848.6 1730.9 L849.6 1731.7 L850.6 1731.8 L851.6 1731.3 L852.6 1731.3 L853.6 1731.4 L854.6 1731 L855.6 1731.5 L856.6 1731.5 L857.6 1731.4 L858.6 1731.5 L859.6 1731.2 L860.6 1731.8 L861.6 1731.9 L862.6 1730.8 L863.6 1731.3 L864.6 1731.6 L865.6 1731.3 L866.6 1731.2 L867.6 1731.4 L868.6 1731.8 L869.6 1731.4 L870.6 1731.3 L871.6 1731.8 L872.6 1731.3 L873.6 1731.6 L874.6 1731.3 L875.6 1731.5 L876.6 1731.1 L877.6 1732 L878.6 1731.6 L879.6 1731.9 L880.6 1731.3 L881.6 1731.2 L882.6 1731.3 L883.6 1731.1 L884.6 1731.1 L885.6 1731.1 L886.6 1731.3 L887.6 1731.3 L888.6 1731.4 L889.6 1731.4 L890.6 1731.5 L891.6 1731.5 L892.6 1731.3 L893.6 1731.7 L894.6 1731.2 L895.6 1730.9 L896.6 1731.8 L897.6 1731.7 L898.6 1731.2 L899.6 1731.7 L900.6 1731.3 L901.6 1731.1 L902.6 1730.9 L903.6 1731.5 L904.6 1731 L905.6 1731.3 L906.6 1730.9 L907.6 1731.3 L908.6 1730.8 L909.6 1731.4 L910.6 1731.3 L911.6 1731.3 L912.6 1731 L913.6 1731.5 L914.6 1731.3 L915.6 1731 L916.6 1730.7 L917.6 1731.2 L918.6 1730.9 L919.6 1730.5 L920.6 1731.1 L921.6 1731.3 L922.6 1731.5 L923.6 1731.4 L924.6 1731.1 L925.6 1730.9 L926.6 1731.1 L927.6 1731.8 L928.6 1731.2 L929.6 1731 L930.6 1731 L931.6 1731.5 L932.6 1731.4 L933.6 1731.2 L934.6 1730.9 L935.6 1731.1 L936.6 1731.3 L937.6 1731.1 L938.6 1731.7 L939.6 1731.5 L940.6 1731.2 L941.6 1731.1 L942.6 1731.8 L943.6 1731.3 L944.6 1731.5 L945.6 1731 L946.6 1731.3 L947.6 1731.1 L948.6 1731.6 L949.6 1731.3 L950.6 1731 L951.6 1731.3 L952.6 1731.6 L953.6 1730.4 L954.6 1731.3 L955.6 1731.1 L956.6 1731.8 L957.6 1731.2 L958.6 1730.2 L959.6 1731.5 L960.6 1731.4 L961.6 1731.1 L962.6 1731.5 L963.6 1731.2 L964.6 1731.1 L965.6 1731 L966.6 1730.6 L967.6 1731 L968.6 1731 L969.6 1730.6 L970.6 1731.1 L971.6 1731.5 L972.6 1730.7 L973.6 1730.6 L974.6 1730.5 L975.6 1730.9 L976.6 1730.6 L977.6 1730.7 L978.6 1730.9 L979.6 1731.1 L980.6 1730.7 L981.6 1731 L982.6 1731.2 L983.6 1730.4 L984.6 1730.3 L985.6 1730.7 L986.6 1730.7 L987.6 1731.3 L988.6 1731 L989.6 1731.1 L990.6 1731.1 L991.6 1731.1 L992.6 1730.7 L993.6 1730.9 L994.6 1730.8 L995.6 1730.3 L996.6 1730.7 L997.6 1730 L998.6 1729.6 L999.6 1729.8 L1000.6 1729.3 L1001.6 1729.5 L1002.6 1728.3 L1003.6 1727.6 L1004.6 1727 L1005.6 1725.3 L1006.6 1724.1 L1007.6 1721.9 L1008.6 1720.3 L1009.6 1717.8 L1010.6 1714.4 L1011.6 1712.4 L1012.6 1711.6 L1013.6 1710.3 L1014.6 1709.2 L1015.6 1709.6 L1016.6 1710.3 L1017.6 1711.7 L1018.6 1712.9 L1019.6 1713.7 L1020.6 1716.2 L1021.6 1718.2 L1022.6 1720.1 L1023.6 1721.6 L1024.6 1723.1 L1025.6 1724.3 L1026.6 1724.8 L1027.6 1726.6 L1028.6 1727.1 L1029.6 1727.4 L1030.6 1728.3 L1031.6 1728.1 L1032.6 1728.5 L1033.6 1728.4 L1034.6 1729.7 L1035.6 1729.2 L1036.6 1730 L1037.6 1729.5 L1038.6 1729.8 L1039.6 1730.1 L1040.6 1729.6 L1041.6 1730.1 L1042.6 1729.7 L1043.6 1730.9 L1044.6 1730.9 L1045.6 1730.1 L1046.6 1730.6 L1047.6 1730.4 L1048.6 1730.7 L1049.6 1730.3 L1050.6 1730.8 L1051.6 1730.5 L1052.6 1730.9 L1053.6 1731.2 L1054.6 1730.6 L1055.6 1730.8 L1056.6 1730.7 L1057.6 1730.7 L1058.6 1730.9 L1059.6 1730.1 L1060.6 1730 L1061.6 1731 L1062.6 1730.9 L1063.6 1730.9 L1064.6 1731.2 L1065.6 1730.6 L1066.6 1730.9 L1067.6 1730.7 L1068.6 1730.6 L1069.6 1730.5 L1070.6 1731.3 L1071.6 1731.3 L1072.6 1731 L1073.6 1730.7 L1074.6 1731.3 L1075.6 1730.8 L1076.6 1730.7 L1077.6 1730.8 L1078.6 1731 L1079.6 1730.9 L1080.6 1731.3 L1081.6 1730.7 L1082.6 1731.4 L1083.6 1730.9 L1084.6 1730.9 L1085.6 1730.9 L1086.6 1731 L1087.6 1731 L1088.6 1730.8 L1089.6 1731 L1090.6 1730.8 L1091.6 1731.2 L1092.6 1730.8 L1093.6 1730.6 L1094.6 1731.5 L1095.6 1730.5 L1096.6 1731 L1097.6 1730.9 L1098.6 1731.4 L1099.6 1731.4 L1100.6 1731 L1101.6 1730.7 L1102.6 1731.4 L1103.6 1730.6 L1104.6 1730.9 L1105.6 1730.6 L1106.6 1731.2 L1107.6 1731.1 L1108.6 1731.5 L1109.6 1730.9 L1110.6 1731.1 L1111.6 1731.2 L1112.6 1730.9 L1113.6 1730.3 L1114.6 1730.9 L1115.6 1731.1 L1116.6 1731 L1117.6 1731.3 L1118.6 1731.1 L1119.6 1730.5 L1120.6 1731 L1121.6 1730.9 L1122.6 1731.4 L1123.6 1730.6 L1124.6 1731.1 L1125.6 1731.4 L1126.6 1730.7 L1127.6 1731.2 L1128.6 1731.1 L1129.6 1731 L1130.6 1730.9 L1131.6 1731.1 L1132.6 1731.3 L1133.6 1730.3 L1134.6 1731.4 L1135.6 1730.1 L1136.6 1731.1 L1137.6 1730.7 L1138.6 1731.1 L1139.6 1730.8 L1140.6 1730.8 L1141.6 1730.8 L1142.6 1731.1 L1143.6 1730.7 L1144.6 1730.7 L1145.6 1730.3 L1146.6 1730.7 L1147.6 1731.1 L1148.6 1730.6 L1149.6 1730.5 L1150.6 1731.2 L1151.6 1730.4 L1152.6 1731.3 L1153.6 1731.2 L1154.6 1730.6 L1155.6 1730.7 L1156.6 1730.8 L1157.6 1730.7 L1158.6 1730.3 L1159.6 1730.5 L1160.6 1730.6 L1161.6 1730.6 L1162.6 1730 L1163.6 1730.2 L1164.6 1731.1 L1165.6 1730.4 L1166.6 1730.8 L1167.6 1730.5 L1168.6 1730 L1169.6 1730.7 L1170.6 1729.9 L1171.6 1730.3 L1172.6 1730.5 L1173.6 1730.8 L1174.6 1730.5 L1175.6 1730.5 L1176.6 1730.3 L1177.6 1730.2 L1178.6 1730.1 L1179.6 1730.4 L1180.6 1730 L1181.6 1730.3 L1182.6 1730.3 L1183.6 1730 L1184.6 1730.2 L1185.6 1730.1 L1186.6 1730 L1187.6 1729.6 L1188.6 1730.1 L1189.6 1729.7 L1190.6 1730 L1191.6 1730.2 L1192.6 1729.4 L1193.6 1729.1 L1194.6 1729.4 L1195.6 1728.9 L1196.6 1728.7 L1197.6 1728.8 L1198.6 1728.2 L1199.6 1728.6 L1200.6 1728.2 L1201.6 1727.4 L1202.6 1727.6 L1203.6 1727.3 L1204.6 1727.5 L1205.6 1727.4 L1206.6 1727.1 L1207.6 1726.1 L1208.6 1726 L1209.6 1725.5 L1210.6 1725 L1211.6 1724.8 L1212.6 1724.1 L1213.6 1723.4 L1214.6 1722 L1215.6 1720.4 L1216.6 1719.4 L1217.6 1717.3 L1218.6 1715.2 L1219.6 1713.4 L1220.6 1711 L1221.6 1707.2 L1222.6 1703.2 L1223.6 1700.1 L1224.6 1697.8 L1225.6 1694.5 L1226.6 1692.9 L1227.6 1691.3 L1228.6 1693.6 L1229.6 1696.3 L1230.6 1699.8 L1231.6 1703 L1232.6 1708.1 L1233.6 1712.1 L1234.6 1715.8 L1235.6 1717.9 L1236.6 1719.8 L1237.6 1721.6 L1238.6 1723.1 L1239.6 1723.8 L1240.6 1725 L1241.6 1725.2 L1242.6 1726.4 L1243.6 1726.5 L1244.6 1727.1 L1245.6 1726.9 L1246.6 1727 L1247.6 1727.8 L1248.6 1727.8 L1249.6 1727.8 L1250.6 1728 L1251.6 1728 L1252.6 1728.4 L1253.6 1729 L1254.6 1728.7 L1255.6 1729.4 L1256.6 1729.1 L1257.6 1729.3 L1258.6 1728.7 L1259.6 1728.2 L1260.6 1728.4 L1261.6 1728.1 L1262.6 1728.1 L1263.6 1727.5 L1264.6 1728.1 L1265.6 1728.4 L1266.6 1728.7 L1267.6 1729 L1268.6 1729.6 L1269.6 1730.1 L1270.6 1730 L1271.6 1729.8 L1272.6 1730.7 L1273.6 1730.5 L1274.6 1730.8 L1275.6 1730.4 L1276.6 1730.9 L1277.6 1730.2 L1278.6 1730.8 L1279.6 1730.6 L1280.6 1730.7 L1281.6 1730.9 L1282.6 1731 L1283.6 1730.6 L1284.6 1731.2 L1285.6 1730.7 L1286.6 1730.5 L1287.6 1731.1 L1288.6 1730.7 L1289.6 1730.7 L1290.6 1730.5 L1291.6 1730.7 L1292.6 1730.5 L1293.6 1731 L1294.6 1730.1 L1295.6 1730.8 L1296.6 1730.7 L1297.6 1730.5 L1298.6 1730.8 L1299.6 1730.8 L1300.6 1730.7 L1301.6 1730.6 L1302.6 1730.3 L1303.6 1731 L1304.6 1730.7 L1305.6 1731 L1306.6 1731.2 L1307.6 1730.9 L1308.6 1731.1 L1309.6 1730.3 L1310.6 1730.5 L1311.6 1731.1 L1312.6 1731.1 L1313.6 1731.1 L1314.6 1731.1 L1315.6 1730.6 L1316.6 1731.3 L1317.6 1730.6 L1318.6 1730.7 L1319.6 1731.4 L1320.6 1730.4 L1321.6 1730.7 L1322.6 1730.4 L1323.6 1730.7 L1324.6 1731.7 L1325.6 1731.1 L1326.6 1731 L1327.6 1731.4 L1328.6 1731.3 L1329.6 1730.6 L1330.6 1730.3 L1331.6 1731.1 L1332.6 1731 L1333.6 1730.8 L1334.6 1731.1 L1335.6 1731.4 L1336.6 1730.5 L1337.6 1730.7 L1338.6 1731 L1339.6 1731 L1340.6 1730.6 L1341.6 1731.1 L1342.6 1731.3 L1343.6 1730.8 L1344.6 1730.5 L1345.6 1731 L1346.6 1731.5 L1347.6 1731 L1348.6 1730.4 L1349.6 1730.7 L1350.6 1731 L1351.6 1731 L1352.6 1731 L1353.6 1731.5 L1354.6 1731.1 L1355.6 1730.9 L1356.6 1730.9 L1357.6 1731.5 L1358.6 1731.1 L1359.6 1730.9 L1360.6 1730.9 L1361.6 1730.9 L1362.6 1730.5 L1363.6 1731.1 L1364.6 1730.7 L1365.6 1730.7 L1366.6 1730.8 L1367.6 1730.7 L1368.6 1731.1 L1369.6 1731 L1370.6 1730.5 L1371.6 1730.7 L1372.6 1730.8 L1373.6 1731 L1374.6 1730.7 L1375.6 1731.1 L1376.6 1731.2 L1377.6 1731.1 L1378.6 1730.7 L1379.6 1730.7 L1380.6 1730.5 L1381.6 1730.9 L1382.6 1731.2 L1383.6 1731.2 L1384.6 1730.6 L1385.6 1730.9 L1386.6 1731.2 L1387.6 1730.4 L1388.6 1730.8 L1389.6 1731.4 L1390.6 1731 L1391.6 1730.8 L1392.6 1730.9 L1393.6 1730.5 L1394.6 1730.9 L1395.6 1730.9 L1396.6 1730.9 L1397.6 1730.8 L1398.6 1730.9 L1399.6 1731.5 L1400.6 1731 L1401.6 1731 L1402.6 1731.4 L1403.6 1731.1 L1404.6 1731 L1405.6 1730.9 L1406.6 1730.8 L1407.6 1730.6 L1408.6 1731 L1409.6 1730.9 L1410.6 1730.9 L1411.6 1731.4 L1412.6 1730.9 L1413.6 1731 L1414.6 1730.6 L1415.6 1730.9 L1416.6 1730.8 L1417.6 1730.8 L1418.6 1730.9"/>
<path class="sp" stroke-width="2.5" d="M800.6 1826.1 L801.6 1826.6 L802.6 1826.5 L803.6 1826.4 L804.6 1826.3 L805.6 1826.9 L806.6 1827 L807.6 1827.1 L808.6 1826.5 L809.6 1826.9 L810.6 1826.7 L811.6 1826.3 L812.6 1826.5 L813.6 1826.6 L814.6 1826.8 L815.6 1826.8 L816.6 1826.4 L817.6 1826.7 L818.6 1826.7 L819.6 1827.1 L820.6 1827 L821.6 1826.6 L822.6 1826.7 L823.6 1826.8 L824.6 1826.6 L825.6 1826.9 L826.6 1826.3 L827.6 1827 L828.6 1826.8 L829.6 1826.2 L830.6 1826.6 L831.6 1826.4 L832.6 1827 L833.6 1826.8 L834.6 1826.3 L835.6 1826.5 L836.6 1826.8 L837.6 1827.1 L838.6 1826.9 L839.6 1826.7 L840.6 1827.1 L841.6 1827 L842.6 1826.5 L843.6 1826.6 L844.6 1826.8 L845.6 1826.5 L846.6 1825.8 L847.6 1827 L848.6 1826.3 L849.6 1826.6 L850.6 1826.3 L851.6 1826.9 L852.6 1826.4 L853.6 1826.7 L854.6 1826 L855.6 1827.2 L856.6 1827.2 L857.6 1826.6 L858.6 1826.8 L859.6 1826.6 L860.6 1827.4 L861.6 1826.5 L862.6 1826.2 L863.6 1826.3 L864.6 1827.1 L865.6 1827.4 L866.6 1826.8 L867.6 1826.9 L868.6 1827.2 L869.6 1826.9 L870.6 1826.9 L871.6 1826.7 L872.6 1826.3 L873.6 1826.4 L874.6 1826.6 L875.6 1826 L876.6 1826.5 L877.6 1826.6 L878.6 1826.8 L879.6 1826.6 L880.6 1826.7 L881.6 1826.6 L882.6 1827.1 L883.6 1826.8 L884.6 1826.8 L885.6 1826.5 L886.6 1827.2 L887.6 1825.9 L888.6 1826.9 L889.6 1826.5 L890.6 1826.6 L891.6 1826.7 L892.6 1827 L893.6 1827 L894.6 1826.5 L895.6 1827.2 L896.6 1826.4 L897.6 1826.8 L898.6 1826.8 L899.6 1826.6 L900.6 1827.2 L901.6 1826.9 L902.6 1826.9 L903.6 1826.3 L904.6 1826.1 L905.6 1827 L906.6 1826.3 L907.6 1826.4 L908.6 1826.7 L909.6 1826.4 L910.6 1826.8 L911.6 1826.5 L912.6 1826.6 L913.6 1826.6 L914.6 1826.4 L915.6 1826.3 L916.6 1826.7 L917.6 1826.4 L918.6 1826.9 L919.6 1827.2 L920.6 1826.5 L921.6 1826.3 L922.6 1827 L923.6 1826.2 L924.6 1826.3 L925.6 1827.1 L926.6 1826.2 L927.6 1826.7 L928.6 1826.3 L929.6 1826.8 L930.6 1826.8 L931.6 1826.8 L932.6 1826.9 L933.6 1826.6 L934.6 1825.8 L935.6 1826.5 L936.6 1826.7 L937.6 1826.5 L938.6 1826.5 L939.6 1826.6 L940.6 1826.6 L941.6 1826 L942.6 1826.7 L943.6 1826.6 L944.6 1826.4 L945.6 1826 L946.6 1826.5 L947.6 1826.4 L948.6 1826 L949.6 1826.1 L950.6 1826.3 L951.6 1826.1 L952.6 1826.1 L953.6 1826.8 L954.6 1826.5 L955.6 1826.6 L956.6 1826.3 L957.6 1825.5 L958.6 1826.6 L959.6 1826.4 L960.6 1826.8 L961.6 1825.8 L962.6 1826 L963.6 1826.1 L964.6 1826.6 L965.6 1825.7 L966.6 1826.6 L967.6 1826.3 L968.6 1826.3 L969.6 1827 L970.6 1826.6 L971.6 1826.1 L972.6 1826.4 L973.6 1826.4 L974.6 1826.2 L975.6 1825.8 L976.6 1826 L977.6 1825.5 L978.6 1826 L979.6 1826.3 L980.6 1826.6 L981.6 1826.7 L982.6 1826.3 L983.6 1826.5 L984.6 1827 L985.6 1825.7 L986.6 1825.6 L987.6 1826.2 L988.6 1826 L989.6 1826.3 L990.6 1825.8 L991.6 1826.1 L992.6 1826.3 L993.6 1826.2 L994.6 1826.2 L995.6 1826.2 L996.6 1825.8 L997.6 1825.6 L998.6 1825.5 L999.6 1825.2 L1000.6 1825.2 L1001.6 1825 L1002.6 1824.6 L1003.6 1823.6 L1004.6 1823.3 L1005.6 1822.3 L1006.6 1821.6 L1007.6 1819.6 L1008.6 1818.5 L1009.6 1816.9 L1010.6 1816.7 L1011.6 1815.7 L1012.6 1815 L1013.6 1814.9 L1014.6 1816.6 L1015.6 1816.6 L1016.6 1817.4 L1017.6 1818.7 L1018.6 1819.9 L1019.6 1820.2 L1020.6 1821.1 L1021.6 1822.5 L1022.6 1822.4 L1023.6 1823.2 L1024.6 1823.9 L1025.6 1824.4 L1026.6 1824.4 L1027.6 1825.2 L1028.6 1824.9 L1029.6 1825.3 L1030.6 1824.6 L1031.6 1824.7 L1032.6 1825 L1033.6 1825.2 L1034.6 1825.9 L1035.6 1825.5 L1036.6 1825.7 L1037.6 1826.2 L1038.6 1826.4 L1039.6 1826 L1040.6 1825.8 L1041.6 1825.6 L1042.6 1826.2 L1043.6 1825.9 L1044.6 1826 L1045.6 1826.3 L1046.6 1825.8 L1047.6 1826.2 L1048.6 1826.4 L1049.6 1825.7 L1050.6 1825.9 L1051.6 1826 L1052.6 1826 L1053.6 1825.6 L1054.6 1826.1 L1055.6 1826.1 L1056.6 1825.8 L1057.6 1825.8 L1058.6 1826 L1059.6 1825.9 L1060.6 1826.1 L1061.6 1826 L1062.6 1825.9 L1063.6 1826.4 L1064.6 1825.7 L1065.6 1825.9 L1066.6 1826.5 L1067.6 1826.1 L1068.6 1826.4 L1069.6 1826.5 L1070.6 1825.9 L1071.6 1825.9 L1072.6 1825.8 L1073.6 1826.4 L1074.6 1826.1 L1075.6 1826.1 L1076.6 1826.5 L1077.6 1826.1 L1078.6 1825.9 L1079.6 1826.2 L1080.6 1826.3 L1081.6 1826 L1082.6 1826.9 L1083.6 1826.1 L1084.6 1826.2 L1085.6 1826.4 L1086.6 1826.1 L1087.6 1826.1 L1088.6 1826.3 L1089.6 1825.8 L1090.6 1826.9 L1091.6 1826 L1092.6 1826.1 L1093.6 1825.7 L1094.6 1826.2 L1095.6 1825.7 L1096.6 1826 L1097.6 1826.2 L1098.6 1826.2 L1099.6 1826.3 L1100.6 1826.1 L1101.6 1826.5 L1102.6 1826.1 L1103.6 1826 L1104.6 1825.5 L1105.6 1826.2 L1106.6 1826.2 L1107.6 1826.7 L1108.6 1826.2 L1109.6 1826.2 L1110.6 1825.9 L1111.6 1826.3 L1112.6 1826.5 L1113.6 1826.2 L1114.6 1826 L1115.6 1826.3 L1116.6 1826 L1117.6 1826.8 L1118.6 1826.8 L1119.6 1825.9 L1120.6 1826 L1121.6 1825.8 L1122.6 1826 L1123.6 1825.9 L1124.6 1826 L1125.6 1826 L1126.6 1826.1 L1127.6 1825.7 L1128.6 1826.2 L1129.6 1825.9 L1130.6 1826.1 L1131.6 1825.8 L1132.6 1825.5 L1133.6 1825.5 L1134.6 1825.6 L1135.6 1825.8 L1136.6 1826.3 L1137.6 1826.3 L1138.6 1826 L1139.6 1826.1 L1140.6 1826.5 L1141.6 1825.9 L1142.6 1826 L1143.6 1826 L1144.6 1825.8 L1145.6 1826.4 L1146.6 1826.1 L1147.6 1825.9 L1148.6 1825.7 L1149.6 1826.2 L1150.6 1825.9 L1151.6 1825.7 L1152.6 1826 L1153.6 1825.5 L1154.6 1826.3 L1155.6 1825.7 L1156.6 1825.5 L1157.6 1825.5 L1158.6 1825.7 L1159.6 1825.3 L1160.6 1825.8 L1161.6 1825.4 L1162.6 1825.9 L1163.6 1825.7 L1164.6 1825.6 L1165.6 1825.4 L1166.6 1825.5 L1167.6 1825.6 L1168.6 1825.5 L1169.6 1825.5 L1170.6 1825.5 L1171.6 1825.5 L1172.6 1825.4 L1173.6 1825.6 L1174.6 1825.8 L1175.6 1824.6 L1176.6 1825.2 L1177.6 1826 L1178.6 1825.3 L1179.6 1825.6 L1180.6 1825.6 L1181.6 1825.5 L1182.6 1825.7 L1183.6 1826.1 L1184.6 1825.1 L1185.6 1825.1 L1186.6 1825.4 L1187.6 1825.1 L1188.6 1825 L1189.6 1824.1 L1190.6 1824.7 L1191.6 1824.8 L1192.6 1824.7 L1193.6 1823.8 L1194.6 1823.9 L1195.6 1823.7 L1196.6 1824.1 L1197.6 1823.6 L1198.6 1824 L1199.6 1823.2 L1200.6 1822.9 L1201.6 1823.3 L1202.6 1822.4 L1203.6 1821.9 L1204.6 1821.8 L1205.6 1821.7 L1206.6 1821.1 L1207.6 1820.2 L1208.6 1819.5 L1209.6 1818.9 L1210.6 1818 L1211.6 1816.9 L1212.6 1815.8 L1213.6 1815.2 L1214.6 1813.7 L1215.6 1811.1 L1216.6 1808.4 L1217.6 1806.1 L1218.6 1802.4 L1219.6 1798.9 L1220.6 1793.2 L1221.6 1788 L1222.6 1782.8 L1223.6 1776.5 L1224.6 1772.4 L1225.6 1771.1 L1226.6 1773.8 L1227.6 1780.2 L1228.6 1787 L1229.6 1792.6 L1230.6 1797.4 L1231.6 1802.3 L1232.6 1806.2 L1233.6 1809.8 L1234.6 1812.3 L1235.6 1814.5 L1236.6 1817.1 L1237.6 1818.2 L1238.6 1819.1 L1239.6 1819.8 L1240.6 1820.8 L1241.6 1821.5 L1242.6 1822.3 L1243.6 1822.9 L1244.6 1823.4 L1245.6 1823.2 L1246.6 1823.3 L1247.6 1824 L1248.6 1824.7 L1249.6 1824 L1250.6 1825 L1251.6 1825.2 L1252.6 1825.1 L1253.6 1825.1 L1254.6 1825.1 L1255.6 1825 L1256.6 1825.1 L1257.6 1825.1 L1258.6 1825.4 L1259.6 1825.3 L1260.6 1825.1 L1261.6 1824.7 L1262.6 1824.6 L1263.6 1824.9 L1264.6 1824.8 L1265.6 1824.9 L1266.6 1825.3 L1267.6 1825.4 L1268.6 1825.9 L1269.6 1825.9 L1270.6 1825.9 L1271.6 1825.8 L1272.6 1826 L1273.6 1825.6 L1274.6 1825.8 L1275.6 1825.9 L1276.6 1826.3 L1277.6 1826.1 L1278.6 1826.3 L1279.6 1826.3 L1280.6 1826.4 L1281.6 1825.7 L1282.6 1826.3 L1283.6 1826 L1284.6 1826.2 L1285.6 1826.1 L1286.6 1826.2 L1287.6 1826.7 L1288.6 1825.7 L1289.6 1826.1 L1290.6 1826 L1291.6 1825.8 L1292.6 1825.6 L1293.6 1826.5 L1294.6 1825.9 L1295.6 1826.9 L1296.6 1826.4 L1297.6 1826.4 L1298.6 1826.5 L1299.6 1826.2 L1300.6 1826.4 L1301.6 1826.7 L1302.6 1826 L1303.6 1826.3 L1304.6 1826.4 L1305.6 1826.5 L1306.6 1826.2 L1307.6 1826.2 L1308.6 1826.3 L1309.6 1826.9 L1310.6 1826.2 L1311.6 1826.6 L1312.6 1826.5 L1313.6 1826.2 L1314.6 1826.3 L1315.6 1825.7 L1316.6 1826.4 L1317.6 1826.4 L1318.6 1826.2 L1319.6 1826.5 L1320.6 1826.9 L1321.6 1825.8 L1322.6 1826.6 L1323.6 1826.3 L1324.6 1826.4 L1325.6 1826.7 L1326.6 1826.6 L1327.6 1826.2 L1328.6 1826.4 L1329.6 1826.9 L1330.6 1826.3 L1331.6 1826.4 L1332.6 1826.2 L1333.6 1826.5 L1334.6 1826.4 L1335.6 1826.3 L1336.6 1826.2 L1337.6 1826 L1338.6 1826.5 L1339.6 1826.6 L1340.6 1825.8 L1341.6 1826.9 L1342.6 1826.9 L1343.6 1826 L1344.6 1825.9 L1345.6 1826.7 L1346.6 1826.4 L1347.6 1826.2 L1348.6 1826.4 L1349.6 1826 L1350.6 1826.4 L1351.6 1826.1 L1352.6 1826.4 L1353.6 1826.7 L1354.6 1826.8 L1355.6 1826 L1356.6 1826.6 L1357.6 1826.2 L1358.6 1827 L1359.6 1826.3 L1360.6 1825.9 L1361.6 1826.4 L1362.6 1826.1 L1363.6 1826.6 L1364.6 1826.7 L1365.6 1826.2 L1366.6 1826.2 L1367.6 1826.4 L1368.6 1826.1 L1369.6 1826.1 L1370.6 1826.5 L1371.6 1826.6 L1372.6 1826.4 L1373.6 1826.6 L1374.6 1827 L1375.6 1826.6 L1376.6 1826.2 L1377.6 1826 L1378.6 1826.1 L1379.6 1826.4 L1380.6 1826.5 L1381.6 1826.3 L1382.6 1826.1 L1383.6 1826.4 L1384.6 1826.1 L1385.6 1826.4 L1386.6 1826.2 L1387.6 1826.4 L1388.6 1826 L1389.6 1826 L1390.6 1826.6 L1391.6 1826.5 L1392.6 1826.3 L1393.6 1825.9 L1394.6 1826.7 L1395.6 1826.2 L1396.6 1826.2 L1397.6 1826.1 L1398.6 1826.6 L1399.6 1826.8 L1400.6 1826.6 L1401.6 1826.1 L1402.6 1826.7 L1403.6 1826.1 L1404.6 1827.3 L1405.6 1826.3 L1406.6 1826.5 L1407.6 1826.3 L1408.6 1826.6 L1409.6 1826.6 L1410.6 1826.8 L1411.6 1826.4 L1412.6 1826.7 L1413.6 1826.6 L1414.6 1826.8 L1415.6 1826.3 L1416.6 1827.6 L1417.6 1827 L1418.6 1826.3"/>
<path class="sp" stroke-width="2.5" d="M800.6 1909.5 L801.6 1909.9 L802.6 1909 L803.6 1909.7 L804.6 1908.9 L805.6 1908.9 L806.6 1909 L807.6 1909.2 L808.6 1908.6 L809.6 1909.3 L810.6 1908.9 L811.6 1908.6 L812.6 1908.5 L813.6 1909.1 L814.6 1908.5 L815.6 1909.1 L816.6 1909 L817.6 1910.1 L818.6 1908.4 L819.6 1909.6 L820.6 1908.9 L821.6 1908.9 L822.6 1909.4 L823.6 1910.2 L824.6 1909.3 L825.6 1908.5 L826.6 1909 L827.6 1908.7 L828.6 1908.2 L829.6 1909.1 L830.6 1908.7 L831.6 1910 L832.6 1909 L833.6 1908.7 L834.6 1909.8 L835.6 1909.2 L836.6 1908.6 L837.6 1908.3 L838.6 1909.1 L839.6 1909.3 L840.6 1909.6 L841.6 1909.7 L842.6 1909.4 L843.6 1909.1 L844.6 1909.6 L845.6 1909.7 L846.6 1908.9 L847.6 1909.1 L848.6 1908.9 L849.6 1908.9 L850.6 1909.4 L851.6 1909.1 L852.6 1908.9 L853.6 1909.4 L854.6 1909.7 L855.6 1909.8 L856.6 1909 L857.6 1908.3 L858.6 1909.4 L859.6 1909.3 L860.6 1909.2 L861.6 1910 L862.6 1909.2 L863.6 1909.3 L864.6 1909.4 L865.6 1908.4 L866.6 1909.1 L867.6 1908.8 L868.6 1908.6 L869.6 1909.1 L870.6 1909.2 L871.6 1909.8 L872.6 1909.1 L873.6 1909.4 L874.6 1910.3 L875.6 1909.7 L876.6 1909.5 L877.6 1908.9 L878.6 1909 L879.6 1909 L880.6 1908.7 L881.6 1909.4 L882.6 1909.5 L883.6 1909 L884.6 1909.2 L885.6 1908.8 L886.6 1909.8 L887.6 1910 L888.6 1908.4 L889.6 1909.2 L890.6 1908.8 L891.6 1909.7 L892.6 1908.6 L893.6 1909.1 L894.6 1909.2 L895.6 1908.5 L896.6 1909.9 L897.6 1908.9 L898.6 1909 L899.6 1909.4 L900.6 1908.5 L901.6 1909.9 L902.6 1909.7 L903.6 1908.9 L904.6 1909.7 L905.6 1908.9 L906.6 1909.4 L907.6 1909.1 L908.6 1910.4 L909.6 1908.4 L910.6 1909 L911.6 1908.6 L912.6 1909.1 L913.6 1909.7 L914.6 1908.9 L915.6 1909.7 L916.6 1907.9 L917.6 1909.8 L918.6 1909.7 L919.6 1909.8 L920.6 1909.1 L921.6 1908.5 L922.6 1909 L923.6 1908.9 L924.6 1909.1 L925.6 1908.3 L926.6 1909.9 L927.6 1909.9 L928.6 1909.3 L929.6 1909.2 L930.6 1909.5 L931.6 1910 L932.6 1908.4 L933.6 1908.7 L934.6 1909.8 L935.6 1909.1 L936.6 1909.2 L937.6 1909.1 L938.6 1908.6 L939.6 1908.9 L940.6 1910.1 L941.6 1908.8 L942.6 1909 L943.6 1909.2 L944.6 1909.4 L945.6 1909.4 L946.6 1908.7 L947.6 1909.3 L948.6 1909.8 L949.6 1908.4 L950.6 1909.5 L951.6 1908.8 L952.6 1908.7 L953.6 1908.4 L954.6 1909.4 L955.6 1910.3 L956.6 1908.5 L957.6 1909.4 L958.6 1909.2 L959.6 1908.7 L960.6 1909.5 L961.6 1909 L962.6 1909.2 L963.6 1909.3 L964.6 1908.7 L965.6 1910.2 L966.6 1909.3 L967.6 1909.4 L968.6 1909 L969.6 1908.9 L970.6 1909 L971.6 1909 L972.6 1909.9 L973.6 1909.8 L974.6 1909 L975.6 1908.7 L976.6 1909.2 L977.6 1908.5 L978.6 1908.8 L979.6 1909.6 L980.6 1910.1 L981.6 1909 L982.6 1909 L983.6 1909.3 L984.6 1909.2 L985.6 1909.3 L986.6 1909.6 L987.6 1908.7 L988.6 1909 L989.6 1909.4 L990.6 1909.7 L991.6 1909 L992.6 1908.5 L993.6 1908.6 L994.6 1909.5 L995.6 1908.9 L996.6 1909.2 L997.6 1909.2 L998.6 1908.9 L999.6 1909.7 L1000.6 1909.7 L1001.6 1908.9 L1002.6 1908.8 L1003.6 1909.4 L1004.6 1909.1 L1005.6 1909.9 L1006.6 1909.8 L1007.6 1909 L1008.6 1909 L1009.6 1908.3 L1010.6 1908.8 L1011.6 1908.1 L1012.6 1908.9 L1013.6 1909.2 L1014.6 1908.5 L1015.6 1908.8 L1016.6 1909.2 L1017.6 1908.5 L1018.6 1908.8 L1019.6 1910.3 L1020.6 1908.9 L1021.6 1909 L1022.6 1909.9 L1023.6 1909.1 L1024.6 1908.7 L1025.6 1909.4 L1026.6 1908.6 L1027.6 1909.3 L1028.6 1909.2 L1029.6 1908.5 L1030.6 1908.7 L1031.6 1908.4 L1032.6 1908.3 L1033.6 1909 L1034.6 1909.3 L1035.6 1908.9 L1036.6 1908.8 L1037.6 1909.2 L1038.6 1909.3 L1039.6 1908.5 L1040.6 1909.4 L1041.6 1908.5 L1042.6 1908.9 L1043.6 1909.5 L1044.6 1908.3 L1045.6 1909.3 L1046.6 1908.6 L1047.6 1908.3 L1048.6 1909 L1049.6 1908 L1050.6 1909.5 L1051.6 1909.2 L1052.6 1908.9 L1053.6 1908.5 L1054.6 1909 L1055.6 1908.1 L1056.6 1909.1 L1057.6 1909.2 L1058.6 1908.9 L1059.6 1908.4 L1060.6 1908.5 L1061.6 1909 L1062.6 1908 L1063.6 1909.1 L1064.6 1909.1 L1065.6 1908.1 L1066.6 1909.2 L1067.6 1908.6 L1068.6 1909.2 L1069.6 1909 L1070.6 1908.7 L1071.6 1909.1 L1072.6 1908.6 L1073.6 1909.3 L1074.6 1908.9 L1075.6 1908.8 L1076.6 1909.1 L1077.6 1908.8 L1078.6 1908.1 L1079.6 1909.4 L1080.6 1909.3 L1081.6 1909.2 L1082.6 1909.4 L1083.6 1909.2 L1084.6 1909.3 L1085.6 1908.9 L1086.6 1908.5 L1087.6 1909.1 L1088.6 1908.8 L1089.6 1909 L1090.6 1908.9 L1091.6 1908.6 L1092.6 1909 L1093.6 1908.7 L1094.6 1909.5 L1095.6 1908.3 L1096.6 1908.3 L1097.6 1908.8 L1098.6 1908.9 L1099.6 1908.5 L1100.6 1909.3 L1101.6 1909.2 L1102.6 1909.2 L1103.6 1909.2 L1104.6 1908.1 L1105.6 1908.9 L1106.6 1908.4 L1107.6 1909.1 L1108.6 1908.9 L1109.6 1909.6 L1110.6 1909.1 L1111.6 1908.2 L1112.6 1909.2 L1113.6 1909.1 L1114.6 1908.9 L1115.6 1908.8 L1116.6 1908.5 L1117.6 1908.5 L1118.6 1908.7 L1119.6 1909.2 L1120.6 1908.8 L1121.6 1908.7 L1122.6 1908.5 L1123.6 1909.6 L1124.6 1909.3 L1125.6 1909.1 L1126.6 1909.1 L1127.6 1909.9 L1128.6 1909.6 L1129.6 1909.2 L1130.6 1908.5 L1131.6 1909.3 L1132.6 1908.5 L1133.6 1908.6 L1134.6 1908.8 L1135.6 1908.6 L1136.6 1907.8 L1137.6 1909.2 L1138.6 1909 L1139.6 1908.8 L1140.6 1909.6 L1141.6 1908.9 L1142.6 1908.5 L1143.6 1910 L1144.6 1908.6 L1145.6 1907.8 L1146.6 1909.1 L1147.6 1908.6 L1148.6 1908.6 L1149.6 1908.9 L1150.6 1908.2 L1151.6 1908.7 L1152.6 1909.2 L1153.6 1909.6 L1154.6 1908.5 L1155.6 1908.7 L1156.6 1908 L1157.6 1909 L1158.6 1908.4 L1159.6 1908.4 L1160.6 1909 L1161.6 1908.5 L1162.6 1908.7 L1163.6 1908.8 L1164.6 1908.9 L1165.6 1908.5 L1166.6 1908.6 L1167.6 1908 L1168.6 1909 L1169.6 1908.4 L1170.6 1908.4 L1171.6 1908.5 L1172.6 1908.5 L1173.6 1909 L1174.6 1908.9 L1175.6 1909.1 L1176.6 1909.5 L1177.6 1910 L1178.6 1908.7 L1179.6 1908.7 L1180.6 1908.5 L1181.6 1908.6 L1182.6 1908 L1183.6 1908.8 L1184.6 1908.9 L1185.6 1908.7 L1186.6 1908.5 L1187.6 1908.4 L1188.6 1908.1 L1189.6 1908.2 L1190.6 1908.6 L1191.6 1908.7 L1192.6 1908 L1193.6 1908.8 L1194.6 1909.3 L1195.6 1908.7 L1196.6 1908.6 L1197.6 1908.3 L1198.6 1907.9 L1199.6 1907.7 L1200.6 1908.1 L1201.6 1907.8 L1202.6 1907 L1203.6 1907.1 L1204.6 1907.2 L1205.6 1907.1 L1206.6 1907.5 L1207.6 1906 L1208.6 1906.4 L1209.6 1906.3 L1210.6 1906 L1211.6 1905.2 L1212.6 1904.2 L1213.6 1903.2 L1214.6 1902 L1215.6 1901.6 L1216.6 1899.9 L1217.6 1899.7 L1218.6 1897.4 L1219.6 1895.7 L1220.6 1891.5 L1221.6 1889.8 L1222.6 1886.5 L1223.6 1880.4 L1224.6 1874 L1225.6 1868.4 L1226.6 1863.4 L1227.6 1860 L1228.6 1856.8 L1229.6 1859.3 L1230.6 1859.4 L1231.6 1863.8 L1232.6 1866.8 L1233.6 1876.3 L1234.6 1884.3 L1235.6 1891.5 L1236.6 1894.7 L1237.6 1897.3 L1238.6 1898.8 L1239.6 1900.4 L1240.6 1902.2 L1241.6 1902.9 L1242.6 1903.7 L1243.6 1903.6 L1244.6 1904.6 L1245.6 1904.5 L1246.6 1905.9 L1247.6 1905.5 L1248.6 1906.6 L1249.6 1906.4 L1250.6 1907.4 L1251.6 1907 L1252.6 1908.3 L1253.6 1907.2 L1254.6 1907.1 L1255.6 1907.6 L1256.6 1907.6 L1257.6 1908.5 L1258.6 1909.1 L1259.6 1907.6 L1260.6 1908.2 L1261.6 1907.8 L1262.6 1909 L1263.6 1908.5 L1264.6 1908.5 L1265.6 1907.8 L1266.6 1909 L1267.6 1909.3 L1268.6 1909.9 L1269.6 1908.4 L1270.6 1907.8 L1271.6 1908.3 L1272.6 1908 L1273.6 1908.7 L1274.6 1908.1 L1275.6 1908.3 L1276.6 1908.8 L1277.6 1908.5 L1278.6 1908.3 L1279.6 1908.8 L1280.6 1908.1 L1281.6 1908 L1282.6 1909.3 L1283.6 1908.5 L1284.6 1908 L1285.6 1909.1 L1286.6 1908.9 L1287.6 1909.6 L1288.6 1908.5 L1289.6 1908.3 L1290.6 1908.3 L1291.6 1909.1 L1292.6 1908.6 L1293.6 1908.7 L1294.6 1909 L1295.6 1908.2 L1296.6 1908.6 L1297.6 1909.8 L1298.6 1909.1 L1299.6 1908.6 L1300.6 1909.7 L1301.6 1909.1 L1302.6 1908.7 L1303.6 1908.6 L1304.6 1909.2 L1305.6 1908.9 L1306.6 1909.2 L1307.6 1908.7 L1308.6 1908.8 L1309.6 1908.5 L1310.6 1909.5 L1311.6 1909.5 L1312.6 1908.6 L1313.6 1909.5 L1314.6 1909.4 L1315.6 1909 L1316.6 1908.5 L1317.6 1909.5 L1318.6 1908.3 L1319.6 1909.2 L1320.6 1908.6 L1321.6 1908.4 L1322.6 1909.4 L1323.6 1909.2 L1324.6 1908.2 L1325.6 1909.2 L1326.6 1908.6 L1327.6 1909.2 L1328.6 1909.7 L1329.6 1907.9 L1330.6 1909.4 L1331.6 1908.9 L1332.6 1910.8 L1333.6 1909.9 L1334.6 1909.8 L1335.6 1909 L1336.6 1908.6 L1337.6 1909.3 L1338.6 1908.6 L1339.6 1909.4 L1340.6 1909.1 L1341.6 1909.2 L1342.6 1909.9 L1343.6 1908.9 L1344.6 1909.1 L1345.6 1909.9 L1346.6 1908.8 L1347.6 1909 L1348.6 1909.1 L1349.6 1909.5 L1350.6 1909.5 L1351.6 1908.7 L1352.6 1909.5 L1353.6 1909.4 L1354.6 1909.4 L1355.6 1909.2 L1356.6 1910.1 L1357.6 1909.3 L1358.6 1909.3 L1359.6 1908.9 L1360.6 1909.3 L1361.6 1909.5 L1362.6 1908.7 L1363.6 1909.3 L1364.6 1909.1 L1365.6 1909.8 L1366.6 1909.5 L1367.6 1908.7 L1368.6 1908.7 L1369.6 1909.5 L1370.6 1908.9 L1371.6 1909.9 L1372.6 1909.1 L1373.6 1909.8 L1374.6 1908.6 L1375.6 1909.2 L1376.6 1908.6 L1377.6 1909.6 L1378.6 1910.2 L1379.6 1908.9 L1380.6 1909.1 L1381.6 1909.9 L1382.6 1909 L1383.6 1909.8 L1384.6 1909.4 L1385.6 1909.9 L1386.6 1909 L1387.6 1908.8 L1388.6 1909.9 L1389.6 1908.9 L1390.6 1909.3 L1391.6 1908.8 L1392.6 1909.6 L1393.6 1910.2 L1394.6 1910.2 L1395.6 1909.2 L1396.6 1909.4 L1397.6 1909.3 L1398.6 1909 L1399.6 1909.5 L1400.6 1909.4 L1401.6 1909.8 L1402.6 1909.5 L1403.6 1909.2 L1404.6 1908.8 L1405.6 1909.4 L1406.6 1908.8 L1407.6 1910.6 L1408.6 1909.4 L1409.6 1909.5 L1410.6 1909.5 L1411.6 1910.2 L1412.6 1910.3 L1413.6 1909.3 L1414.6 1909.4 L1415.6 1908.9 L1416.6 1909.4 L1417.6 1909.5 L1418.6 1910.1"/>
<path class="ax" d="M801.7 1936.3 v12.3M845.8 1936.3 v6M890 1936.3 v12.3M934.1 1936.3 v6M978.2 1936.3 v12.3M1022.3 1936.3 v6M1066.5 1936.3 v12.3M1110.6 1936.3 v6M1154.7 1936.3 v12.3M1198.9 1936.3 v6M1243 1936.3 v12.3M1287.1 1936.3 v6M1331.2 1936.3 v12.3M1375.4 1936.3 v6M1419.5 1936.3 v12.3"/>
<g font-size="30.6" text-anchor="middle">
<text x="801.7" y="1981.1">1100</text>
<text x="890" y="1981.1">1200</text>
<text x="978.2" y="1981.1">1300</text>
<text x="1066.5" y="1981.1">1400</text>
<text x="1154.7" y="1981.1">1500</text>
<text x="1243" y="1981.1">1600</text>
<text x="1331.2" y="1981.1">1700</text>
<text x="1419.5" y="1981.1">1800</text>
</g>
<circle cx="847.2" cy="1118.6" r="23.7" fill="#00834a"/>
<text class="cl" transform="translate(833.36 1132.92) scale(1.04 1)" font-size="42.5">6</text>
<circle cx="847.2" cy="1290.5" r="23.7" fill="#00834a"/>
<text class="cl" transform="translate(837.70 1306.51) scale(0.9 1)" font-size="42.5">5</text>
<circle cx="847.2" cy="1462.2" r="23.7" fill="#00834a"/>
<text class="cl" transform="translate(834.93 1478.02) scale(1.05 1)" font-size="42.5">4</text>
<circle cx="847.2" cy="1578.2" r="23.7" fill="#00834a"/>
<text class="cl" transform="translate(837.65 1594.52) scale(0.92 1)" font-size="42.5">3</text>
<circle cx="847.2" cy="1690.7" r="23.7" fill="#00834a"/>
<text class="cl" transform="translate(835.38 1706.83) scale(1.0 1)" font-size="42.5">2</text>
<circle cx="847.2" cy="1783.1" r="23.7" fill="#00834a"/>
<text class="cl" transform="translate(836.29 1798.72) scale(0.8 1)" font-size="42.5">1</text>
<circle cx="850.2" cy="1876.8" r="23.7" fill="#00834a"/>
<text class="cl" transform="translate(837.48 1890.84) scale(0.85 1)" font-size="44" style="stroke-width:0.84px">A</text>
</g>
<text x="-2.2" y="1078.2" font-size="61">(b)</text>
<text x="721.2" y="1078.6" font-size="59">(c)</text>
<text y="1130.9" font-size="35.5"><tspan class="it" x="334">L</tspan><tspan font-size="18" x="350.6" dy="12.7">a</tspan><tspan x="370" dy="-12.7">=</tspan><tspan x="399.5">3</tspan><tspan x="428.2">nm</tspan></text>
<text y="1211.7" font-size="35.5"><tspan class="it" x="331.6">L</tspan><tspan font-size="18" x="347.8" dy="12.7">a</tspan><tspan x="367.3" dy="-12.7">=</tspan><tspan x="398.2">10</tspan><tspan x="444.7">nm</tspan></text>
<text y="1365.7" font-size="35.5"><tspan class="it" x="325.4">L</tspan><tspan font-size="18" x="341.5" dy="12.7">a</tspan><tspan x="361" dy="-12.7">=</tspan><tspan x="391.9">17</tspan><tspan x="438.8">nm</tspan></text>
<text y="1547.5" font-size="35.5"><tspan class="it" x="325.4">L</tspan><tspan font-size="18" x="341.5" dy="12.7">a</tspan><tspan x="361" dy="-12.7">=</tspan><tspan x="390.9">30</tspan><tspan x="438.8">nm</tspan></text>
<text y="1730.6" font-size="35.5"><tspan class="it" x="321.6">L</tspan><tspan font-size="18" x="337.4" dy="12.7">a</tspan><tspan x="356.9" dy="-12.7">=</tspan><tspan x="387">58</tspan><tspan x="434.7">nm</tspan></text>
<text x="331.2" y="1895.1" font-size="35.5">Pristine</text>
<text y="1094.7" font-size="35.5"><tspan class="it" x="1057.5">L</tspan><tspan font-size="19.5" x="1073.5" dy="12.4">D</tspan><tspan x="1097.2" dy="-12.4">=</tspan><tspan x="1127.4">1</tspan><tspan x="1155.4">nm</tspan></text>
<text y="1235.4" font-size="35.5"><tspan class="it" x="1058.2">L</tspan><tspan font-size="19.5" x="1074.2" dy="12.4">D</tspan><tspan x="1097.9" dy="-12.4">=</tspan><tspan x="1127.3">2</tspan><tspan x="1156">nm</tspan></text>
<text y="1488.4" font-size="35.5"><tspan class="it" x="1058.1">L</tspan><tspan font-size="19.5" x="1074.5" dy="12.4">D</tspan><tspan x="1097.8" dy="-12.4">=</tspan><tspan x="1127.6">5</tspan><tspan x="1156">nm</tspan></text>
<text y="1603.3" font-size="35.5"><tspan class="it" x="1057.4">L</tspan><tspan font-size="19.5" x="1073.7" dy="12.4">D</tspan><tspan x="1096.8" dy="-12.4">=</tspan><tspan x="1126.5">7</tspan><tspan x="1155.3">nm</tspan></text>
<text y="1710.2" font-size="35.5"><tspan class="it" x="1037.4">L</tspan><tspan font-size="19.5" x="1053.2" dy="12.4">D</tspan><tspan x="1076.9" dy="-12.4">=</tspan><tspan x="1108.7">14</tspan><tspan x="1154.4">nm</tspan></text>
<text y="1806.9" font-size="35.5"><tspan class="it" x="1039.6">L</tspan><tspan font-size="19.5" x="1055.6" dy="12.4">D</tspan><tspan x="1079.2" dy="-12.4">=</tspan><tspan x="1109.1">24</tspan><tspan x="1156.7">nm</tspan></text>
<text x="1057.7" y="1895.1" font-size="35.5">Pristine</text>
<text x="1021.8" y="1355.5" font-size="30" text-anchor="middle">D</text>
<text x="1236" y="1445.6" font-size="30" text-anchor="middle">G</text>
<text x="1260.3" y="1480.9" font-size="30">D´</text>
<text x="435.5" y="2040.8" font-size="39.65" text-anchor="middle">Raman shift (cm<tspan font-size="19.5" dy="-22" dx="0.5">-1</tspan><tspan dy="22" dx="1.3">)</tspan></text>
<text x="1125.8" y="2040.8" font-size="39.65" text-anchor="middle">Raman shift (cm<tspan font-size="19.5" dy="-22" dx="0.5">-1</tspan><tspan dy="22" dx="1.3">)</tspan></text>
<text transform="translate(53.6 1501.4) rotate(-90)" font-size="39.6" text-anchor="middle">Intensity (arb. units)</text>
<text transform="translate(772.1 1501.4) rotate(-90)" font-size="39.6" text-anchor="middle">Intensity (arb. units)</text>
</svg></body></html>
